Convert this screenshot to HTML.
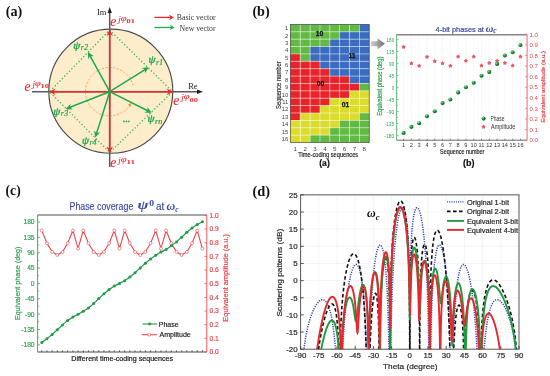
<!DOCTYPE html>
<html><head><meta charset="utf-8"><style>
html,body{margin:0;padding:0;background:#fff;width:550px;height:376px;overflow:hidden}
svg{display:block;will-change:transform}
</style></head><body>
<svg width="550" height="376" viewBox="0 0 550 376">
<rect width="550" height="376" fill="#fff"/>
<text x="5.80" y="16.10" font-family='"Liberation Serif", serif' font-size="14.2" fill="#111" text-anchor="start" font-weight="bold" font-style="normal" >(a)</text>
<circle cx="110.8" cy="91.2" r="62" fill="#fdedcb" stroke="#4a4a4a" stroke-width="1.15"/>
<polygon points="109.7,30 172.5,91.7 109.7,152.5 49.5,91.7" fill="none" stroke="#3dbb5a" stroke-width="1.4" stroke-dasharray="1.3 2.1"/>
<path d="M133.08,85.44 A24.2,24.2 0 1 0 130.00,104.88" fill="none" stroke="#f2a050" stroke-width="0.9" stroke-dasharray="2.2 1.5"/>
<polygon points="131.50,102.88 128.00,104.38 130.50,106.88" fill="#f5893a"/>
<line x1="32.00" y1="91.70" x2="199.00" y2="91.70" stroke="#5a5a5a" stroke-width="1.5" />
<polygon points="203,91.7 197,89.5 197,93.9" fill="#222"/>
<line x1="109.70" y1="167.00" x2="109.70" y2="11.00" stroke="#5a5a5a" stroke-width="1.5" />
<polygon points="109.7,7 107.5,13 111.9,13" fill="#222"/>
<line x1="109.70" y1="91.70" x2="169.30" y2="91.70" stroke="#ec2a2e" stroke-width="1.6" />
<polygon points="173.20,91.70 166.70,95.00 168.65,91.70 166.70,88.40" fill="#ec2a2e"/>
<line x1="109.70" y1="91.70" x2="52.90" y2="91.70" stroke="#ec2a2e" stroke-width="1.6" />
<polygon points="49.00,91.70 55.50,88.40 53.55,91.70 55.50,95.00" fill="#ec2a2e"/>
<line x1="109.70" y1="91.70" x2="109.70" y2="33.40" stroke="#ec2a2e" stroke-width="1.6" />
<polygon points="109.70,29.50 113.00,36.00 109.70,34.05 106.40,36.00" fill="#ec2a2e"/>
<line x1="109.70" y1="91.70" x2="109.70" y2="149.10" stroke="#ec2a2e" stroke-width="1.6" />
<polygon points="109.70,153.00 106.40,146.50 109.70,148.45 113.00,146.50" fill="#ec2a2e"/>
<line x1="109.70" y1="91.70" x2="145.50" y2="69.27" stroke="#1ea84c" stroke-width="1.5" />
<polygon points="148.80,67.20 144.99,73.36 144.94,69.62 141.59,67.94" fill="#1ea84c"/>
<line x1="109.70" y1="91.70" x2="89.78" y2="55.42" stroke="#1ea84c" stroke-width="1.5" />
<polygon points="87.90,52.00 93.83,56.16 90.09,55.99 88.22,59.24" fill="#1ea84c"/>
<line x1="109.70" y1="91.70" x2="69.33" y2="107.57" stroke="#1ea84c" stroke-width="1.5" />
<polygon points="65.70,109.00 70.58,103.64 69.93,107.34 72.92,109.60" fill="#1ea84c"/>
<line x1="109.70" y1="91.70" x2="96.37" y2="133.88" stroke="#1ea84c" stroke-width="1.5" />
<polygon points="95.20,137.60 94.11,130.44 96.57,133.26 100.21,132.37" fill="#1ea84c"/>
<line x1="109.70" y1="91.70" x2="148.21" y2="110.96" stroke="#1ea84c" stroke-width="1.5" />
<polygon points="151.70,112.70 144.46,112.66 147.63,110.67 147.32,106.93" fill="#1ea84c"/>
<text x="97.00" y="14.70" font-family='"Liberation Serif", serif' font-size="8.5" fill="#222" text-anchor="start" font-weight="normal" font-style="normal" >Im</text>
<text x="188.20" y="88.60" font-family='"Liberation Serif", serif' font-size="8.5" fill="#222" text-anchor="start" font-weight="normal" font-style="normal" >Re</text>
<text x="110.30" y="26.00" font-family='"Liberation Serif", serif' fill='#ec2a2e' font-style="italic" font-size="13.6" stroke="#ec2a2e" stroke-width="0.12">e</text>
<text x="118.30" y="21.90" font-family='"Liberation Serif", serif' fill='#ec2a2e' font-style="italic" font-size="9" stroke="#ec2a2e" stroke-width="0.1">j</text>
<text x="120.80" y="20.80" font-family='"Liberation Serif", serif' fill='#ec2a2e' font-style="italic" font-size="9" stroke="#ec2a2e" stroke-width="0.12" textLength="5.8" lengthAdjust="spacingAndGlyphs">φ</text>
<text x="126.50" y="23.00" font-family='"Liberation Serif", serif' fill='#ec2a2e' font-weight="bold" font-size="6.2" textLength="8.5" lengthAdjust="spacingAndGlyphs">01</text>
<text x="173.20" y="104.50" font-family='"Liberation Serif", serif' fill='#ec2a2e' font-style="italic" font-size="13.6" stroke="#ec2a2e" stroke-width="0.12">e</text>
<text x="181.20" y="100.40" font-family='"Liberation Serif", serif' fill='#ec2a2e' font-style="italic" font-size="9" stroke="#ec2a2e" stroke-width="0.1">j</text>
<text x="183.70" y="99.30" font-family='"Liberation Serif", serif' fill='#ec2a2e' font-style="italic" font-size="9" stroke="#ec2a2e" stroke-width="0.12" textLength="5.8" lengthAdjust="spacingAndGlyphs">φ</text>
<text x="189.40" y="101.50" font-family='"Liberation Serif", serif' fill='#ec2a2e' font-weight="bold" font-size="6.2" textLength="8.5" lengthAdjust="spacingAndGlyphs">00</text>
<text x="24.40" y="90.90" font-family='"Liberation Serif", serif' fill='#ec2a2e' font-style="italic" font-size="13.6" stroke="#ec2a2e" stroke-width="0.12">e</text>
<text x="32.40" y="86.80" font-family='"Liberation Serif", serif' fill='#ec2a2e' font-style="italic" font-size="9" stroke="#ec2a2e" stroke-width="0.1">j</text>
<text x="34.90" y="85.70" font-family='"Liberation Serif", serif' fill='#ec2a2e' font-style="italic" font-size="9" stroke="#ec2a2e" stroke-width="0.12" textLength="5.8" lengthAdjust="spacingAndGlyphs">φ</text>
<text x="40.60" y="87.90" font-family='"Liberation Serif", serif' fill='#ec2a2e' font-weight="bold" font-size="6.2" textLength="8.5" lengthAdjust="spacingAndGlyphs">10</text>
<text x="110.30" y="166.80" font-family='"Liberation Serif", serif' fill='#ec2a2e' font-style="italic" font-size="13.6" stroke="#ec2a2e" stroke-width="0.12">e</text>
<text x="118.30" y="162.70" font-family='"Liberation Serif", serif' fill='#ec2a2e' font-style="italic" font-size="9" stroke="#ec2a2e" stroke-width="0.1">j</text>
<text x="120.80" y="161.60" font-family='"Liberation Serif", serif' fill='#ec2a2e' font-style="italic" font-size="9" stroke="#ec2a2e" stroke-width="0.12" textLength="5.8" lengthAdjust="spacingAndGlyphs">φ</text>
<text x="126.50" y="163.80" font-family='"Liberation Serif", serif' fill='#ec2a2e' font-weight="bold" font-size="6.2" textLength="8.5" lengthAdjust="spacingAndGlyphs">11</text>
<text x="73.30" y="48.70" font-family='"Liberation Serif", serif' fill='#1ea84c' font-style='italic' font-size="10" stroke="#1ea84c" stroke-width="0.35" textLength="7" lengthAdjust="spacingAndGlyphs">ψ</text>
<text x="80.70" y="50.40" font-family='"Liberation Serif", serif' fill='#1ea84c' font-style='italic' font-size="7.6" stroke="#1ea84c" stroke-width="0.2" textLength="7.3" lengthAdjust="spacingAndGlyphs">r2</text>
<text x="148.50" y="63.00" font-family='"Liberation Serif", serif' fill='#1ea84c' font-style='italic' font-size="10" stroke="#1ea84c" stroke-width="0.35" textLength="7" lengthAdjust="spacingAndGlyphs">ψ</text>
<text x="155.90" y="64.70" font-family='"Liberation Serif", serif' fill='#1ea84c' font-style='italic' font-size="7.6" stroke="#1ea84c" stroke-width="0.2" textLength="7.3" lengthAdjust="spacingAndGlyphs">r1</text>
<text x="53.30" y="114.50" font-family='"Liberation Serif", serif' fill='#1ea84c' font-style='italic' font-size="10" stroke="#1ea84c" stroke-width="0.35" textLength="7" lengthAdjust="spacingAndGlyphs">ψ</text>
<text x="60.70" y="116.20" font-family='"Liberation Serif", serif' fill='#1ea84c' font-style='italic' font-size="7.6" stroke="#1ea84c" stroke-width="0.2" textLength="7.3" lengthAdjust="spacingAndGlyphs">r3</text>
<text x="82.00" y="143.50" font-family='"Liberation Serif", serif' fill='#1ea84c' font-style='italic' font-size="10" stroke="#1ea84c" stroke-width="0.35" textLength="7" lengthAdjust="spacingAndGlyphs">ψ</text>
<text x="89.40" y="145.20" font-family='"Liberation Serif", serif' fill='#1ea84c' font-style='italic' font-size="7.6" stroke="#1ea84c" stroke-width="0.2" textLength="7.3" lengthAdjust="spacingAndGlyphs">r4</text>
<text x="147.60" y="121.90" font-family='"Liberation Serif", serif' fill='#1ea84c' font-style='italic' font-size="10" stroke="#1ea84c" stroke-width="0.35" textLength="7" lengthAdjust="spacingAndGlyphs">ψ</text>
<text x="155.00" y="123.60" font-family='"Liberation Serif", serif' fill='#1ea84c' font-style='italic' font-size="7.6" stroke="#1ea84c" stroke-width="0.2" textLength="7.3" lengthAdjust="spacingAndGlyphs">rn</text>
<circle cx="123.9" cy="121.4" r="0.85" fill="#1ea84c"/><circle cx="126.4" cy="121.4" r="0.85" fill="#1ea84c"/><circle cx="128.9" cy="121.4" r="0.85" fill="#1ea84c"/>
<line x1="154.40" y1="17.40" x2="171.00" y2="17.40" stroke="#ec2a2e" stroke-width="1.3" />
<polygon points="174.00,17.40 169.00,20.20 170.50,17.40 169.00,14.60" fill="#ec2a2e"/>
<line x1="154.40" y1="27.50" x2="171.70" y2="27.50" stroke="#1ea84c" stroke-width="1.3" />
<polygon points="174.70,27.50 169.70,30.30 171.20,27.50 169.70,24.70" fill="#1ea84c"/>
<text x="176.70" y="20.30" font-family='"Liberation Serif", serif' font-size="9" fill="#333" text-anchor="start" font-weight="normal" font-style="normal"  textLength="39" lengthAdjust="spacingAndGlyphs">Basic vector</text>
<text x="179.60" y="30.50" font-family='"Liberation Serif", serif' font-size="9" fill="#333" text-anchor="start" font-weight="normal" font-style="normal"  textLength="36" lengthAdjust="spacingAndGlyphs">New vector</text>
<text x="252.40" y="16.10" font-family='"Liberation Serif", serif' font-size="14.2" fill="#111" text-anchor="start" font-weight="bold" font-style="normal" >(b)</text>
<rect x="290.40" y="24.40" width="9.90" height="7.43" fill="#62b944"/>
<rect x="300.25" y="24.40" width="9.90" height="7.43" fill="#62b944"/>
<rect x="310.10" y="24.40" width="9.90" height="7.43" fill="#62b944"/>
<rect x="319.95" y="24.40" width="9.90" height="7.43" fill="#62b944"/>
<rect x="329.80" y="24.40" width="9.90" height="7.43" fill="#62b944"/>
<rect x="339.65" y="24.40" width="9.90" height="7.43" fill="#62b944"/>
<rect x="349.50" y="24.40" width="9.90" height="7.43" fill="#62b944"/>
<rect x="359.35" y="24.40" width="9.90" height="7.43" fill="#3b6cbf"/>
<rect x="290.40" y="31.78" width="9.90" height="7.43" fill="#62b944"/>
<rect x="300.25" y="31.78" width="9.90" height="7.43" fill="#62b944"/>
<rect x="310.10" y="31.78" width="9.90" height="7.43" fill="#62b944"/>
<rect x="319.95" y="31.78" width="9.90" height="7.43" fill="#62b944"/>
<rect x="329.80" y="31.78" width="9.90" height="7.43" fill="#62b944"/>
<rect x="339.65" y="31.78" width="9.90" height="7.43" fill="#3b6cbf"/>
<rect x="349.50" y="31.78" width="9.90" height="7.43" fill="#3b6cbf"/>
<rect x="359.35" y="31.78" width="9.90" height="7.43" fill="#3b6cbf"/>
<rect x="290.40" y="39.16" width="9.90" height="7.43" fill="#62b944"/>
<rect x="300.25" y="39.16" width="9.90" height="7.43" fill="#62b944"/>
<rect x="310.10" y="39.16" width="9.90" height="7.43" fill="#62b944"/>
<rect x="319.95" y="39.16" width="9.90" height="7.43" fill="#62b944"/>
<rect x="329.80" y="39.16" width="9.90" height="7.43" fill="#3b6cbf"/>
<rect x="339.65" y="39.16" width="9.90" height="7.43" fill="#3b6cbf"/>
<rect x="349.50" y="39.16" width="9.90" height="7.43" fill="#3b6cbf"/>
<rect x="359.35" y="39.16" width="9.90" height="7.43" fill="#3b6cbf"/>
<rect x="290.40" y="46.54" width="9.90" height="7.43" fill="#62b944"/>
<rect x="300.25" y="46.54" width="9.90" height="7.43" fill="#62b944"/>
<rect x="310.10" y="46.54" width="9.90" height="7.43" fill="#3b6cbf"/>
<rect x="319.95" y="46.54" width="9.90" height="7.43" fill="#3b6cbf"/>
<rect x="329.80" y="46.54" width="9.90" height="7.43" fill="#3b6cbf"/>
<rect x="339.65" y="46.54" width="9.90" height="7.43" fill="#3b6cbf"/>
<rect x="349.50" y="46.54" width="9.90" height="7.43" fill="#3b6cbf"/>
<rect x="359.35" y="46.54" width="9.90" height="7.43" fill="#3b6cbf"/>
<rect x="290.40" y="53.92" width="9.90" height="7.43" fill="#e8232a"/>
<rect x="300.25" y="53.92" width="9.90" height="7.43" fill="#62b944"/>
<rect x="310.10" y="53.92" width="9.90" height="7.43" fill="#3b6cbf"/>
<rect x="319.95" y="53.92" width="9.90" height="7.43" fill="#3b6cbf"/>
<rect x="329.80" y="53.92" width="9.90" height="7.43" fill="#3b6cbf"/>
<rect x="339.65" y="53.92" width="9.90" height="7.43" fill="#3b6cbf"/>
<rect x="349.50" y="53.92" width="9.90" height="7.43" fill="#3b6cbf"/>
<rect x="359.35" y="53.92" width="9.90" height="7.43" fill="#3b6cbf"/>
<rect x="290.40" y="61.31" width="9.90" height="7.43" fill="#e8232a"/>
<rect x="300.25" y="61.31" width="9.90" height="7.43" fill="#e8232a"/>
<rect x="310.10" y="61.31" width="9.90" height="7.43" fill="#e8232a"/>
<rect x="319.95" y="61.31" width="9.90" height="7.43" fill="#3b6cbf"/>
<rect x="329.80" y="61.31" width="9.90" height="7.43" fill="#3b6cbf"/>
<rect x="339.65" y="61.31" width="9.90" height="7.43" fill="#3b6cbf"/>
<rect x="349.50" y="61.31" width="9.90" height="7.43" fill="#3b6cbf"/>
<rect x="359.35" y="61.31" width="9.90" height="7.43" fill="#3b6cbf"/>
<rect x="290.40" y="68.69" width="9.90" height="7.43" fill="#e8232a"/>
<rect x="300.25" y="68.69" width="9.90" height="7.43" fill="#e8232a"/>
<rect x="310.10" y="68.69" width="9.90" height="7.43" fill="#e8232a"/>
<rect x="319.95" y="68.69" width="9.90" height="7.43" fill="#e8232a"/>
<rect x="329.80" y="68.69" width="9.90" height="7.43" fill="#3b6cbf"/>
<rect x="339.65" y="68.69" width="9.90" height="7.43" fill="#3b6cbf"/>
<rect x="349.50" y="68.69" width="9.90" height="7.43" fill="#3b6cbf"/>
<rect x="359.35" y="68.69" width="9.90" height="7.43" fill="#3b6cbf"/>
<rect x="290.40" y="76.07" width="9.90" height="7.43" fill="#e8232a"/>
<rect x="300.25" y="76.07" width="9.90" height="7.43" fill="#e8232a"/>
<rect x="310.10" y="76.07" width="9.90" height="7.43" fill="#e8232a"/>
<rect x="319.95" y="76.07" width="9.90" height="7.43" fill="#e8232a"/>
<rect x="329.80" y="76.07" width="9.90" height="7.43" fill="#e8232a"/>
<rect x="339.65" y="76.07" width="9.90" height="7.43" fill="#e8232a"/>
<rect x="349.50" y="76.07" width="9.90" height="7.43" fill="#3b6cbf"/>
<rect x="359.35" y="76.07" width="9.90" height="7.43" fill="#3b6cbf"/>
<rect x="290.40" y="83.45" width="9.90" height="7.43" fill="#e8232a"/>
<rect x="300.25" y="83.45" width="9.90" height="7.43" fill="#e8232a"/>
<rect x="310.10" y="83.45" width="9.90" height="7.43" fill="#e8232a"/>
<rect x="319.95" y="83.45" width="9.90" height="7.43" fill="#e8232a"/>
<rect x="329.80" y="83.45" width="9.90" height="7.43" fill="#e8232a"/>
<rect x="339.65" y="83.45" width="9.90" height="7.43" fill="#e8232a"/>
<rect x="349.50" y="83.45" width="9.90" height="7.43" fill="#e8232a"/>
<rect x="359.35" y="83.45" width="9.90" height="7.43" fill="#62b944"/>
<rect x="290.40" y="90.83" width="9.90" height="7.43" fill="#e8232a"/>
<rect x="300.25" y="90.83" width="9.90" height="7.43" fill="#e8232a"/>
<rect x="310.10" y="90.83" width="9.90" height="7.43" fill="#e8232a"/>
<rect x="319.95" y="90.83" width="9.90" height="7.43" fill="#e8232a"/>
<rect x="329.80" y="90.83" width="9.90" height="7.43" fill="#e8232a"/>
<rect x="339.65" y="90.83" width="9.90" height="7.43" fill="#e8232a"/>
<rect x="349.50" y="90.83" width="9.90" height="7.43" fill="#dcdc2e"/>
<rect x="359.35" y="90.83" width="9.90" height="7.43" fill="#dcdc2e"/>
<rect x="290.40" y="98.21" width="9.90" height="7.43" fill="#e8232a"/>
<rect x="300.25" y="98.21" width="9.90" height="7.43" fill="#e8232a"/>
<rect x="310.10" y="98.21" width="9.90" height="7.43" fill="#e8232a"/>
<rect x="319.95" y="98.21" width="9.90" height="7.43" fill="#e8232a"/>
<rect x="329.80" y="98.21" width="9.90" height="7.43" fill="#dcdc2e"/>
<rect x="339.65" y="98.21" width="9.90" height="7.43" fill="#dcdc2e"/>
<rect x="349.50" y="98.21" width="9.90" height="7.43" fill="#dcdc2e"/>
<rect x="359.35" y="98.21" width="9.90" height="7.43" fill="#dcdc2e"/>
<rect x="290.40" y="105.59" width="9.90" height="7.43" fill="#e8232a"/>
<rect x="300.25" y="105.59" width="9.90" height="7.43" fill="#e8232a"/>
<rect x="310.10" y="105.59" width="9.90" height="7.43" fill="#e8232a"/>
<rect x="319.95" y="105.59" width="9.90" height="7.43" fill="#dcdc2e"/>
<rect x="329.80" y="105.59" width="9.90" height="7.43" fill="#dcdc2e"/>
<rect x="339.65" y="105.59" width="9.90" height="7.43" fill="#dcdc2e"/>
<rect x="349.50" y="105.59" width="9.90" height="7.43" fill="#dcdc2e"/>
<rect x="359.35" y="105.59" width="9.90" height="7.43" fill="#dcdc2e"/>
<rect x="290.40" y="112.97" width="9.90" height="7.43" fill="#e8232a"/>
<rect x="300.25" y="112.97" width="9.90" height="7.43" fill="#dcdc2e"/>
<rect x="310.10" y="112.97" width="9.90" height="7.43" fill="#dcdc2e"/>
<rect x="319.95" y="112.97" width="9.90" height="7.43" fill="#dcdc2e"/>
<rect x="329.80" y="112.97" width="9.90" height="7.43" fill="#dcdc2e"/>
<rect x="339.65" y="112.97" width="9.90" height="7.43" fill="#dcdc2e"/>
<rect x="349.50" y="112.97" width="9.90" height="7.43" fill="#dcdc2e"/>
<rect x="359.35" y="112.97" width="9.90" height="7.43" fill="#62b944"/>
<rect x="290.40" y="120.36" width="9.90" height="7.43" fill="#dcdc2e"/>
<rect x="300.25" y="120.36" width="9.90" height="7.43" fill="#dcdc2e"/>
<rect x="310.10" y="120.36" width="9.90" height="7.43" fill="#dcdc2e"/>
<rect x="319.95" y="120.36" width="9.90" height="7.43" fill="#dcdc2e"/>
<rect x="329.80" y="120.36" width="9.90" height="7.43" fill="#dcdc2e"/>
<rect x="339.65" y="120.36" width="9.90" height="7.43" fill="#62b944"/>
<rect x="349.50" y="120.36" width="9.90" height="7.43" fill="#62b944"/>
<rect x="359.35" y="120.36" width="9.90" height="7.43" fill="#62b944"/>
<rect x="290.40" y="127.74" width="9.90" height="7.43" fill="#dcdc2e"/>
<rect x="300.25" y="127.74" width="9.90" height="7.43" fill="#dcdc2e"/>
<rect x="310.10" y="127.74" width="9.90" height="7.43" fill="#dcdc2e"/>
<rect x="319.95" y="127.74" width="9.90" height="7.43" fill="#dcdc2e"/>
<rect x="329.80" y="127.74" width="9.90" height="7.43" fill="#62b944"/>
<rect x="339.65" y="127.74" width="9.90" height="7.43" fill="#62b944"/>
<rect x="349.50" y="127.74" width="9.90" height="7.43" fill="#62b944"/>
<rect x="359.35" y="127.74" width="9.90" height="7.43" fill="#62b944"/>
<rect x="290.40" y="135.12" width="9.90" height="7.43" fill="#dcdc2e"/>
<rect x="300.25" y="135.12" width="9.90" height="7.43" fill="#dcdc2e"/>
<rect x="310.10" y="135.12" width="9.90" height="7.43" fill="#62b944"/>
<rect x="319.95" y="135.12" width="9.90" height="7.43" fill="#62b944"/>
<rect x="329.80" y="135.12" width="9.90" height="7.43" fill="#62b944"/>
<rect x="339.65" y="135.12" width="9.90" height="7.43" fill="#62b944"/>
<rect x="349.50" y="135.12" width="9.90" height="7.43" fill="#62b944"/>
<rect x="359.35" y="135.12" width="9.90" height="7.43" fill="#62b944"/>
<line x1="300.25" y1="24.40" x2="300.25" y2="142.50" stroke="#ffffff" stroke-width="0.7" opacity="0.7"/>
<line x1="310.10" y1="24.40" x2="310.10" y2="142.50" stroke="#ffffff" stroke-width="0.7" opacity="0.7"/>
<line x1="319.95" y1="24.40" x2="319.95" y2="142.50" stroke="#ffffff" stroke-width="0.7" opacity="0.7"/>
<line x1="329.80" y1="24.40" x2="329.80" y2="142.50" stroke="#ffffff" stroke-width="0.7" opacity="0.7"/>
<line x1="339.65" y1="24.40" x2="339.65" y2="142.50" stroke="#ffffff" stroke-width="0.7" opacity="0.7"/>
<line x1="349.50" y1="24.40" x2="349.50" y2="142.50" stroke="#ffffff" stroke-width="0.7" opacity="0.7"/>
<line x1="359.35" y1="24.40" x2="359.35" y2="142.50" stroke="#ffffff" stroke-width="0.7" opacity="0.7"/>
<line x1="290.40" y1="31.78" x2="369.20" y2="31.78" stroke="#ffffff" stroke-width="0.7" opacity="0.7"/>
<line x1="290.40" y1="39.16" x2="369.20" y2="39.16" stroke="#ffffff" stroke-width="0.7" opacity="0.7"/>
<line x1="290.40" y1="46.54" x2="369.20" y2="46.54" stroke="#ffffff" stroke-width="0.7" opacity="0.7"/>
<line x1="290.40" y1="53.92" x2="369.20" y2="53.92" stroke="#ffffff" stroke-width="0.7" opacity="0.7"/>
<line x1="290.40" y1="61.31" x2="369.20" y2="61.31" stroke="#ffffff" stroke-width="0.7" opacity="0.7"/>
<line x1="290.40" y1="68.69" x2="369.20" y2="68.69" stroke="#ffffff" stroke-width="0.7" opacity="0.7"/>
<line x1="290.40" y1="76.07" x2="369.20" y2="76.07" stroke="#ffffff" stroke-width="0.7" opacity="0.7"/>
<line x1="290.40" y1="83.45" x2="369.20" y2="83.45" stroke="#ffffff" stroke-width="0.7" opacity="0.7"/>
<line x1="290.40" y1="90.83" x2="369.20" y2="90.83" stroke="#ffffff" stroke-width="0.7" opacity="0.7"/>
<line x1="290.40" y1="98.21" x2="369.20" y2="98.21" stroke="#ffffff" stroke-width="0.7" opacity="0.7"/>
<line x1="290.40" y1="105.59" x2="369.20" y2="105.59" stroke="#ffffff" stroke-width="0.7" opacity="0.7"/>
<line x1="290.40" y1="112.97" x2="369.20" y2="112.97" stroke="#ffffff" stroke-width="0.7" opacity="0.7"/>
<line x1="290.40" y1="120.36" x2="369.20" y2="120.36" stroke="#ffffff" stroke-width="0.7" opacity="0.7"/>
<line x1="290.40" y1="127.74" x2="369.20" y2="127.74" stroke="#ffffff" stroke-width="0.7" opacity="0.7"/>
<line x1="290.40" y1="135.12" x2="369.20" y2="135.12" stroke="#ffffff" stroke-width="0.7" opacity="0.7"/>
<rect x="290.4" y="24.4" width="78.80" height="118.10" fill="none" stroke="#333" stroke-width="0.6"/>
<text x="288.40" y="30.19" font-family='"Liberation Sans", sans-serif' font-size="5.9" fill="#444" text-anchor="end" font-weight="normal" font-style="normal" stroke="none">1</text>
<text x="288.40" y="37.57" font-family='"Liberation Sans", sans-serif' font-size="5.9" fill="#444" text-anchor="end" font-weight="normal" font-style="normal" stroke="none">2</text>
<text x="288.40" y="44.95" font-family='"Liberation Sans", sans-serif' font-size="5.9" fill="#444" text-anchor="end" font-weight="normal" font-style="normal" stroke="none">3</text>
<text x="288.40" y="52.33" font-family='"Liberation Sans", sans-serif' font-size="5.9" fill="#444" text-anchor="end" font-weight="normal" font-style="normal" stroke="none">4</text>
<text x="288.40" y="59.72" font-family='"Liberation Sans", sans-serif' font-size="5.9" fill="#444" text-anchor="end" font-weight="normal" font-style="normal" stroke="none">5</text>
<text x="288.40" y="67.10" font-family='"Liberation Sans", sans-serif' font-size="5.9" fill="#444" text-anchor="end" font-weight="normal" font-style="normal" stroke="none">6</text>
<text x="288.40" y="74.48" font-family='"Liberation Sans", sans-serif' font-size="5.9" fill="#444" text-anchor="end" font-weight="normal" font-style="normal" stroke="none">7</text>
<text x="288.40" y="81.86" font-family='"Liberation Sans", sans-serif' font-size="5.9" fill="#444" text-anchor="end" font-weight="normal" font-style="normal" stroke="none">8</text>
<text x="288.40" y="89.24" font-family='"Liberation Sans", sans-serif' font-size="5.9" fill="#444" text-anchor="end" font-weight="normal" font-style="normal" stroke="none">9</text>
<text x="288.40" y="96.62" font-family='"Liberation Sans", sans-serif' font-size="5.9" fill="#444" text-anchor="end" font-weight="normal" font-style="normal" stroke="none">10</text>
<text x="288.40" y="104.00" font-family='"Liberation Sans", sans-serif' font-size="5.9" fill="#444" text-anchor="end" font-weight="normal" font-style="normal" stroke="none">11</text>
<text x="288.40" y="111.38" font-family='"Liberation Sans", sans-serif' font-size="5.9" fill="#444" text-anchor="end" font-weight="normal" font-style="normal" stroke="none">12</text>
<text x="288.40" y="118.77" font-family='"Liberation Sans", sans-serif' font-size="5.9" fill="#444" text-anchor="end" font-weight="normal" font-style="normal" stroke="none">13</text>
<text x="288.40" y="126.15" font-family='"Liberation Sans", sans-serif' font-size="5.9" fill="#444" text-anchor="end" font-weight="normal" font-style="normal" stroke="none">14</text>
<text x="288.40" y="133.53" font-family='"Liberation Sans", sans-serif' font-size="5.9" fill="#444" text-anchor="end" font-weight="normal" font-style="normal" stroke="none">15</text>
<text x="288.40" y="140.91" font-family='"Liberation Sans", sans-serif' font-size="5.9" fill="#444" text-anchor="end" font-weight="normal" font-style="normal" stroke="none">16</text>
<text x="295.32" y="150.80" font-family='"Liberation Sans", sans-serif' font-size="6.2" fill="#444" text-anchor="middle" font-weight="normal" font-style="normal" stroke="none">1</text>
<text x="305.17" y="150.80" font-family='"Liberation Sans", sans-serif' font-size="6.2" fill="#444" text-anchor="middle" font-weight="normal" font-style="normal" stroke="none">2</text>
<text x="315.02" y="150.80" font-family='"Liberation Sans", sans-serif' font-size="6.2" fill="#444" text-anchor="middle" font-weight="normal" font-style="normal" stroke="none">3</text>
<text x="324.88" y="150.80" font-family='"Liberation Sans", sans-serif' font-size="6.2" fill="#444" text-anchor="middle" font-weight="normal" font-style="normal" stroke="none">4</text>
<text x="334.72" y="150.80" font-family='"Liberation Sans", sans-serif' font-size="6.2" fill="#444" text-anchor="middle" font-weight="normal" font-style="normal" stroke="none">5</text>
<text x="344.57" y="150.80" font-family='"Liberation Sans", sans-serif' font-size="6.2" fill="#444" text-anchor="middle" font-weight="normal" font-style="normal" stroke="none">6</text>
<text x="354.42" y="150.80" font-family='"Liberation Sans", sans-serif' font-size="6.2" fill="#444" text-anchor="middle" font-weight="normal" font-style="normal" stroke="none">7</text>
<text x="364.27" y="150.80" font-family='"Liberation Sans", sans-serif' font-size="6.2" fill="#444" text-anchor="middle" font-weight="normal" font-style="normal" stroke="none">8</text>
<text x="328.20" y="157.30" font-family='"Liberation Sans", sans-serif' font-size="6.6" fill="#222" text-anchor="middle" font-weight="normal" font-style="normal"  textLength="60" lengthAdjust="spacingAndGlyphs" stroke="#222" stroke-width="0.18">Time-coding sequences</text>
<text x="280.80" y="85.10" font-family='"Liberation Sans", sans-serif' font-size="6.6" fill="#333" stroke="#333" stroke-width="0.18" text-anchor="middle" textLength="47.8" lengthAdjust="spacingAndGlyphs" transform="rotate(-90 280.80 85.10)">Sequence number</text>
<text x="315.80" y="35.50" font-family='"Liberation Sans", sans-serif' font-size="6.8" fill="#111" text-anchor="start" font-weight="bold" font-style="normal" stroke="#111" stroke-width="0.25">10</text>
<text x="348.40" y="58.30" font-family='"Liberation Sans", sans-serif' font-size="6.8" fill="#111" text-anchor="start" font-weight="bold" font-style="normal" stroke="#111" stroke-width="0.25">11</text>
<text x="316.80" y="86.30" font-family='"Liberation Sans", sans-serif' font-size="6.8" fill="#111" text-anchor="start" font-weight="bold" font-style="normal" stroke="#111" stroke-width="0.25">00</text>
<text x="341.80" y="106.80" font-family='"Liberation Sans", sans-serif' font-size="6.8" fill="#111" text-anchor="start" font-weight="bold" font-style="normal" stroke="#111" stroke-width="0.25">01</text>
<text x="324.50" y="166.00" font-family='"Liberation Sans", sans-serif' font-size="8.6" fill="#111" text-anchor="middle" font-weight="bold" font-style="normal"  stroke="#111" stroke-width="0.18">(a)</text>
<defs><linearGradient id="ga" x1="0" x2="1"><stop offset="0" stop-color="#d0d0d0"/><stop offset="1" stop-color="#707070"/></linearGradient></defs>
<polygon points="371,41.3 377.5,41.3 377.5,38.3 385,43.8 377.5,49.3 377.5,46.3 371,46.3" fill="url(#ga)"/>
<line x1="403.60" y1="34.70" x2="403.60" y2="140.20" stroke="#dcdcdc" stroke-width="0.5" stroke-dasharray="1 1.2"/>
<line x1="411.39" y1="34.70" x2="411.39" y2="140.20" stroke="#dcdcdc" stroke-width="0.5" stroke-dasharray="1 1.2"/>
<line x1="419.18" y1="34.70" x2="419.18" y2="140.20" stroke="#dcdcdc" stroke-width="0.5" stroke-dasharray="1 1.2"/>
<line x1="426.97" y1="34.70" x2="426.97" y2="140.20" stroke="#dcdcdc" stroke-width="0.5" stroke-dasharray="1 1.2"/>
<line x1="434.76" y1="34.70" x2="434.76" y2="140.20" stroke="#dcdcdc" stroke-width="0.5" stroke-dasharray="1 1.2"/>
<line x1="442.55" y1="34.70" x2="442.55" y2="140.20" stroke="#dcdcdc" stroke-width="0.5" stroke-dasharray="1 1.2"/>
<line x1="450.34" y1="34.70" x2="450.34" y2="140.20" stroke="#dcdcdc" stroke-width="0.5" stroke-dasharray="1 1.2"/>
<line x1="458.13" y1="34.70" x2="458.13" y2="140.20" stroke="#dcdcdc" stroke-width="0.5" stroke-dasharray="1 1.2"/>
<line x1="465.92" y1="34.70" x2="465.92" y2="140.20" stroke="#dcdcdc" stroke-width="0.5" stroke-dasharray="1 1.2"/>
<line x1="473.71" y1="34.70" x2="473.71" y2="140.20" stroke="#dcdcdc" stroke-width="0.5" stroke-dasharray="1 1.2"/>
<line x1="481.50" y1="34.70" x2="481.50" y2="140.20" stroke="#dcdcdc" stroke-width="0.5" stroke-dasharray="1 1.2"/>
<line x1="489.29" y1="34.70" x2="489.29" y2="140.20" stroke="#dcdcdc" stroke-width="0.5" stroke-dasharray="1 1.2"/>
<line x1="497.08" y1="34.70" x2="497.08" y2="140.20" stroke="#dcdcdc" stroke-width="0.5" stroke-dasharray="1 1.2"/>
<line x1="504.87" y1="34.70" x2="504.87" y2="140.20" stroke="#dcdcdc" stroke-width="0.5" stroke-dasharray="1 1.2"/>
<line x1="512.66" y1="34.70" x2="512.66" y2="140.20" stroke="#dcdcdc" stroke-width="0.5" stroke-dasharray="1 1.2"/>
<line x1="520.45" y1="34.70" x2="520.45" y2="140.20" stroke="#dcdcdc" stroke-width="0.5" stroke-dasharray="1 1.2"/>
<line x1="396.6" y1="34.7" x2="527.1" y2="34.7" stroke="#858585" stroke-width="1.4"/>
<line x1="396.6" y1="140.2" x2="527.1" y2="140.2" stroke="#444" stroke-width="0.8"/>
<line x1="396.6" y1="34.7" x2="396.6" y2="140.2" stroke="#55b06a" stroke-width="0.9"/>
<line x1="527.1" y1="34.7" x2="527.1" y2="140.2" stroke="#ea5a60" stroke-width="0.9"/>
<line x1="396.60" y1="135.40" x2="398.60" y2="135.40" stroke="#55b06a" stroke-width="0.7" />
<line x1="396.60" y1="129.45" x2="397.80" y2="129.45" stroke="#55b06a" stroke-width="0.6" />
<text x="394.20" y="137.60" font-family='"Liberation Sans", sans-serif' font-size="6.0" fill="#2e9e4e" text-anchor="end" font-weight="normal" font-style="normal" stroke="none" textLength="9.65" lengthAdjust="spacingAndGlyphs">-180</text>
<line x1="396.60" y1="123.40" x2="398.60" y2="123.40" stroke="#55b06a" stroke-width="0.7" />
<line x1="396.60" y1="117.45" x2="397.80" y2="117.45" stroke="#55b06a" stroke-width="0.6" />
<text x="394.20" y="125.60" font-family='"Liberation Sans", sans-serif' font-size="6.0" fill="#2e9e4e" text-anchor="end" font-weight="normal" font-style="normal" stroke="none" textLength="9.65" lengthAdjust="spacingAndGlyphs">-135</text>
<line x1="396.60" y1="111.40" x2="398.60" y2="111.40" stroke="#55b06a" stroke-width="0.7" />
<line x1="396.60" y1="105.45" x2="397.80" y2="105.45" stroke="#55b06a" stroke-width="0.6" />
<text x="394.20" y="113.60" font-family='"Liberation Sans", sans-serif' font-size="6.0" fill="#2e9e4e" text-anchor="end" font-weight="normal" font-style="normal" stroke="none" textLength="7.1" lengthAdjust="spacingAndGlyphs">-90</text>
<line x1="396.60" y1="99.40" x2="398.60" y2="99.40" stroke="#55b06a" stroke-width="0.7" />
<line x1="396.60" y1="93.45" x2="397.80" y2="93.45" stroke="#55b06a" stroke-width="0.6" />
<text x="394.20" y="101.60" font-family='"Liberation Sans", sans-serif' font-size="6.0" fill="#2e9e4e" text-anchor="end" font-weight="normal" font-style="normal" stroke="none" textLength="7.1" lengthAdjust="spacingAndGlyphs">-45</text>
<line x1="396.60" y1="87.40" x2="398.60" y2="87.40" stroke="#55b06a" stroke-width="0.7" />
<line x1="396.60" y1="81.45" x2="397.80" y2="81.45" stroke="#55b06a" stroke-width="0.6" />
<text x="394.20" y="89.60" font-family='"Liberation Sans", sans-serif' font-size="6.0" fill="#2e9e4e" text-anchor="end" font-weight="normal" font-style="normal" stroke="none" textLength="2.55" lengthAdjust="spacingAndGlyphs">0</text>
<line x1="396.60" y1="75.40" x2="398.60" y2="75.40" stroke="#55b06a" stroke-width="0.7" />
<line x1="396.60" y1="69.45" x2="397.80" y2="69.45" stroke="#55b06a" stroke-width="0.6" />
<text x="394.20" y="77.60" font-family='"Liberation Sans", sans-serif' font-size="6.0" fill="#2e9e4e" text-anchor="end" font-weight="normal" font-style="normal" stroke="none" textLength="5.1" lengthAdjust="spacingAndGlyphs">45</text>
<line x1="396.60" y1="63.40" x2="398.60" y2="63.40" stroke="#55b06a" stroke-width="0.7" />
<line x1="396.60" y1="57.45" x2="397.80" y2="57.45" stroke="#55b06a" stroke-width="0.6" />
<text x="394.20" y="65.60" font-family='"Liberation Sans", sans-serif' font-size="6.0" fill="#2e9e4e" text-anchor="end" font-weight="normal" font-style="normal" stroke="none" textLength="5.1" lengthAdjust="spacingAndGlyphs">90</text>
<line x1="396.60" y1="51.40" x2="398.60" y2="51.40" stroke="#55b06a" stroke-width="0.7" />
<line x1="396.60" y1="45.45" x2="397.80" y2="45.45" stroke="#55b06a" stroke-width="0.6" />
<text x="394.20" y="53.60" font-family='"Liberation Sans", sans-serif' font-size="6.0" fill="#2e9e4e" text-anchor="end" font-weight="normal" font-style="normal" stroke="none" textLength="7.65" lengthAdjust="spacingAndGlyphs">135</text>
<line x1="396.60" y1="39.40" x2="398.60" y2="39.40" stroke="#55b06a" stroke-width="0.7" />
<text x="394.20" y="41.60" font-family='"Liberation Sans", sans-serif' font-size="6.0" fill="#2e9e4e" text-anchor="end" font-weight="normal" font-style="normal" stroke="none" textLength="7.65" lengthAdjust="spacingAndGlyphs">180</text>
<line x1="527.10" y1="140.20" x2="525.10" y2="140.20" stroke="#ea5a60" stroke-width="0.7" />
<text x="529.50" y="142.40" font-family='"Liberation Sans", sans-serif' font-size="6.0" fill="#e8434a" text-anchor="start" font-weight="normal" font-style="normal" stroke="none">0.0</text>
<line x1="527.10" y1="129.61" x2="525.10" y2="129.61" stroke="#ea5a60" stroke-width="0.7" />
<text x="529.50" y="131.81" font-family='"Liberation Sans", sans-serif' font-size="6.0" fill="#e8434a" text-anchor="start" font-weight="normal" font-style="normal" stroke="none">0.1</text>
<line x1="527.10" y1="119.02" x2="525.10" y2="119.02" stroke="#ea5a60" stroke-width="0.7" />
<text x="529.50" y="121.22" font-family='"Liberation Sans", sans-serif' font-size="6.0" fill="#e8434a" text-anchor="start" font-weight="normal" font-style="normal" stroke="none">0.2</text>
<line x1="527.10" y1="108.43" x2="525.10" y2="108.43" stroke="#ea5a60" stroke-width="0.7" />
<text x="529.50" y="110.63" font-family='"Liberation Sans", sans-serif' font-size="6.0" fill="#e8434a" text-anchor="start" font-weight="normal" font-style="normal" stroke="none">0.3</text>
<line x1="527.10" y1="97.84" x2="525.10" y2="97.84" stroke="#ea5a60" stroke-width="0.7" />
<text x="529.50" y="100.04" font-family='"Liberation Sans", sans-serif' font-size="6.0" fill="#e8434a" text-anchor="start" font-weight="normal" font-style="normal" stroke="none">0.4</text>
<line x1="527.10" y1="87.25" x2="525.10" y2="87.25" stroke="#ea5a60" stroke-width="0.7" />
<text x="529.50" y="89.45" font-family='"Liberation Sans", sans-serif' font-size="6.0" fill="#e8434a" text-anchor="start" font-weight="normal" font-style="normal" stroke="none">0.5</text>
<line x1="527.10" y1="76.66" x2="525.10" y2="76.66" stroke="#ea5a60" stroke-width="0.7" />
<text x="529.50" y="78.86" font-family='"Liberation Sans", sans-serif' font-size="6.0" fill="#e8434a" text-anchor="start" font-weight="normal" font-style="normal" stroke="none">0.6</text>
<line x1="527.10" y1="66.07" x2="525.10" y2="66.07" stroke="#ea5a60" stroke-width="0.7" />
<text x="529.50" y="68.27" font-family='"Liberation Sans", sans-serif' font-size="6.0" fill="#e8434a" text-anchor="start" font-weight="normal" font-style="normal" stroke="none">0.7</text>
<line x1="527.10" y1="55.48" x2="525.10" y2="55.48" stroke="#ea5a60" stroke-width="0.7" />
<text x="529.50" y="57.68" font-family='"Liberation Sans", sans-serif' font-size="6.0" fill="#e8434a" text-anchor="start" font-weight="normal" font-style="normal" stroke="none">0.8</text>
<line x1="527.10" y1="44.89" x2="525.10" y2="44.89" stroke="#ea5a60" stroke-width="0.7" />
<text x="529.50" y="47.09" font-family='"Liberation Sans", sans-serif' font-size="6.0" fill="#e8434a" text-anchor="start" font-weight="normal" font-style="normal" stroke="none">0.9</text>
<line x1="527.10" y1="34.30" x2="525.10" y2="34.30" stroke="#ea5a60" stroke-width="0.7" />
<text x="529.50" y="36.50" font-family='"Liberation Sans", sans-serif' font-size="6.0" fill="#e8434a" text-anchor="start" font-weight="normal" font-style="normal" stroke="none">1.0</text>
<line x1="403.60" y1="140.20" x2="403.60" y2="138.70" stroke="#444" stroke-width="0.6" />
<text x="403.60" y="147.00" font-family='"Liberation Sans", sans-serif' font-size="5.6" fill="#333" text-anchor="middle" font-weight="normal" font-style="normal" stroke="none">1</text>
<line x1="411.39" y1="140.20" x2="411.39" y2="138.70" stroke="#444" stroke-width="0.6" />
<text x="411.39" y="147.00" font-family='"Liberation Sans", sans-serif' font-size="5.6" fill="#333" text-anchor="middle" font-weight="normal" font-style="normal" stroke="none">2</text>
<line x1="419.18" y1="140.20" x2="419.18" y2="138.70" stroke="#444" stroke-width="0.6" />
<text x="419.18" y="147.00" font-family='"Liberation Sans", sans-serif' font-size="5.6" fill="#333" text-anchor="middle" font-weight="normal" font-style="normal" stroke="none">3</text>
<line x1="426.97" y1="140.20" x2="426.97" y2="138.70" stroke="#444" stroke-width="0.6" />
<text x="426.97" y="147.00" font-family='"Liberation Sans", sans-serif' font-size="5.6" fill="#333" text-anchor="middle" font-weight="normal" font-style="normal" stroke="none">4</text>
<line x1="434.76" y1="140.20" x2="434.76" y2="138.70" stroke="#444" stroke-width="0.6" />
<text x="434.76" y="147.00" font-family='"Liberation Sans", sans-serif' font-size="5.6" fill="#333" text-anchor="middle" font-weight="normal" font-style="normal" stroke="none">5</text>
<line x1="442.55" y1="140.20" x2="442.55" y2="138.70" stroke="#444" stroke-width="0.6" />
<text x="442.55" y="147.00" font-family='"Liberation Sans", sans-serif' font-size="5.6" fill="#333" text-anchor="middle" font-weight="normal" font-style="normal" stroke="none">6</text>
<line x1="450.34" y1="140.20" x2="450.34" y2="138.70" stroke="#444" stroke-width="0.6" />
<text x="450.34" y="147.00" font-family='"Liberation Sans", sans-serif' font-size="5.6" fill="#333" text-anchor="middle" font-weight="normal" font-style="normal" stroke="none">7</text>
<line x1="458.13" y1="140.20" x2="458.13" y2="138.70" stroke="#444" stroke-width="0.6" />
<text x="458.13" y="147.00" font-family='"Liberation Sans", sans-serif' font-size="5.6" fill="#333" text-anchor="middle" font-weight="normal" font-style="normal" stroke="none">8</text>
<line x1="465.92" y1="140.20" x2="465.92" y2="138.70" stroke="#444" stroke-width="0.6" />
<text x="465.92" y="147.00" font-family='"Liberation Sans", sans-serif' font-size="5.6" fill="#333" text-anchor="middle" font-weight="normal" font-style="normal" stroke="none">9</text>
<line x1="473.71" y1="140.20" x2="473.71" y2="138.70" stroke="#444" stroke-width="0.6" />
<text x="473.71" y="147.00" font-family='"Liberation Sans", sans-serif' font-size="5.6" fill="#333" text-anchor="middle" font-weight="normal" font-style="normal" stroke="none">10</text>
<line x1="481.50" y1="140.20" x2="481.50" y2="138.70" stroke="#444" stroke-width="0.6" />
<text x="481.50" y="147.00" font-family='"Liberation Sans", sans-serif' font-size="5.6" fill="#333" text-anchor="middle" font-weight="normal" font-style="normal" stroke="none">11</text>
<line x1="489.29" y1="140.20" x2="489.29" y2="138.70" stroke="#444" stroke-width="0.6" />
<text x="489.29" y="147.00" font-family='"Liberation Sans", sans-serif' font-size="5.6" fill="#333" text-anchor="middle" font-weight="normal" font-style="normal" stroke="none">12</text>
<line x1="497.08" y1="140.20" x2="497.08" y2="138.70" stroke="#444" stroke-width="0.6" />
<text x="497.08" y="147.00" font-family='"Liberation Sans", sans-serif' font-size="5.6" fill="#333" text-anchor="middle" font-weight="normal" font-style="normal" stroke="none">13</text>
<line x1="504.87" y1="140.20" x2="504.87" y2="138.70" stroke="#444" stroke-width="0.6" />
<text x="504.87" y="147.00" font-family='"Liberation Sans", sans-serif' font-size="5.6" fill="#333" text-anchor="middle" font-weight="normal" font-style="normal" stroke="none">14</text>
<line x1="512.66" y1="140.20" x2="512.66" y2="138.70" stroke="#444" stroke-width="0.6" />
<text x="512.66" y="147.00" font-family='"Liberation Sans", sans-serif' font-size="5.6" fill="#333" text-anchor="middle" font-weight="normal" font-style="normal" stroke="none">15</text>
<line x1="520.45" y1="140.20" x2="520.45" y2="138.70" stroke="#444" stroke-width="0.6" />
<text x="520.45" y="147.00" font-family='"Liberation Sans", sans-serif' font-size="5.6" fill="#333" text-anchor="middle" font-weight="normal" font-style="normal" stroke="none">16</text>
<text x="462.20" y="153.80" font-family='"Liberation Sans", sans-serif' font-size="6.4" fill="#222" text-anchor="middle" font-weight="normal" font-style="normal"  textLength="44.3" lengthAdjust="spacingAndGlyphs" stroke="#222" stroke-width="0.18">Sequence number</text>
<text x="468.80" y="166.30" font-family='"Liberation Sans", sans-serif' font-size="9" fill="#111" text-anchor="middle" font-weight="bold" font-style="normal"  stroke="#111" stroke-width="0.18">(b)</text>
<text x="382.00" y="86.20" font-family='"Liberation Sans", sans-serif' font-size="6.4" fill="#2e9e4e" stroke="#2e9e4e" stroke-width="0.18" text-anchor="middle" textLength="59.3" lengthAdjust="spacingAndGlyphs" transform="rotate(-90 382.00 86.20)">Equivalent phase (deg)</text>
<text x="545.00" y="86.90" font-family='"Liberation Sans", sans-serif' font-size="6.2" fill="#e8434a" stroke="#e8434a" stroke-width="0.18" text-anchor="middle" textLength="71.8" lengthAdjust="spacingAndGlyphs" transform="rotate(-90 545.00 86.90)">Equivalent amplitude (a.u.)</text>
<text x="435.60" y="31.60" font-family='"Liberation Sans", sans-serif' font-size="8.0" fill="#3848a4" text-anchor="start" font-weight="normal" font-style="normal" stroke="#3848a4" stroke-width="0.2" textLength="48.3" lengthAdjust="spacingAndGlyphs">4-bit phases at</text>
<text x="485.7" y="31.6" font-family='"Liberation Serif", serif' font-style="italic" font-weight="bold" fill="#3848a4"><tspan font-size="10.5">ω</tspan><tspan font-size="7.5" dy="1.6">c</tspan></text>
<defs><radialGradient id="gb" cx="0.35" cy="0.3" r="0.7"><stop offset="0" stop-color="#9be39b"/><stop offset="0.45" stop-color="#1f9a3a"/><stop offset="1" stop-color="#0b5e20"/></radialGradient></defs>
<polygon points="403.60,44.70 404.44,45.85 405.79,46.29 404.96,47.44 404.95,48.86 403.60,48.43 402.25,48.86 402.24,47.44 401.41,46.29 402.76,45.85" fill="#e85868"/>
<polygon points="411.39,61.10 412.23,62.25 413.58,62.69 412.75,63.84 412.74,65.26 411.39,64.83 410.04,65.26 410.03,63.84 409.20,62.69 410.55,62.25" fill="#e85868"/>
<polygon points="419.18,63.50 420.02,64.65 421.37,65.09 420.54,66.24 420.53,67.66 419.18,67.23 417.83,67.66 417.82,66.24 416.99,65.09 418.34,64.65" fill="#e85868"/>
<polygon points="426.97,54.50 427.81,55.65 429.16,56.09 428.33,57.24 428.32,58.66 426.97,58.23 425.62,58.66 425.61,57.24 424.78,56.09 426.13,55.65" fill="#e85868"/>
<polygon points="434.76,58.90 435.60,60.05 436.95,60.49 436.12,61.64 436.11,63.06 434.76,62.63 433.41,63.06 433.40,61.64 432.57,60.49 433.92,60.05" fill="#e85868"/>
<polygon points="442.55,61.10 443.39,62.25 444.74,62.69 443.91,63.84 443.90,65.26 442.55,64.83 441.20,65.26 441.19,63.84 440.36,62.69 441.71,62.25" fill="#e85868"/>
<polygon points="450.34,63.50 451.18,64.65 452.53,65.09 451.70,66.24 451.69,67.66 450.34,67.23 448.99,67.66 448.98,66.24 448.15,65.09 449.50,64.65" fill="#e85868"/>
<polygon points="458.13,54.30 458.97,55.45 460.32,55.89 459.49,57.04 459.48,58.46 458.13,58.03 456.78,58.46 456.77,57.04 455.94,55.89 457.29,55.45" fill="#e85868"/>
<polygon points="465.92,58.60 466.76,59.75 468.11,60.19 467.28,61.34 467.27,62.76 465.92,62.33 464.57,62.76 464.56,61.34 463.73,60.19 465.08,59.75" fill="#e85868"/>
<polygon points="473.71,54.30 474.55,55.45 475.90,55.89 475.07,57.04 475.06,58.46 473.71,58.03 472.36,58.46 472.35,57.04 471.52,55.89 472.87,55.45" fill="#e85868"/>
<polygon points="481.50,63.30 482.34,64.45 483.69,64.89 482.86,66.04 482.85,67.46 481.50,67.03 480.15,67.46 480.14,66.04 479.31,64.89 480.66,64.45" fill="#e85868"/>
<polygon points="489.29,60.70 490.13,61.85 491.48,62.29 490.65,63.44 490.64,64.86 489.29,64.43 487.94,64.86 487.93,63.44 487.10,62.29 488.45,61.85" fill="#e85868"/>
<polygon points="497.08,58.60 497.92,59.75 499.27,60.19 498.44,61.34 498.43,62.76 497.08,62.33 495.73,62.76 495.72,61.34 494.89,60.19 496.24,59.75" fill="#e85868"/>
<polygon points="504.87,60.70 505.71,61.85 507.06,62.29 506.23,63.44 506.22,64.86 504.87,64.43 503.52,64.86 503.51,63.44 502.68,62.29 504.03,61.85" fill="#e85868"/>
<polygon points="512.66,63.30 513.50,64.45 514.85,64.89 514.02,66.04 514.01,67.46 512.66,67.03 511.31,67.46 511.30,66.04 510.47,64.89 511.82,64.45" fill="#e85868"/>
<polygon points="520.45,54.30 521.29,55.45 522.64,55.89 521.81,57.04 521.80,58.46 520.45,58.03 519.10,58.46 519.09,57.04 518.26,55.89 519.61,55.45" fill="#e85868"/>
<circle cx="403.60" cy="132.89" r="2.05" fill="url(#gb)"/>
<circle cx="411.39" cy="126.87" r="2.05" fill="url(#gb)"/>
<circle cx="419.18" cy="123.21" r="2.05" fill="url(#gb)"/>
<circle cx="426.97" cy="116.31" r="2.05" fill="url(#gb)"/>
<circle cx="434.76" cy="111.21" r="2.05" fill="url(#gb)"/>
<circle cx="442.55" cy="103.11" r="2.05" fill="url(#gb)"/>
<circle cx="450.34" cy="99.51" r="2.05" fill="url(#gb)"/>
<circle cx="458.13" cy="92.40" r="2.05" fill="url(#gb)"/>
<circle cx="465.92" cy="87.29" r="2.05" fill="url(#gb)"/>
<circle cx="473.71" cy="82.71" r="2.05" fill="url(#gb)"/>
<circle cx="481.50" cy="75.69" r="2.05" fill="url(#gb)"/>
<circle cx="489.29" cy="71.91" r="2.05" fill="url(#gb)"/>
<circle cx="497.08" cy="63.91" r="2.05" fill="url(#gb)"/>
<circle cx="504.87" cy="55.51" r="2.05" fill="url(#gb)"/>
<circle cx="512.66" cy="52.31" r="2.05" fill="url(#gb)"/>
<circle cx="520.45" cy="45.00" r="2.05" fill="url(#gb)"/>
<circle cx="483.6" cy="118.6" r="2.05" fill="url(#gb)"/>
<polygon points="483.60,124.50 484.44,125.65 485.79,126.09 484.96,127.24 484.95,128.66 483.60,128.23 482.25,128.66 482.24,127.24 481.41,126.09 482.76,125.65" fill="#e85868"/>
<text x="490.50" y="120.90" font-family='"Liberation Sans", sans-serif' font-size="6.4" fill="#333" text-anchor="start" font-weight="normal" font-style="normal" stroke="none" textLength="14" lengthAdjust="spacingAndGlyphs">Phase</text>
<text x="491.10" y="129.20" font-family='"Liberation Sans", sans-serif' font-size="6.4" fill="#333" text-anchor="start" font-weight="normal" font-style="normal" stroke="none" textLength="24.3" lengthAdjust="spacingAndGlyphs">Amplitude</text>
<text x="5.60" y="194.60" font-family='"Liberation Serif", serif' font-size="13.6" fill="#111" text-anchor="start" font-weight="bold" font-style="normal" >(c)</text>
<line x1="37.6" y1="215.0" x2="206.8" y2="215.0" stroke="#8a8a8a" stroke-width="1.3"/>
<line x1="37.6" y1="352.0" x2="206.8" y2="352.0" stroke="#333" stroke-width="0.9"/>
<line x1="37.6" y1="215.0" x2="37.6" y2="352.0" stroke="#3fae5c" stroke-width="1"/>
<line x1="206.8" y1="215.0" x2="206.8" y2="352.0" stroke="#e8585e" stroke-width="1"/>
<line x1="37.60" y1="344.80" x2="40.10" y2="344.80" stroke="#3fae5c" stroke-width="0.8" />
<line x1="37.60" y1="337.13" x2="39.10" y2="337.13" stroke="#3fae5c" stroke-width="0.7" />
<text x="34.60" y="347.20" font-family='"Liberation Sans", sans-serif' font-size="6.7" fill="#2e9e4e" text-anchor="end" font-weight="normal" font-style="normal"  stroke="#2e9e4e" stroke-width="0.18">-180</text>
<line x1="37.60" y1="329.45" x2="40.10" y2="329.45" stroke="#3fae5c" stroke-width="0.8" />
<line x1="37.60" y1="321.78" x2="39.10" y2="321.78" stroke="#3fae5c" stroke-width="0.7" />
<text x="34.60" y="331.85" font-family='"Liberation Sans", sans-serif' font-size="6.7" fill="#2e9e4e" text-anchor="end" font-weight="normal" font-style="normal"  stroke="#2e9e4e" stroke-width="0.18">-135</text>
<line x1="37.60" y1="314.10" x2="40.10" y2="314.10" stroke="#3fae5c" stroke-width="0.8" />
<line x1="37.60" y1="306.43" x2="39.10" y2="306.43" stroke="#3fae5c" stroke-width="0.7" />
<text x="34.60" y="316.50" font-family='"Liberation Sans", sans-serif' font-size="6.7" fill="#2e9e4e" text-anchor="end" font-weight="normal" font-style="normal"  stroke="#2e9e4e" stroke-width="0.18">-90</text>
<line x1="37.60" y1="298.75" x2="40.10" y2="298.75" stroke="#3fae5c" stroke-width="0.8" />
<line x1="37.60" y1="291.08" x2="39.10" y2="291.08" stroke="#3fae5c" stroke-width="0.7" />
<text x="34.60" y="301.15" font-family='"Liberation Sans", sans-serif' font-size="6.7" fill="#2e9e4e" text-anchor="end" font-weight="normal" font-style="normal"  stroke="#2e9e4e" stroke-width="0.18">-45</text>
<line x1="37.60" y1="283.40" x2="40.10" y2="283.40" stroke="#3fae5c" stroke-width="0.8" />
<line x1="37.60" y1="275.73" x2="39.10" y2="275.73" stroke="#3fae5c" stroke-width="0.7" />
<text x="34.60" y="285.80" font-family='"Liberation Sans", sans-serif' font-size="6.7" fill="#2e9e4e" text-anchor="end" font-weight="normal" font-style="normal"  stroke="#2e9e4e" stroke-width="0.18">0</text>
<line x1="37.60" y1="268.05" x2="40.10" y2="268.05" stroke="#3fae5c" stroke-width="0.8" />
<line x1="37.60" y1="260.38" x2="39.10" y2="260.38" stroke="#3fae5c" stroke-width="0.7" />
<text x="34.60" y="270.45" font-family='"Liberation Sans", sans-serif' font-size="6.7" fill="#2e9e4e" text-anchor="end" font-weight="normal" font-style="normal"  stroke="#2e9e4e" stroke-width="0.18">45</text>
<line x1="37.60" y1="252.70" x2="40.10" y2="252.70" stroke="#3fae5c" stroke-width="0.8" />
<line x1="37.60" y1="245.03" x2="39.10" y2="245.03" stroke="#3fae5c" stroke-width="0.7" />
<text x="34.60" y="255.10" font-family='"Liberation Sans", sans-serif' font-size="6.7" fill="#2e9e4e" text-anchor="end" font-weight="normal" font-style="normal"  stroke="#2e9e4e" stroke-width="0.18">90</text>
<line x1="37.60" y1="237.35" x2="40.10" y2="237.35" stroke="#3fae5c" stroke-width="0.8" />
<line x1="37.60" y1="229.68" x2="39.10" y2="229.68" stroke="#3fae5c" stroke-width="0.7" />
<text x="34.60" y="239.75" font-family='"Liberation Sans", sans-serif' font-size="6.7" fill="#2e9e4e" text-anchor="end" font-weight="normal" font-style="normal"  stroke="#2e9e4e" stroke-width="0.18">135</text>
<line x1="37.60" y1="222.00" x2="40.10" y2="222.00" stroke="#3fae5c" stroke-width="0.8" />
<text x="34.60" y="224.40" font-family='"Liberation Sans", sans-serif' font-size="6.7" fill="#2e9e4e" text-anchor="end" font-weight="normal" font-style="normal"  stroke="#2e9e4e" stroke-width="0.18">180</text>
<line x1="206.80" y1="352.00" x2="204.30" y2="352.00" stroke="#e8585e" stroke-width="0.8" />
<text x="209.50" y="354.40" font-family='"Liberation Sans", sans-serif' font-size="6.7" fill="#e8434a" text-anchor="start" font-weight="normal" font-style="normal"  stroke="#e8434a" stroke-width="0.18">0.0</text>
<line x1="206.80" y1="338.34" x2="204.30" y2="338.34" stroke="#e8585e" stroke-width="0.8" />
<text x="209.50" y="340.74" font-family='"Liberation Sans", sans-serif' font-size="6.7" fill="#e8434a" text-anchor="start" font-weight="normal" font-style="normal"  stroke="#e8434a" stroke-width="0.18">0.1</text>
<line x1="206.80" y1="324.68" x2="204.30" y2="324.68" stroke="#e8585e" stroke-width="0.8" />
<text x="209.50" y="327.08" font-family='"Liberation Sans", sans-serif' font-size="6.7" fill="#e8434a" text-anchor="start" font-weight="normal" font-style="normal"  stroke="#e8434a" stroke-width="0.18">0.2</text>
<line x1="206.80" y1="311.02" x2="204.30" y2="311.02" stroke="#e8585e" stroke-width="0.8" />
<text x="209.50" y="313.42" font-family='"Liberation Sans", sans-serif' font-size="6.7" fill="#e8434a" text-anchor="start" font-weight="normal" font-style="normal"  stroke="#e8434a" stroke-width="0.18">0.3</text>
<line x1="206.80" y1="297.36" x2="204.30" y2="297.36" stroke="#e8585e" stroke-width="0.8" />
<text x="209.50" y="299.76" font-family='"Liberation Sans", sans-serif' font-size="6.7" fill="#e8434a" text-anchor="start" font-weight="normal" font-style="normal"  stroke="#e8434a" stroke-width="0.18">0.4</text>
<line x1="206.80" y1="283.70" x2="204.30" y2="283.70" stroke="#e8585e" stroke-width="0.8" />
<text x="209.50" y="286.10" font-family='"Liberation Sans", sans-serif' font-size="6.7" fill="#e8434a" text-anchor="start" font-weight="normal" font-style="normal"  stroke="#e8434a" stroke-width="0.18">0.5</text>
<line x1="206.80" y1="270.04" x2="204.30" y2="270.04" stroke="#e8585e" stroke-width="0.8" />
<text x="209.50" y="272.44" font-family='"Liberation Sans", sans-serif' font-size="6.7" fill="#e8434a" text-anchor="start" font-weight="normal" font-style="normal"  stroke="#e8434a" stroke-width="0.18">0.6</text>
<line x1="206.80" y1="256.38" x2="204.30" y2="256.38" stroke="#e8585e" stroke-width="0.8" />
<text x="209.50" y="258.78" font-family='"Liberation Sans", sans-serif' font-size="6.7" fill="#e8434a" text-anchor="start" font-weight="normal" font-style="normal"  stroke="#e8434a" stroke-width="0.18">0.7</text>
<line x1="206.80" y1="242.72" x2="204.30" y2="242.72" stroke="#e8585e" stroke-width="0.8" />
<text x="209.50" y="245.12" font-family='"Liberation Sans", sans-serif' font-size="6.7" fill="#e8434a" text-anchor="start" font-weight="normal" font-style="normal"  stroke="#e8434a" stroke-width="0.18">0.8</text>
<line x1="206.80" y1="229.06" x2="204.30" y2="229.06" stroke="#e8585e" stroke-width="0.8" />
<text x="209.50" y="231.46" font-family='"Liberation Sans", sans-serif' font-size="6.7" fill="#e8434a" text-anchor="start" font-weight="normal" font-style="normal"  stroke="#e8434a" stroke-width="0.18">0.9</text>
<line x1="206.80" y1="215.40" x2="204.30" y2="215.40" stroke="#e8585e" stroke-width="0.8" />
<text x="209.50" y="217.80" font-family='"Liberation Sans", sans-serif' font-size="6.7" fill="#e8434a" text-anchor="start" font-weight="normal" font-style="normal"  stroke="#e8434a" stroke-width="0.18">1.0</text>
<line x1="41.80" y1="352.00" x2="41.80" y2="350.20" stroke="#333" stroke-width="0.7" />
<line x1="46.98" y1="352.00" x2="46.98" y2="350.20" stroke="#333" stroke-width="0.7" />
<line x1="52.16" y1="352.00" x2="52.16" y2="350.20" stroke="#333" stroke-width="0.7" />
<line x1="57.34" y1="352.00" x2="57.34" y2="350.20" stroke="#333" stroke-width="0.7" />
<line x1="62.52" y1="352.00" x2="62.52" y2="350.20" stroke="#333" stroke-width="0.7" />
<line x1="67.70" y1="352.00" x2="67.70" y2="350.20" stroke="#333" stroke-width="0.7" />
<line x1="72.88" y1="352.00" x2="72.88" y2="350.20" stroke="#333" stroke-width="0.7" />
<line x1="78.06" y1="352.00" x2="78.06" y2="350.20" stroke="#333" stroke-width="0.7" />
<line x1="83.24" y1="352.00" x2="83.24" y2="350.20" stroke="#333" stroke-width="0.7" />
<line x1="88.42" y1="352.00" x2="88.42" y2="350.20" stroke="#333" stroke-width="0.7" />
<line x1="93.60" y1="352.00" x2="93.60" y2="350.20" stroke="#333" stroke-width="0.7" />
<line x1="98.78" y1="352.00" x2="98.78" y2="350.20" stroke="#333" stroke-width="0.7" />
<line x1="103.96" y1="352.00" x2="103.96" y2="350.20" stroke="#333" stroke-width="0.7" />
<line x1="109.14" y1="352.00" x2="109.14" y2="350.20" stroke="#333" stroke-width="0.7" />
<line x1="114.32" y1="352.00" x2="114.32" y2="350.20" stroke="#333" stroke-width="0.7" />
<line x1="119.50" y1="352.00" x2="119.50" y2="350.20" stroke="#333" stroke-width="0.7" />
<line x1="124.68" y1="352.00" x2="124.68" y2="350.20" stroke="#333" stroke-width="0.7" />
<line x1="129.86" y1="352.00" x2="129.86" y2="350.20" stroke="#333" stroke-width="0.7" />
<line x1="135.04" y1="352.00" x2="135.04" y2="350.20" stroke="#333" stroke-width="0.7" />
<line x1="140.22" y1="352.00" x2="140.22" y2="350.20" stroke="#333" stroke-width="0.7" />
<line x1="145.40" y1="352.00" x2="145.40" y2="350.20" stroke="#333" stroke-width="0.7" />
<line x1="150.58" y1="352.00" x2="150.58" y2="350.20" stroke="#333" stroke-width="0.7" />
<line x1="155.76" y1="352.00" x2="155.76" y2="350.20" stroke="#333" stroke-width="0.7" />
<line x1="160.94" y1="352.00" x2="160.94" y2="350.20" stroke="#333" stroke-width="0.7" />
<line x1="166.12" y1="352.00" x2="166.12" y2="350.20" stroke="#333" stroke-width="0.7" />
<line x1="171.30" y1="352.00" x2="171.30" y2="350.20" stroke="#333" stroke-width="0.7" />
<line x1="176.48" y1="352.00" x2="176.48" y2="350.20" stroke="#333" stroke-width="0.7" />
<line x1="181.66" y1="352.00" x2="181.66" y2="350.20" stroke="#333" stroke-width="0.7" />
<line x1="186.84" y1="352.00" x2="186.84" y2="350.20" stroke="#333" stroke-width="0.7" />
<line x1="192.02" y1="352.00" x2="192.02" y2="350.20" stroke="#333" stroke-width="0.7" />
<line x1="197.20" y1="352.00" x2="197.20" y2="350.20" stroke="#333" stroke-width="0.7" />
<line x1="202.38" y1="352.00" x2="202.38" y2="350.20" stroke="#333" stroke-width="0.7" />
<text x="122.20" y="360.80" font-family='"Liberation Sans", sans-serif' font-size="7.2" fill="#111" text-anchor="middle" font-weight="normal" font-style="normal"  textLength="101.8" lengthAdjust="spacingAndGlyphs" stroke="#111" stroke-width="0.18">Different time-coding sequences</text>
<text x="20.20" y="283.30" font-family='"Liberation Sans", sans-serif' font-size="6.9" fill="#2e9e4e" stroke="#2e9e4e" stroke-width="0.18" text-anchor="middle" textLength="73.5" lengthAdjust="spacingAndGlyphs" transform="rotate(-90 20.20 283.30)">Equivalent phase (deg)</text>
<text x="228.40" y="277.90" font-family='"Liberation Sans", sans-serif' font-size="6.9" fill="#e8434a" stroke="#e8434a" stroke-width="0.18" text-anchor="middle" textLength="87.7" lengthAdjust="spacingAndGlyphs" transform="rotate(-90 228.40 277.90)">Equivalent amplitude (a.u.)</text>
<text x="69.50" y="210.20" font-family='"Liberation Sans", sans-serif' font-size="10.2" fill="#3a4aa8" text-anchor="start" font-weight="normal" font-style="normal" stroke="#3a4aa8" stroke-width="0.15" textLength="63.8" lengthAdjust="spacingAndGlyphs">Phase coverage</text>
<text x="137.6" y="209.0" font-family='"Liberation Serif", serif' font-style="italic" font-weight="bold" fill="#3a4aa8" font-size="12.5" textLength="11" lengthAdjust="spacingAndGlyphs">ψ</text>
<text x="149.3" y="205.6" font-family='"Liberation Serif", serif' font-weight="bold" fill="#3a4aa8" font-size="8" textLength="4.8" lengthAdjust="spacingAndGlyphs">0</text>
<text x="156.00" y="210.20" font-family='"Liberation Sans", sans-serif' font-size="10.2" fill="#3a4aa8" text-anchor="start" font-weight="normal" font-style="normal" stroke="#3a4aa8" stroke-width="0.15" textLength="8.3" lengthAdjust="spacingAndGlyphs">at</text>
<text x="166.5" y="210.2" font-family='"Liberation Serif", serif' font-style="italic" font-weight="bold" fill="#3a4aa8"><tspan font-size="12">ω</tspan><tspan font-size="7.5" dy="2">c</tspan></text>
<polyline points="41.80,230.50 46.98,243.20 52.16,251.90 57.34,255.00 62.52,251.90 67.70,243.20 72.88,230.50 78.06,248.60 83.24,230.50 88.42,243.20 93.60,251.90 98.78,255.00 103.96,251.90 109.14,243.20 114.32,230.50 119.50,248.60 124.68,230.50 129.86,243.20 135.04,251.90 140.22,255.00 145.40,251.90 150.58,243.20 155.76,230.50 160.94,248.60 166.12,230.50 171.30,243.20 176.48,251.90 181.66,255.00 186.84,251.90 192.02,243.20 197.20,230.50 202.38,248.60" fill="none" stroke="#e8474d" stroke-width="1.1"/>
<circle cx="41.80" cy="230.50" r="1.5" fill="#fff" stroke="#e8474d" stroke-width="0.6"/>
<circle cx="46.98" cy="243.20" r="1.5" fill="#fff" stroke="#e8474d" stroke-width="0.6"/>
<circle cx="52.16" cy="251.90" r="1.5" fill="#fff" stroke="#e8474d" stroke-width="0.6"/>
<circle cx="57.34" cy="255.00" r="1.5" fill="#fff" stroke="#e8474d" stroke-width="0.6"/>
<circle cx="62.52" cy="251.90" r="1.5" fill="#fff" stroke="#e8474d" stroke-width="0.6"/>
<circle cx="67.70" cy="243.20" r="1.5" fill="#fff" stroke="#e8474d" stroke-width="0.6"/>
<circle cx="72.88" cy="230.50" r="1.5" fill="#fff" stroke="#e8474d" stroke-width="0.6"/>
<circle cx="78.06" cy="248.60" r="1.5" fill="#fff" stroke="#e8474d" stroke-width="0.6"/>
<circle cx="83.24" cy="230.50" r="1.5" fill="#fff" stroke="#e8474d" stroke-width="0.6"/>
<circle cx="88.42" cy="243.20" r="1.5" fill="#fff" stroke="#e8474d" stroke-width="0.6"/>
<circle cx="93.60" cy="251.90" r="1.5" fill="#fff" stroke="#e8474d" stroke-width="0.6"/>
<circle cx="98.78" cy="255.00" r="1.5" fill="#fff" stroke="#e8474d" stroke-width="0.6"/>
<circle cx="103.96" cy="251.90" r="1.5" fill="#fff" stroke="#e8474d" stroke-width="0.6"/>
<circle cx="109.14" cy="243.20" r="1.5" fill="#fff" stroke="#e8474d" stroke-width="0.6"/>
<circle cx="114.32" cy="230.50" r="1.5" fill="#fff" stroke="#e8474d" stroke-width="0.6"/>
<circle cx="119.50" cy="248.60" r="1.5" fill="#fff" stroke="#e8474d" stroke-width="0.6"/>
<circle cx="124.68" cy="230.50" r="1.5" fill="#fff" stroke="#e8474d" stroke-width="0.6"/>
<circle cx="129.86" cy="243.20" r="1.5" fill="#fff" stroke="#e8474d" stroke-width="0.6"/>
<circle cx="135.04" cy="251.90" r="1.5" fill="#fff" stroke="#e8474d" stroke-width="0.6"/>
<circle cx="140.22" cy="255.00" r="1.5" fill="#fff" stroke="#e8474d" stroke-width="0.6"/>
<circle cx="145.40" cy="251.90" r="1.5" fill="#fff" stroke="#e8474d" stroke-width="0.6"/>
<circle cx="150.58" cy="243.20" r="1.5" fill="#fff" stroke="#e8474d" stroke-width="0.6"/>
<circle cx="155.76" cy="230.50" r="1.5" fill="#fff" stroke="#e8474d" stroke-width="0.6"/>
<circle cx="160.94" cy="248.60" r="1.5" fill="#fff" stroke="#e8474d" stroke-width="0.6"/>
<circle cx="166.12" cy="230.50" r="1.5" fill="#fff" stroke="#e8474d" stroke-width="0.6"/>
<circle cx="171.30" cy="243.20" r="1.5" fill="#fff" stroke="#e8474d" stroke-width="0.6"/>
<circle cx="176.48" cy="251.90" r="1.5" fill="#fff" stroke="#e8474d" stroke-width="0.6"/>
<circle cx="181.66" cy="255.00" r="1.5" fill="#fff" stroke="#e8474d" stroke-width="0.6"/>
<circle cx="186.84" cy="251.90" r="1.5" fill="#fff" stroke="#e8474d" stroke-width="0.6"/>
<circle cx="192.02" cy="243.20" r="1.5" fill="#fff" stroke="#e8474d" stroke-width="0.6"/>
<circle cx="197.20" cy="230.50" r="1.5" fill="#fff" stroke="#e8474d" stroke-width="0.6"/>
<circle cx="202.38" cy="248.60" r="1.5" fill="#fff" stroke="#e8474d" stroke-width="0.6"/>
<polyline points="41.80,342.40 46.98,338.80 52.16,334.40 57.34,329.70 62.52,324.90 67.70,320.40 72.88,316.90 78.06,314.30 83.24,311.30 88.42,307.90 93.60,303.60 98.78,298.60 103.96,293.80 109.14,289.50 114.32,286.10 119.50,283.40 124.68,280.70 129.86,277.00 135.04,272.80 140.22,267.90 145.40,263.20 150.58,258.90 155.76,255.30 160.94,252.10 166.12,249.40 171.30,245.70 176.48,241.90 181.66,237.20 186.84,232.30 192.02,228.10 197.20,224.50 202.38,221.70" fill="none" stroke="#1f9a47" stroke-width="1.2"/>
<circle cx="41.80" cy="342.40" r="1.5" fill="#1f9a47"/>
<circle cx="46.98" cy="338.80" r="1.5" fill="#1f9a47"/>
<circle cx="52.16" cy="334.40" r="1.5" fill="#1f9a47"/>
<circle cx="57.34" cy="329.70" r="1.5" fill="#1f9a47"/>
<circle cx="62.52" cy="324.90" r="1.5" fill="#1f9a47"/>
<circle cx="67.70" cy="320.40" r="1.5" fill="#1f9a47"/>
<circle cx="72.88" cy="316.90" r="1.5" fill="#1f9a47"/>
<circle cx="78.06" cy="314.30" r="1.5" fill="#1f9a47"/>
<circle cx="83.24" cy="311.30" r="1.5" fill="#1f9a47"/>
<circle cx="88.42" cy="307.90" r="1.5" fill="#1f9a47"/>
<circle cx="93.60" cy="303.60" r="1.5" fill="#1f9a47"/>
<circle cx="98.78" cy="298.60" r="1.5" fill="#1f9a47"/>
<circle cx="103.96" cy="293.80" r="1.5" fill="#1f9a47"/>
<circle cx="109.14" cy="289.50" r="1.5" fill="#1f9a47"/>
<circle cx="114.32" cy="286.10" r="1.5" fill="#1f9a47"/>
<circle cx="119.50" cy="283.40" r="1.5" fill="#1f9a47"/>
<circle cx="124.68" cy="280.70" r="1.5" fill="#1f9a47"/>
<circle cx="129.86" cy="277.00" r="1.5" fill="#1f9a47"/>
<circle cx="135.04" cy="272.80" r="1.5" fill="#1f9a47"/>
<circle cx="140.22" cy="267.90" r="1.5" fill="#1f9a47"/>
<circle cx="145.40" cy="263.20" r="1.5" fill="#1f9a47"/>
<circle cx="150.58" cy="258.90" r="1.5" fill="#1f9a47"/>
<circle cx="155.76" cy="255.30" r="1.5" fill="#1f9a47"/>
<circle cx="160.94" cy="252.10" r="1.5" fill="#1f9a47"/>
<circle cx="166.12" cy="249.40" r="1.5" fill="#1f9a47"/>
<circle cx="171.30" cy="245.70" r="1.5" fill="#1f9a47"/>
<circle cx="176.48" cy="241.90" r="1.5" fill="#1f9a47"/>
<circle cx="181.66" cy="237.20" r="1.5" fill="#1f9a47"/>
<circle cx="186.84" cy="232.30" r="1.5" fill="#1f9a47"/>
<circle cx="192.02" cy="228.10" r="1.5" fill="#1f9a47"/>
<circle cx="197.20" cy="224.50" r="1.5" fill="#1f9a47"/>
<circle cx="202.38" cy="221.70" r="1.5" fill="#1f9a47"/>
<line x1="142.50" y1="324.00" x2="157.00" y2="324.00" stroke="#1f9a47" stroke-width="1.1" />
<circle cx="149.7" cy="324" r="1.4" fill="#1f9a47"/>
<line x1="141.70" y1="334.70" x2="157.00" y2="334.70" stroke="#e8474d" stroke-width="1.1" />
<circle cx="149.3" cy="334.7" r="1.4" fill="#fff" stroke="#e8474d" stroke-width="0.6"/>
<text x="158.80" y="326.50" font-family='"Liberation Sans", sans-serif' font-size="7" fill="#222" text-anchor="start" font-weight="normal" font-style="normal"  stroke="#222" stroke-width="0.18">Phase</text>
<text x="159.60" y="337.20" font-family='"Liberation Sans", sans-serif' font-size="7" fill="#222" text-anchor="start" font-weight="normal" font-style="normal"  stroke="#222" stroke-width="0.18">Amplitude</text>
<text x="252.40" y="195.70" font-family='"Liberation Serif", serif' font-size="14.4" fill="#111" text-anchor="start" font-weight="bold" font-style="normal" >(d)</text>
<line x1="318.80" y1="194.85" x2="318.80" y2="349.20" stroke="#d6d6d6" stroke-width="0.5" stroke-dasharray="1 1"/>
<line x1="337.00" y1="194.85" x2="337.00" y2="349.20" stroke="#d6d6d6" stroke-width="0.5" stroke-dasharray="1 1"/>
<line x1="355.20" y1="194.85" x2="355.20" y2="349.20" stroke="#d6d6d6" stroke-width="0.5" stroke-dasharray="1 1"/>
<line x1="373.40" y1="194.85" x2="373.40" y2="349.20" stroke="#d6d6d6" stroke-width="0.5" stroke-dasharray="1 1"/>
<line x1="391.60" y1="194.85" x2="391.60" y2="349.20" stroke="#d6d6d6" stroke-width="0.5" stroke-dasharray="1 1"/>
<line x1="409.80" y1="194.85" x2="409.80" y2="349.20" stroke="#d6d6d6" stroke-width="0.5" stroke-dasharray="1 1"/>
<line x1="428.00" y1="194.85" x2="428.00" y2="349.20" stroke="#d6d6d6" stroke-width="0.5" stroke-dasharray="1 1"/>
<line x1="446.20" y1="194.85" x2="446.20" y2="349.20" stroke="#d6d6d6" stroke-width="0.5" stroke-dasharray="1 1"/>
<line x1="464.40" y1="194.85" x2="464.40" y2="349.20" stroke="#d6d6d6" stroke-width="0.5" stroke-dasharray="1 1"/>
<line x1="482.60" y1="194.85" x2="482.60" y2="349.20" stroke="#d6d6d6" stroke-width="0.5" stroke-dasharray="1 1"/>
<line x1="500.80" y1="194.85" x2="500.80" y2="349.20" stroke="#d6d6d6" stroke-width="0.5" stroke-dasharray="1 1"/>
<line x1="300.60" y1="332.05" x2="519.00" y2="332.05" stroke="#d6d6d6" stroke-width="0.5" stroke-dasharray="1 1"/>
<line x1="300.60" y1="314.90" x2="519.00" y2="314.90" stroke="#d6d6d6" stroke-width="0.5" stroke-dasharray="1 1"/>
<line x1="300.60" y1="297.75" x2="519.00" y2="297.75" stroke="#d6d6d6" stroke-width="0.5" stroke-dasharray="1 1"/>
<line x1="300.60" y1="280.60" x2="519.00" y2="280.60" stroke="#d6d6d6" stroke-width="0.5" stroke-dasharray="1 1"/>
<line x1="300.60" y1="263.45" x2="519.00" y2="263.45" stroke="#d6d6d6" stroke-width="0.5" stroke-dasharray="1 1"/>
<line x1="300.60" y1="246.30" x2="519.00" y2="246.30" stroke="#d6d6d6" stroke-width="0.5" stroke-dasharray="1 1"/>
<line x1="300.60" y1="229.15" x2="519.00" y2="229.15" stroke="#d6d6d6" stroke-width="0.5" stroke-dasharray="1 1"/>
<line x1="300.60" y1="212.00" x2="519.00" y2="212.00" stroke="#d6d6d6" stroke-width="0.5" stroke-dasharray="1 1"/>
<rect x="300.6" y="194.85" width="218.40" height="154.35" fill="none" stroke="#555" stroke-width="1"/>
<line x1="300.60" y1="349.20" x2="300.60" y2="346.00" stroke="#333" stroke-width="0.8" />
<text x="300.60" y="358.40" font-family='"Liberation Sans", sans-serif' font-size="7.9" fill="#222" text-anchor="middle" font-weight="normal" font-style="normal"  stroke="#222" stroke-width="0.18">-90</text>
<line x1="318.80" y1="349.20" x2="318.80" y2="346.00" stroke="#333" stroke-width="0.8" />
<text x="318.80" y="358.40" font-family='"Liberation Sans", sans-serif' font-size="7.9" fill="#222" text-anchor="middle" font-weight="normal" font-style="normal"  stroke="#222" stroke-width="0.18">-75</text>
<line x1="337.00" y1="349.20" x2="337.00" y2="346.00" stroke="#333" stroke-width="0.8" />
<text x="337.00" y="358.40" font-family='"Liberation Sans", sans-serif' font-size="7.9" fill="#222" text-anchor="middle" font-weight="normal" font-style="normal"  stroke="#222" stroke-width="0.18">-60</text>
<line x1="355.20" y1="349.20" x2="355.20" y2="346.00" stroke="#333" stroke-width="0.8" />
<text x="355.20" y="358.40" font-family='"Liberation Sans", sans-serif' font-size="7.9" fill="#222" text-anchor="middle" font-weight="normal" font-style="normal"  stroke="#222" stroke-width="0.18">-45</text>
<line x1="373.40" y1="349.20" x2="373.40" y2="346.00" stroke="#333" stroke-width="0.8" />
<text x="373.40" y="358.40" font-family='"Liberation Sans", sans-serif' font-size="7.9" fill="#222" text-anchor="middle" font-weight="normal" font-style="normal"  stroke="#222" stroke-width="0.18">-30</text>
<line x1="391.60" y1="349.20" x2="391.60" y2="346.00" stroke="#333" stroke-width="0.8" />
<text x="391.60" y="358.40" font-family='"Liberation Sans", sans-serif' font-size="7.9" fill="#222" text-anchor="middle" font-weight="normal" font-style="normal"  stroke="#222" stroke-width="0.18">-15</text>
<line x1="409.80" y1="349.20" x2="409.80" y2="346.00" stroke="#333" stroke-width="0.8" />
<text x="409.80" y="358.40" font-family='"Liberation Sans", sans-serif' font-size="7.9" fill="#222" text-anchor="middle" font-weight="normal" font-style="normal"  stroke="#222" stroke-width="0.18">0</text>
<line x1="428.00" y1="349.20" x2="428.00" y2="346.00" stroke="#333" stroke-width="0.8" />
<text x="428.00" y="358.40" font-family='"Liberation Sans", sans-serif' font-size="7.9" fill="#222" text-anchor="middle" font-weight="normal" font-style="normal"  stroke="#222" stroke-width="0.18">15</text>
<line x1="446.20" y1="349.20" x2="446.20" y2="346.00" stroke="#333" stroke-width="0.8" />
<text x="446.20" y="358.40" font-family='"Liberation Sans", sans-serif' font-size="7.9" fill="#222" text-anchor="middle" font-weight="normal" font-style="normal"  stroke="#222" stroke-width="0.18">30</text>
<line x1="464.40" y1="349.20" x2="464.40" y2="346.00" stroke="#333" stroke-width="0.8" />
<text x="464.40" y="358.40" font-family='"Liberation Sans", sans-serif' font-size="7.9" fill="#222" text-anchor="middle" font-weight="normal" font-style="normal"  stroke="#222" stroke-width="0.18">45</text>
<line x1="482.60" y1="349.20" x2="482.60" y2="346.00" stroke="#333" stroke-width="0.8" />
<text x="482.60" y="358.40" font-family='"Liberation Sans", sans-serif' font-size="7.9" fill="#222" text-anchor="middle" font-weight="normal" font-style="normal"  stroke="#222" stroke-width="0.18">60</text>
<line x1="500.80" y1="349.20" x2="500.80" y2="346.00" stroke="#333" stroke-width="0.8" />
<text x="500.80" y="358.40" font-family='"Liberation Sans", sans-serif' font-size="7.9" fill="#222" text-anchor="middle" font-weight="normal" font-style="normal"  stroke="#222" stroke-width="0.18">75</text>
<line x1="519.00" y1="349.20" x2="519.00" y2="346.00" stroke="#333" stroke-width="0.8" />
<text x="519.00" y="358.40" font-family='"Liberation Sans", sans-serif' font-size="7.9" fill="#222" text-anchor="middle" font-weight="normal" font-style="normal"  stroke="#222" stroke-width="0.18">90</text>
<line x1="300.60" y1="349.20" x2="303.80" y2="349.20" stroke="#333" stroke-width="0.8" />
<text x="297.60" y="352.00" font-family='"Liberation Sans", sans-serif' font-size="7.9" fill="#222" text-anchor="end" font-weight="normal" font-style="normal"  stroke="#222" stroke-width="0.18">-20</text>
<line x1="300.60" y1="332.05" x2="303.80" y2="332.05" stroke="#333" stroke-width="0.8" />
<text x="297.60" y="334.85" font-family='"Liberation Sans", sans-serif' font-size="7.9" fill="#222" text-anchor="end" font-weight="normal" font-style="normal"  stroke="#222" stroke-width="0.18">-15</text>
<line x1="300.60" y1="314.90" x2="303.80" y2="314.90" stroke="#333" stroke-width="0.8" />
<text x="297.60" y="317.70" font-family='"Liberation Sans", sans-serif' font-size="7.9" fill="#222" text-anchor="end" font-weight="normal" font-style="normal"  stroke="#222" stroke-width="0.18">-10</text>
<line x1="300.60" y1="297.75" x2="303.80" y2="297.75" stroke="#333" stroke-width="0.8" />
<text x="297.60" y="300.55" font-family='"Liberation Sans", sans-serif' font-size="7.9" fill="#222" text-anchor="end" font-weight="normal" font-style="normal"  stroke="#222" stroke-width="0.18">-5</text>
<line x1="300.60" y1="280.60" x2="303.80" y2="280.60" stroke="#333" stroke-width="0.8" />
<text x="297.60" y="283.40" font-family='"Liberation Sans", sans-serif' font-size="7.9" fill="#222" text-anchor="end" font-weight="normal" font-style="normal"  stroke="#222" stroke-width="0.18">0</text>
<line x1="300.60" y1="263.45" x2="303.80" y2="263.45" stroke="#333" stroke-width="0.8" />
<text x="297.60" y="266.25" font-family='"Liberation Sans", sans-serif' font-size="7.9" fill="#222" text-anchor="end" font-weight="normal" font-style="normal"  stroke="#222" stroke-width="0.18">5</text>
<line x1="300.60" y1="246.30" x2="303.80" y2="246.30" stroke="#333" stroke-width="0.8" />
<text x="297.60" y="249.10" font-family='"Liberation Sans", sans-serif' font-size="7.9" fill="#222" text-anchor="end" font-weight="normal" font-style="normal"  stroke="#222" stroke-width="0.18">10</text>
<line x1="300.60" y1="229.15" x2="303.80" y2="229.15" stroke="#333" stroke-width="0.8" />
<text x="297.60" y="231.95" font-family='"Liberation Sans", sans-serif' font-size="7.9" fill="#222" text-anchor="end" font-weight="normal" font-style="normal"  stroke="#222" stroke-width="0.18">15</text>
<line x1="300.60" y1="212.00" x2="303.80" y2="212.00" stroke="#333" stroke-width="0.8" />
<text x="297.60" y="214.80" font-family='"Liberation Sans", sans-serif' font-size="7.9" fill="#222" text-anchor="end" font-weight="normal" font-style="normal"  stroke="#222" stroke-width="0.18">20</text>
<line x1="300.60" y1="194.85" x2="303.80" y2="194.85" stroke="#333" stroke-width="0.8" />
<text x="297.60" y="197.65" font-family='"Liberation Sans", sans-serif' font-size="7.9" fill="#222" text-anchor="end" font-weight="normal" font-style="normal"  stroke="#222" stroke-width="0.18">25</text>
<text x="410.30" y="368.80" font-family='"Liberation Sans", sans-serif' font-size="8" fill="#222" text-anchor="middle" font-weight="normal" font-style="normal"  textLength="54.5" lengthAdjust="spacingAndGlyphs" stroke="#222" stroke-width="0.18">Theta (degree)</text>
<text x="282.20" y="272.60" font-family='"Liberation Sans", sans-serif' font-size="8" fill="#222" stroke="#222" stroke-width="0.18" text-anchor="middle" textLength="87.7" lengthAdjust="spacingAndGlyphs" transform="rotate(-90 282.20 272.60)">Scattering patterns (dB)</text>
<text x="367.0" y="216.6" font-family='"Liberation Serif", serif' font-style="italic" font-weight="bold" fill="#111"><tspan font-size="12">ω</tspan><tspan font-size="8.5" dy="3">c</tspan></text>
<line x1="447.00" y1="201.80" x2="464.00" y2="201.80" stroke="#3344b4" stroke-width="1.3" stroke-dasharray="1.1 1.1"/>
<line x1="447.00" y1="211.40" x2="464.00" y2="211.40" stroke="#111" stroke-width="1.6" stroke-dasharray="3.6 2.4"/>
<line x1="447.00" y1="220.90" x2="464.00" y2="220.90" stroke="#1f9a3f" stroke-width="1.9" />
<line x1="447.00" y1="229.90" x2="464.00" y2="229.90" stroke="#e8262e" stroke-width="1.9" />
<text x="466.90" y="204.50" font-family='"Liberation Sans", sans-serif' font-size="7.6" fill="#222" text-anchor="start" font-weight="normal" font-style="normal"  textLength="42.2" lengthAdjust="spacingAndGlyphs" stroke="#222" stroke-width="0.18">Original 1-bit</text>
<text x="466.90" y="214.10" font-family='"Liberation Sans", sans-serif' font-size="7.6" fill="#222" text-anchor="start" font-weight="normal" font-style="normal"  textLength="42.2" lengthAdjust="spacingAndGlyphs" stroke="#222" stroke-width="0.18">Original 2-bit</text>
<text x="466.90" y="223.60" font-family='"Liberation Sans", sans-serif' font-size="7.6" fill="#222" text-anchor="start" font-weight="normal" font-style="normal"  textLength="51.2" lengthAdjust="spacingAndGlyphs" stroke="#222" stroke-width="0.18">Equivalent 3-bit</text>
<text x="466.90" y="232.60" font-family='"Liberation Sans", sans-serif' font-size="7.6" fill="#222" text-anchor="start" font-weight="normal" font-style="normal"  textLength="51.2" lengthAdjust="spacingAndGlyphs" stroke="#222" stroke-width="0.18">Equivalent 4-bit</text>
<defs><clipPath id="dclip"><rect x="300.6" y="194.85" width="218.40" height="154.35"/></clipPath></defs>
<polyline clip-path="url(#dclip)" points="300.60,383.50 300.75,383.50 300.90,383.50 301.06,383.50 301.21,383.50 301.36,383.50 301.51,383.50 301.66,383.50 301.81,380.43 301.97,376.92 302.12,373.78 302.27,370.93 302.42,368.34 302.57,365.95 302.72,363.74 302.88,361.68 303.03,359.75 303.18,357.94 303.33,356.23 303.48,354.61 303.63,353.08 303.79,351.62 303.94,350.22 304.09,348.89 304.24,347.62 304.39,346.39 304.54,345.22 304.70,344.09 304.85,342.99 305.00,341.94 305.15,340.92 305.30,339.94 305.45,338.98 305.61,338.06 305.76,337.16 305.91,336.29 306.06,335.44 306.21,334.62 306.36,333.81 306.52,333.03 306.67,332.27 306.82,331.52 306.97,330.80 307.12,330.09 307.27,329.39 307.43,328.72 307.58,328.05 307.73,327.41 307.88,326.77 308.03,326.15 308.18,325.54 308.34,324.94 308.49,324.36 308.64,323.79 308.79,323.22 308.94,322.67 309.09,322.13 309.25,321.60 309.40,321.07 309.55,320.56 309.70,320.06 309.85,319.56 310.00,319.08 310.16,318.60 310.31,318.13 310.46,317.67 310.61,317.21 310.76,316.76 310.91,316.33 311.06,315.89 311.22,315.47 311.37,315.05 311.52,314.64 311.67,314.23 311.82,313.84 311.98,313.45 312.13,313.06 312.28,312.68 312.43,312.31 312.58,311.94 312.73,311.58 312.89,311.23 313.04,310.88 313.19,310.53 313.34,310.20 313.49,309.86 313.64,309.54 313.80,309.22 313.95,308.90 314.10,308.59 314.25,308.28 314.40,307.99 314.55,307.69 314.71,307.40 314.86,307.12 315.01,306.84 315.16,306.57 315.31,306.30 315.46,306.04 315.62,305.78 315.77,305.53 315.92,305.28 316.07,305.04 316.22,304.80 316.37,304.57 316.53,304.34 316.68,304.12 316.83,303.90 316.98,303.69 317.13,303.48 317.28,303.28 317.44,303.08 317.59,302.89 317.74,302.71 317.89,302.52 318.04,302.35 318.19,302.18 318.35,302.01 318.50,301.85 318.65,301.70 318.80,301.55 318.95,301.41 319.10,301.27 319.25,301.14 319.41,301.01 319.56,300.89 319.71,300.77 319.86,300.66 320.01,300.55 320.17,300.46 320.32,300.36 320.47,300.27 320.62,300.19 320.77,300.12 320.92,300.05 321.08,299.98 321.23,299.93 321.38,299.88 321.53,299.83 321.68,299.79 321.83,299.76 321.99,299.73 322.14,299.72 322.29,299.70 322.44,299.70 322.59,299.70 322.74,299.71 322.90,299.72 323.05,299.74 323.20,299.77 323.35,299.81 323.50,299.86 323.65,299.91 323.81,299.97 323.96,300.03 324.11,300.11 324.26,300.19 324.41,300.28 324.56,300.38 324.72,300.49 324.87,300.61 325.02,300.73 325.17,300.86 325.32,301.01 325.47,301.16 325.62,301.32 325.78,301.49 325.93,301.67 326.08,301.86 326.23,302.06 326.38,302.27 326.54,302.49 326.69,302.72 326.84,302.96 326.99,303.21 327.14,303.48 327.29,303.75 327.44,304.04 327.60,304.34 327.75,304.65 327.90,304.97 328.05,305.31 328.20,305.66 328.36,306.02 328.51,306.40 328.66,306.79 328.81,307.19 328.96,307.61 329.11,308.05 329.27,308.50 329.42,308.96 329.57,309.45 329.72,309.95 329.87,310.46 330.02,311.00 330.18,311.55 330.33,312.12 330.48,312.71 330.63,313.32 330.78,313.95 330.93,314.60 331.09,315.28 331.24,315.97 331.39,316.69 331.54,317.44 331.69,318.20 331.84,319.00 332.00,319.82 332.15,320.67 332.30,321.55 332.45,322.46 332.60,323.40 332.75,324.37 332.91,325.38 333.06,326.42 333.21,327.50 333.36,328.62 333.51,329.78 333.66,330.98 333.81,332.23 333.97,333.52 334.12,334.87 334.27,336.27 334.42,337.72 334.57,339.23 334.73,340.81 334.88,342.45 335.03,344.16 335.18,345.94 335.33,347.81 335.48,349.77 335.63,351.82 335.79,353.97 335.94,356.23 336.09,358.61 336.24,361.11 336.39,363.77 336.55,366.58 336.70,369.56 336.85,372.74 337.00,376.13 337.15,379.78 337.30,383.50 337.46,383.50 337.61,383.50 337.76,383.50 337.91,383.50 338.06,383.50 338.21,383.50 338.37,383.50 338.52,383.50 338.67,383.50 338.82,383.50 338.97,383.50 339.12,383.50 339.28,383.50 339.43,383.50 339.58,383.50 339.73,383.50 339.88,383.50 340.03,383.50 340.19,383.50 340.34,383.50 340.49,383.50 340.64,383.50 340.79,383.50 340.94,383.50 341.10,383.50 341.25,383.50 341.40,379.14 341.55,374.66 341.70,370.47 341.85,366.54 342.00,362.84 342.16,359.34 342.31,356.02 342.46,352.87 342.61,349.87 342.76,347.00 342.92,344.26 343.07,341.63 343.22,339.10 343.37,336.68 343.52,334.35 343.67,332.10 343.83,329.93 343.98,327.83 344.13,325.80 344.28,323.84 344.43,321.94 344.58,320.10 344.74,318.32 344.89,316.59 345.04,314.91 345.19,313.28 345.34,311.69 345.49,310.15 345.65,308.65 345.80,307.19 345.95,305.77 346.10,304.38 346.25,303.03 346.40,301.72 346.56,300.44 346.71,299.19 346.86,297.98 347.01,296.79 347.16,295.63 347.31,294.51 347.47,293.41 347.62,292.33 347.77,291.29 347.92,290.27 348.07,289.27 348.22,288.30 348.38,287.35 348.53,286.43 348.68,285.53 348.83,284.65 348.98,283.79 349.13,282.96 349.29,282.15 349.44,281.35 349.59,280.58 349.74,279.83 349.89,279.10 350.04,278.39 350.19,277.70 350.35,277.02 350.50,276.37 350.65,275.73 350.80,275.11 350.95,274.52 351.11,273.94 351.26,273.37 351.41,272.83 351.56,272.30 351.71,271.79 351.86,271.30 352.01,270.82 352.17,270.37 352.32,269.93 352.47,269.50 352.62,269.10 352.77,268.71 352.93,268.33 353.08,267.98 353.23,267.64 353.38,267.32 353.53,267.01 353.68,266.73 353.84,266.45 353.99,266.20 354.14,265.96 354.29,265.74 354.44,265.54 354.59,265.35 354.75,265.18 354.90,265.03 355.05,264.90 355.20,264.78 355.35,264.68 355.50,264.60 355.66,264.53 355.81,264.49 355.96,264.46 356.11,264.45 356.26,264.45 356.41,264.48 356.56,264.53 356.72,264.59 356.87,264.67 357.02,264.78 357.17,264.90 357.32,265.04 357.48,265.20 357.63,265.38 357.78,265.59 357.93,265.81 358.08,266.06 358.23,266.33 358.38,266.62 358.54,266.93 358.69,267.27 358.84,267.63 358.99,268.01 359.14,268.42 359.30,268.85 359.45,269.31 359.60,269.80 359.75,270.31 359.90,270.85 360.05,271.42 360.21,272.02 360.36,272.64 360.51,273.30 360.66,273.99 360.81,274.72 360.96,275.47 361.12,276.27 361.27,277.10 361.42,277.96 361.57,278.87 361.72,279.81 361.87,280.80 362.03,281.83 362.18,282.91 362.33,284.03 362.48,285.21 362.63,286.44 362.78,287.72 362.94,289.06 363.09,290.46 363.24,291.92 363.39,293.45 363.54,295.05 363.69,296.73 363.85,298.49 364.00,300.34 364.15,302.28 364.30,304.32 364.45,306.46 364.60,308.72 364.75,311.11 364.91,313.64 365.06,316.31 365.21,319.15 365.36,322.17 365.51,325.40 365.67,328.85 365.82,332.57 365.97,336.57 366.12,340.92 366.27,345.65 366.42,350.86 366.58,356.61 366.73,363.05 366.88,370.34 367.03,378.72 367.18,383.50 367.33,383.50 367.49,383.50 367.64,383.50 367.79,383.50 367.94,383.50 368.09,383.50 368.24,383.50 368.39,383.50 368.55,383.50 368.70,383.50 368.85,383.50 369.00,375.54 369.15,366.98 369.31,359.48 369.46,352.80 369.61,346.79 369.76,341.32 369.91,336.31 370.06,331.68 370.22,327.39 370.37,323.39 370.52,319.65 370.67,316.13 370.82,312.81 370.97,309.67 371.12,306.70 371.28,303.88 371.43,301.20 371.58,298.64 371.73,296.20 371.88,293.87 372.04,291.63 372.19,289.49 372.34,287.44 372.49,285.47 372.64,283.58 372.79,281.76 372.95,280.01 373.10,278.33 373.25,276.71 373.40,275.15 373.55,273.65 373.70,272.20 373.86,270.80 374.01,269.45 374.16,268.15 374.31,266.90 374.46,265.69 374.61,264.53 374.76,263.41 374.92,262.33 375.07,261.29 375.22,260.29 375.37,259.32 375.52,258.39 375.68,257.50 375.83,256.64 375.98,255.82 376.13,255.03 376.28,254.27 376.43,253.55 376.59,252.86 376.74,252.19 376.89,251.56 377.04,250.96 377.19,250.39 377.34,249.85 377.50,249.34 377.65,248.86 377.80,248.41 377.95,247.98 378.10,247.58 378.25,247.22 378.41,246.88 378.56,246.56 378.71,246.28 378.86,246.02 379.01,245.80 379.16,245.60 379.31,245.42 379.47,245.28 379.62,245.16 379.77,245.08 379.92,245.02 380.07,244.99 380.23,244.98 380.38,245.01 380.53,245.07 380.68,245.15 380.83,245.27 380.98,245.41 381.13,245.59 381.29,245.79 381.44,246.03 381.59,246.30 381.74,246.61 381.89,246.94 382.05,247.31 382.20,247.72 382.35,248.16 382.50,248.63 382.65,249.15 382.80,249.70 382.96,250.29 383.11,250.92 383.26,251.59 383.41,252.30 383.56,253.06 383.71,253.86 383.87,254.71 384.02,255.61 384.17,256.56 384.32,257.57 384.47,258.62 384.62,259.74 384.77,260.91 384.93,262.15 385.08,263.46 385.23,264.83 385.38,266.28 385.53,267.81 385.69,269.42 385.84,271.12 385.99,272.91 386.14,274.80 386.29,276.81 386.44,278.93 386.60,281.17 386.75,283.56 386.90,286.09 387.05,288.79 387.20,291.67 387.35,294.76 387.50,298.07 387.66,301.63 387.81,305.49 387.96,309.68 388.11,314.26 388.26,319.29 388.42,324.87 388.57,331.11 388.72,338.17 388.87,346.29 389.02,355.81 389.17,367.29 389.33,381.69 389.48,383.50 389.63,383.50 389.78,383.50 389.93,383.50 390.08,383.50 390.24,383.50 390.39,382.62 390.54,367.13 390.69,354.78 390.84,344.50 390.99,335.69 391.14,327.99 391.30,321.14 391.45,314.97 391.60,309.36 391.75,304.22 391.90,299.48 392.06,295.08 392.21,290.97 392.36,287.13 392.51,283.51 392.66,280.10 392.81,276.88 392.97,273.82 393.12,270.92 393.27,268.16 393.42,265.52 393.57,263.00 393.72,260.59 393.88,258.29 394.03,256.07 394.18,253.95 394.33,251.91 394.48,249.95 394.63,248.06 394.79,246.25 394.94,244.49 395.09,242.81 395.24,241.18 395.39,239.61 395.54,238.10 395.70,236.63 395.85,235.22 396.00,233.86 396.15,232.54 396.30,231.27 396.45,230.05 396.61,228.86 396.76,227.72 396.91,226.61 397.06,225.55 397.21,224.52 397.36,223.52 397.51,222.57 397.67,221.65 397.82,220.76 397.97,219.90 398.12,219.08 398.27,218.29 398.43,217.53 398.58,216.80 398.73,216.10 398.88,215.43 399.03,214.79 399.18,214.18 399.34,213.60 399.49,213.04 399.64,212.52 399.79,212.02 399.94,211.55 400.09,211.10 400.25,210.68 400.40,210.29 400.55,209.93 400.70,209.60 400.85,209.29 401.00,209.00 401.16,208.75 401.31,208.52 401.46,208.31 401.61,208.14 401.76,207.99 401.91,207.87 402.06,207.77 402.22,207.70 402.37,207.67 402.52,207.65 402.67,207.67 402.82,207.72 402.98,207.79 403.13,207.90 403.28,208.03 403.43,208.19 403.58,208.39 403.73,208.62 403.88,208.88 404.04,209.18 404.19,209.51 404.34,209.87 404.49,210.27 404.64,210.71 404.80,211.19 404.95,211.71 405.10,212.27 405.25,212.88 405.40,213.53 405.55,214.23 405.71,214.98 405.86,215.78 406.01,216.64 406.16,217.57 406.31,218.55 406.46,219.61 406.62,220.73 406.77,221.94 406.92,223.24 407.07,224.63 407.22,226.12 407.37,227.73 407.52,229.47 407.68,231.36 407.83,233.40 407.98,235.64 408.13,238.10 408.28,240.81 408.44,243.84 408.59,247.25 408.74,251.14 408.89,255.65 409.04,261.02 409.19,267.62 409.35,276.15 409.50,288.20 409.65,308.83 409.80,383.50 409.95,308.83 410.10,288.20 410.25,276.15 410.41,267.62 410.56,261.02 410.71,255.65 410.86,251.14 411.01,247.25 411.17,243.84 411.32,240.81 411.47,238.10 411.62,235.64 411.77,233.40 411.92,231.36 412.07,229.47 412.23,227.73 412.38,226.12 412.53,224.63 412.68,223.24 412.83,221.94 412.99,220.73 413.14,219.61 413.29,218.55 413.44,217.57 413.59,216.64 413.74,215.78 413.89,214.98 414.05,214.23 414.20,213.53 414.35,212.88 414.50,212.27 414.65,211.71 414.81,211.19 414.96,210.71 415.11,210.27 415.26,209.87 415.41,209.51 415.56,209.18 415.72,208.88 415.87,208.62 416.02,208.39 416.17,208.19 416.32,208.03 416.47,207.90 416.62,207.79 416.78,207.72 416.93,207.67 417.08,207.65 417.23,207.67 417.38,207.70 417.54,207.77 417.69,207.87 417.84,207.99 417.99,208.14 418.14,208.31 418.29,208.52 418.45,208.75 418.60,209.00 418.75,209.29 418.90,209.60 419.05,209.93 419.20,210.29 419.36,210.68 419.51,211.10 419.66,211.55 419.81,212.02 419.96,212.52 420.11,213.04 420.26,213.60 420.42,214.18 420.57,214.79 420.72,215.43 420.87,216.10 421.02,216.80 421.18,217.53 421.33,218.29 421.48,219.08 421.63,219.90 421.78,220.76 421.93,221.65 422.09,222.57 422.24,223.52 422.39,224.52 422.54,225.55 422.69,226.61 422.84,227.72 423.00,228.86 423.15,230.05 423.30,231.27 423.45,232.54 423.60,233.86 423.75,235.22 423.91,236.63 424.06,238.10 424.21,239.61 424.36,241.18 424.51,242.81 424.66,244.49 424.81,246.25 424.97,248.06 425.12,249.95 425.27,251.91 425.42,253.95 425.57,256.07 425.73,258.29 425.88,260.59 426.03,263.00 426.18,265.52 426.33,268.16 426.48,270.92 426.63,273.82 426.79,276.88 426.94,280.10 427.09,283.51 427.24,287.13 427.39,290.97 427.55,295.08 427.70,299.48 427.85,304.22 428.00,309.36 428.15,314.97 428.30,321.14 428.46,327.99 428.61,335.69 428.76,344.50 428.91,354.78 429.06,367.13 429.21,382.62 429.37,383.50 429.52,383.50 429.67,383.50 429.82,383.50 429.97,383.50 430.12,383.50 430.27,381.69 430.43,367.29 430.58,355.81 430.73,346.29 430.88,338.17 431.03,331.11 431.19,324.87 431.34,319.29 431.49,314.26 431.64,309.68 431.79,305.49 431.94,301.63 432.10,298.07 432.25,294.76 432.40,291.67 432.55,288.79 432.70,286.09 432.85,283.56 433.00,281.17 433.16,278.93 433.31,276.81 433.46,274.80 433.61,272.91 433.76,271.12 433.92,269.42 434.07,267.81 434.22,266.28 434.37,264.83 434.52,263.46 434.67,262.15 434.82,260.91 434.98,259.74 435.13,258.62 435.28,257.57 435.43,256.56 435.58,255.61 435.74,254.71 435.89,253.86 436.04,253.06 436.19,252.30 436.34,251.59 436.49,250.92 436.64,250.29 436.80,249.70 436.95,249.15 437.10,248.63 437.25,248.16 437.40,247.72 437.56,247.31 437.71,246.94 437.86,246.61 438.01,246.30 438.16,246.03 438.31,245.79 438.47,245.59 438.62,245.41 438.77,245.27 438.92,245.15 439.07,245.07 439.22,245.01 439.38,244.98 439.53,244.99 439.68,245.02 439.83,245.08 439.98,245.16 440.13,245.28 440.28,245.42 440.44,245.60 440.59,245.80 440.74,246.02 440.89,246.28 441.04,246.56 441.20,246.88 441.35,247.22 441.50,247.58 441.65,247.98 441.80,248.41 441.95,248.86 442.11,249.34 442.26,249.85 442.41,250.39 442.56,250.96 442.71,251.56 442.86,252.19 443.01,252.86 443.17,253.55 443.32,254.27 443.47,255.03 443.62,255.82 443.77,256.64 443.93,257.50 444.08,258.39 444.23,259.32 444.38,260.29 444.53,261.29 444.68,262.33 444.84,263.41 444.99,264.53 445.14,265.69 445.29,266.90 445.44,268.15 445.59,269.45 445.75,270.80 445.90,272.20 446.05,273.65 446.20,275.15 446.35,276.71 446.50,278.33 446.65,280.01 446.81,281.76 446.96,283.58 447.11,285.47 447.26,287.44 447.41,289.49 447.56,291.63 447.72,293.87 447.87,296.20 448.02,298.64 448.17,301.20 448.32,303.88 448.48,306.70 448.63,309.67 448.78,312.81 448.93,316.13 449.08,319.65 449.23,323.39 449.38,327.39 449.54,331.68 449.69,336.31 449.84,341.32 449.99,346.79 450.14,352.80 450.30,359.48 450.45,366.98 450.60,375.54 450.75,383.50 450.90,383.50 451.05,383.50 451.21,383.50 451.36,383.50 451.51,383.50 451.66,383.50 451.81,383.50 451.96,383.50 452.12,383.50 452.27,383.50 452.42,383.50 452.57,378.72 452.72,370.34 452.87,363.05 453.02,356.61 453.18,350.86 453.33,345.65 453.48,340.92 453.63,336.57 453.78,332.57 453.94,328.85 454.09,325.40 454.24,322.17 454.39,319.15 454.54,316.31 454.69,313.64 454.85,311.11 455.00,308.72 455.15,306.46 455.30,304.32 455.45,302.28 455.60,300.34 455.75,298.49 455.91,296.73 456.06,295.05 456.21,293.45 456.36,291.92 456.51,290.46 456.67,289.06 456.82,287.72 456.97,286.44 457.12,285.21 457.27,284.03 457.42,282.91 457.57,281.83 457.73,280.80 457.88,279.81 458.03,278.87 458.18,277.96 458.33,277.10 458.49,276.27 458.64,275.47 458.79,274.72 458.94,273.99 459.09,273.30 459.24,272.64 459.39,272.02 459.55,271.42 459.70,270.85 459.85,270.31 460.00,269.80 460.15,269.31 460.31,268.85 460.46,268.42 460.61,268.01 460.76,267.63 460.91,267.27 461.06,266.93 461.22,266.62 461.37,266.33 461.52,266.06 461.67,265.81 461.82,265.59 461.97,265.38 462.12,265.20 462.28,265.04 462.43,264.90 462.58,264.78 462.73,264.67 462.88,264.59 463.03,264.53 463.19,264.48 463.34,264.45 463.49,264.45 463.64,264.46 463.79,264.49 463.95,264.53 464.10,264.60 464.25,264.68 464.40,264.78 464.55,264.90 464.70,265.03 464.86,265.18 465.01,265.35 465.16,265.54 465.31,265.74 465.46,265.96 465.61,266.20 465.76,266.45 465.92,266.73 466.07,267.01 466.22,267.32 466.37,267.64 466.52,267.98 466.68,268.33 466.83,268.71 466.98,269.10 467.13,269.50 467.28,269.93 467.43,270.37 467.59,270.82 467.74,271.30 467.89,271.79 468.04,272.30 468.19,272.83 468.34,273.37 468.50,273.94 468.65,274.52 468.80,275.11 468.95,275.73 469.10,276.37 469.25,277.02 469.40,277.70 469.56,278.39 469.71,279.10 469.86,279.83 470.01,280.58 470.16,281.35 470.31,282.15 470.47,282.96 470.62,283.79 470.77,284.65 470.92,285.53 471.07,286.43 471.23,287.35 471.38,288.30 471.53,289.27 471.68,290.27 471.83,291.29 471.98,292.33 472.13,293.41 472.29,294.51 472.44,295.63 472.59,296.79 472.74,297.98 472.89,299.19 473.05,300.44 473.20,301.72 473.35,303.03 473.50,304.38 473.65,305.77 473.80,307.19 473.96,308.65 474.11,310.15 474.26,311.69 474.41,313.28 474.56,314.91 474.71,316.59 474.87,318.32 475.02,320.10 475.17,321.94 475.32,323.84 475.47,325.80 475.62,327.83 475.77,329.93 475.93,332.10 476.08,334.35 476.23,336.68 476.38,339.10 476.53,341.63 476.69,344.26 476.84,347.00 476.99,349.87 477.14,352.87 477.29,356.02 477.44,359.34 477.60,362.84 477.75,366.54 477.90,370.47 478.05,374.66 478.20,379.14 478.35,383.50 478.50,383.50 478.66,383.50 478.81,383.50 478.96,383.50 479.11,383.50 479.26,383.50 479.42,383.50 479.57,383.50 479.72,383.50 479.87,383.50 480.02,383.50 480.17,383.50 480.32,383.50 480.48,383.50 480.63,383.50 480.78,383.50 480.93,383.50 481.08,383.50 481.24,383.50 481.39,383.50 481.54,383.50 481.69,383.50 481.84,383.50 481.99,383.50 482.14,383.50 482.30,383.50 482.45,379.78 482.60,376.13 482.75,372.74 482.90,369.56 483.05,366.58 483.21,363.77 483.36,361.11 483.51,358.61 483.66,356.23 483.81,353.97 483.97,351.82 484.12,349.77 484.27,347.81 484.42,345.94 484.57,344.16 484.72,342.45 484.88,340.81 485.03,339.23 485.18,337.72 485.33,336.27 485.48,334.87 485.63,333.52 485.78,332.23 485.94,330.98 486.09,329.78 486.24,328.62 486.39,327.50 486.54,326.42 486.70,325.38 486.85,324.37 487.00,323.40 487.15,322.46 487.30,321.55 487.45,320.67 487.61,319.82 487.76,319.00 487.91,318.20 488.06,317.44 488.21,316.69 488.36,315.97 488.51,315.28 488.67,314.60 488.82,313.95 488.97,313.32 489.12,312.71 489.27,312.12 489.43,311.55 489.58,311.00 489.73,310.46 489.88,309.95 490.03,309.45 490.18,308.96 490.34,308.50 490.49,308.05 490.64,307.61 490.79,307.19 490.94,306.79 491.09,306.40 491.25,306.02 491.40,305.66 491.55,305.31 491.70,304.97 491.85,304.65 492.00,304.34 492.15,304.04 492.31,303.75 492.46,303.48 492.61,303.21 492.76,302.96 492.91,302.72 493.06,302.49 493.22,302.27 493.37,302.06 493.52,301.86 493.67,301.67 493.82,301.49 493.98,301.32 494.13,301.16 494.28,301.01 494.43,300.86 494.58,300.73 494.73,300.61 494.88,300.49 495.04,300.38 495.19,300.28 495.34,300.19 495.49,300.11 495.64,300.03 495.80,299.97 495.95,299.91 496.10,299.86 496.25,299.81 496.40,299.77 496.55,299.74 496.70,299.72 496.86,299.71 497.01,299.70 497.16,299.70 497.31,299.70 497.46,299.72 497.62,299.73 497.77,299.76 497.92,299.79 498.07,299.83 498.22,299.88 498.37,299.93 498.52,299.98 498.68,300.05 498.83,300.12 498.98,300.19 499.13,300.27 499.28,300.36 499.44,300.46 499.59,300.55 499.74,300.66 499.89,300.77 500.04,300.89 500.19,301.01 500.35,301.14 500.50,301.27 500.65,301.41 500.80,301.55 500.95,301.70 501.10,301.85 501.25,302.01 501.41,302.18 501.56,302.35 501.71,302.52 501.86,302.71 502.01,302.89 502.17,303.08 502.32,303.28 502.47,303.48 502.62,303.69 502.77,303.90 502.92,304.12 503.07,304.34 503.23,304.57 503.38,304.80 503.53,305.04 503.68,305.28 503.83,305.53 503.99,305.78 504.14,306.04 504.29,306.30 504.44,306.57 504.59,306.84 504.74,307.12 504.89,307.40 505.05,307.69 505.20,307.99 505.35,308.28 505.50,308.59 505.65,308.90 505.80,309.22 505.96,309.54 506.11,309.86 506.26,310.20 506.41,310.53 506.56,310.88 506.72,311.23 506.87,311.58 507.02,311.94 507.17,312.31 507.32,312.68 507.47,313.06 507.62,313.45 507.78,313.84 507.93,314.23 508.08,314.64 508.23,315.05 508.38,315.47 508.53,315.89 508.69,316.33 508.84,316.76 508.99,317.21 509.14,317.67 509.29,318.13 509.45,318.60 509.60,319.08 509.75,319.56 509.90,320.06 510.05,320.56 510.20,321.07 510.36,321.60 510.51,322.13 510.66,322.67 510.81,323.22 510.96,323.79 511.11,324.36 511.26,324.94 511.42,325.54 511.57,326.15 511.72,326.77 511.87,327.41 512.02,328.05 512.17,328.72 512.33,329.39 512.48,330.09 512.63,330.80 512.78,331.52 512.93,332.27 513.09,333.03 513.24,333.81 513.39,334.62 513.54,335.44 513.69,336.29 513.84,337.16 514.00,338.06 514.15,338.98 514.30,339.94 514.45,340.92 514.60,341.94 514.75,342.99 514.90,344.09 515.06,345.22 515.21,346.39 515.36,347.62 515.51,348.89 515.66,350.22 515.82,351.62 515.97,353.08 516.12,354.61 516.27,356.23 516.42,357.94 516.57,359.75 516.73,361.68 516.88,363.74 517.03,365.95 517.18,368.34 517.33,370.93 517.48,373.78 517.63,376.92 517.79,380.43 517.94,383.50 518.09,383.50 518.24,383.50 518.39,383.50 518.55,383.50 518.70,383.50 518.85,383.50 519.00,383.50" fill="none" stroke="#3344b4" stroke-width="1.5" stroke-dasharray="1.2 1.2"/>
<polyline clip-path="url(#dclip)" points="300.60,383.50 300.75,383.50 300.90,383.50 301.06,383.50 301.21,383.50 301.36,383.50 301.51,383.50 301.66,383.50 301.81,383.50 301.97,383.50 302.12,383.50 302.27,383.50 302.42,383.50 302.57,383.50 302.72,383.50 302.88,383.50 303.03,383.50 303.18,383.50 303.33,383.50 303.48,383.50 303.63,383.50 303.79,383.50 303.94,383.50 304.09,383.50 304.24,383.50 304.39,383.50 304.54,383.50 304.70,383.50 304.85,383.50 305.00,383.50 305.15,383.50 305.30,383.50 305.45,383.50 305.61,383.50 305.76,383.50 305.91,383.50 306.06,383.50 306.21,383.50 306.36,383.50 306.52,383.50 306.67,383.50 306.82,383.50 306.97,383.50 307.12,383.50 307.27,383.50 307.43,383.50 307.58,383.50 307.73,383.50 307.88,383.50 308.03,383.50 308.18,383.50 308.34,383.50 308.49,383.50 308.64,383.50 308.79,383.50 308.94,383.50 309.09,383.50 309.25,383.50 309.40,383.50 309.55,383.50 309.70,383.50 309.85,383.50 310.00,383.50 310.16,383.50 310.31,383.50 310.46,383.50 310.61,383.50 310.76,383.50 310.91,383.50 311.06,383.50 311.22,383.50 311.37,383.50 311.52,383.50 311.67,383.50 311.82,383.50 311.98,383.50 312.13,383.50 312.28,383.50 312.43,383.50 312.58,383.50 312.73,383.50 312.89,383.50 313.04,383.50 313.19,383.50 313.34,383.50 313.49,383.50 313.64,383.50 313.80,383.50 313.95,383.50 314.10,383.50 314.25,383.50 314.40,383.50 314.55,382.08 314.71,380.43 314.86,378.82 315.01,377.24 315.16,375.71 315.31,374.22 315.46,372.76 315.62,371.33 315.77,369.94 315.92,368.58 316.07,367.24 316.22,365.93 316.37,364.65 316.53,363.39 316.68,362.15 316.83,360.94 316.98,359.75 317.13,358.59 317.28,357.44 317.44,356.31 317.59,355.20 317.74,354.11 317.89,353.04 318.04,351.98 318.19,350.94 318.35,349.92 318.50,348.92 318.65,347.92 318.80,346.95 318.95,345.99 319.10,345.04 319.25,344.11 319.41,343.19 319.56,342.28 319.71,341.39 319.86,340.51 320.01,339.64 320.17,338.79 320.32,337.94 320.47,337.11 320.62,336.29 320.77,335.48 320.92,334.69 321.08,333.90 321.23,333.13 321.38,332.36 321.53,331.61 321.68,330.87 321.83,330.13 321.99,329.41 322.14,328.70 322.29,328.00 322.44,327.31 322.59,326.63 322.74,325.96 322.90,325.29 323.05,324.64 323.20,324.00 323.35,323.37 323.50,322.74 323.65,322.13 323.81,321.53 323.96,320.93 324.11,320.35 324.26,319.77 324.41,319.20 324.56,318.65 324.72,318.10 324.87,317.56 325.02,317.03 325.17,316.51 325.32,316.00 325.47,315.50 325.62,315.01 325.78,314.53 325.93,314.05 326.08,313.59 326.23,313.14 326.38,312.69 326.54,312.26 326.69,311.83 326.84,311.42 326.99,311.01 327.14,310.61 327.29,310.23 327.44,309.85 327.60,309.49 327.75,309.13 327.90,308.78 328.05,308.45 328.20,308.13 328.36,307.81 328.51,307.51 328.66,307.21 328.81,306.93 328.96,306.66 329.11,306.40 329.27,306.16 329.42,305.92 329.57,305.70 329.72,305.48 329.87,305.28 330.02,305.10 330.18,304.92 330.33,304.76 330.48,304.61 330.63,304.48 330.78,304.35 330.93,304.25 331.09,304.15 331.24,304.08 331.39,304.01 331.54,303.96 331.69,303.93 331.84,303.92 332.00,303.92 332.15,303.94 332.30,303.97 332.45,304.03 332.60,304.10 332.75,304.19 332.91,304.31 333.06,304.44 333.21,304.60 333.36,304.78 333.51,304.98 333.66,305.21 333.81,305.46 333.97,305.74 334.12,306.05 334.27,306.39 334.42,306.76 334.57,307.16 334.73,307.60 334.88,308.07 335.03,308.58 335.18,309.13 335.33,309.73 335.48,310.37 335.63,311.06 335.79,311.81 335.94,312.61 336.09,313.48 336.24,314.41 336.39,315.42 336.55,316.51 336.70,317.69 336.85,318.98 337.00,320.37 337.15,321.89 337.30,323.55 337.46,325.38 337.61,327.40 337.76,329.64 337.91,332.15 338.06,334.99 338.21,338.23 338.37,341.98 338.52,346.41 338.67,351.78 338.82,358.55 338.97,367.61 339.12,381.14 339.28,383.50 339.43,383.50 339.58,383.50 339.73,370.10 339.88,359.07 340.03,350.87 340.19,344.33 340.34,338.86 340.49,334.15 340.64,330.01 340.79,326.30 340.94,322.95 341.10,319.88 341.25,317.06 341.40,314.43 341.55,311.98 341.70,309.68 341.85,307.51 342.00,305.46 342.16,303.52 342.31,301.67 342.46,299.91 342.61,298.22 342.76,296.60 342.92,295.05 343.07,293.57 343.22,292.13 343.37,290.75 343.52,289.42 343.67,288.13 343.83,286.89 343.98,285.69 344.13,284.53 344.28,283.40 344.43,282.31 344.58,281.25 344.74,280.22 344.89,279.22 345.04,278.25 345.19,277.31 345.34,276.39 345.49,275.50 345.65,274.64 345.80,273.80 345.95,272.98 346.10,272.19 346.25,271.41 346.40,270.66 346.56,269.93 346.71,269.22 346.86,268.53 347.01,267.85 347.16,267.20 347.31,266.56 347.47,265.95 347.62,265.35 347.77,264.76 347.92,264.20 348.07,263.65 348.22,263.11 348.38,262.60 348.53,262.10 348.68,261.61 348.83,261.14 348.98,260.69 349.13,260.25 349.29,259.82 349.44,259.42 349.59,259.02 349.74,258.64 349.89,258.28 350.04,257.93 350.19,257.59 350.35,257.27 350.50,256.96 350.65,256.67 350.80,256.39 350.95,256.12 351.11,255.87 351.26,255.63 351.41,255.41 351.56,255.20 351.71,255.00 351.86,254.82 352.01,254.65 352.17,254.50 352.32,254.36 352.47,254.24 352.62,254.12 352.77,254.03 352.93,253.94 353.08,253.87 353.23,253.82 353.38,253.78 353.53,253.75 353.68,253.74 353.84,253.74 353.99,253.76 354.14,253.79 354.29,253.84 354.44,253.90 354.59,253.98 354.75,254.07 354.90,254.18 355.05,254.30 355.20,254.44 355.35,254.59 355.50,254.76 355.66,254.95 355.81,255.15 355.96,255.37 356.11,255.61 356.26,255.86 356.41,256.14 356.56,256.42 356.72,256.73 356.87,257.05 357.02,257.40 357.17,257.76 357.32,258.14 357.48,258.54 357.63,258.96 357.78,259.40 357.93,259.86 358.08,260.34 358.23,260.84 358.38,261.36 358.54,261.91 358.69,262.48 358.84,263.07 358.99,263.68 359.14,264.32 359.30,264.99 359.45,265.67 359.60,266.39 359.75,267.13 359.90,267.90 360.05,268.70 360.21,269.53 360.36,270.38 360.51,271.27 360.66,272.19 360.81,273.14 360.96,274.13 361.12,275.15 361.27,276.21 361.42,277.30 361.57,278.44 361.72,279.61 361.87,280.83 362.03,282.10 362.18,283.40 362.33,284.76 362.48,286.17 362.63,287.63 362.78,289.14 362.94,290.72 363.09,292.35 363.24,294.05 363.39,295.82 363.54,297.66 363.69,299.58 363.85,301.58 364.00,303.67 364.15,305.85 364.30,308.13 364.45,310.52 364.60,313.03 364.75,315.66 364.91,318.43 365.06,321.36 365.21,324.45 365.36,327.73 365.51,331.21 365.67,334.92 365.82,338.89 365.97,343.16 366.12,347.76 366.27,352.77 366.42,358.24 366.58,364.26 366.73,370.97 366.88,378.54 367.03,383.50 367.18,383.50 367.33,383.50 367.49,383.50 367.64,383.50 367.79,383.50 367.94,383.50 368.09,383.50 368.24,383.50 368.39,383.50 368.55,383.50 368.70,383.50 368.85,383.50 369.00,383.50 369.15,379.66 369.31,372.49 369.46,366.15 369.61,360.47 369.76,355.35 369.91,350.69 370.06,346.42 370.22,342.49 370.37,338.86 370.52,335.49 370.67,332.35 370.82,329.42 370.97,326.68 371.12,324.11 371.28,321.70 371.43,319.44 371.58,317.31 371.73,315.30 371.88,313.41 372.04,311.64 372.19,309.96 372.34,308.39 372.49,306.91 372.64,305.51 372.79,304.21 372.95,302.99 373.10,301.84 373.25,300.78 373.40,299.79 373.55,298.87 373.70,298.03 373.86,297.25 374.01,296.55 374.16,295.92 374.31,295.35 374.46,294.86 374.61,294.43 374.76,294.07 374.92,293.78 375.07,293.57 375.22,293.43 375.37,293.36 375.52,293.37 375.68,293.46 375.83,293.63 375.98,293.88 376.13,294.23 376.28,294.67 376.43,295.21 376.59,295.87 376.74,296.63 376.89,297.53 377.04,298.57 377.19,299.76 377.34,301.13 377.50,302.69 377.65,304.48 377.80,306.53 377.95,308.89 378.10,311.63 378.25,314.84 378.41,318.65 378.56,323.28 378.71,329.05 378.86,336.58 379.01,347.21 379.16,364.79 379.31,383.50 379.47,375.59 379.62,351.06 379.77,337.48 379.92,327.97 380.07,320.61 380.23,314.60 380.38,309.50 380.53,305.08 380.68,301.17 380.83,297.68 380.98,294.51 381.13,291.62 381.29,288.97 381.44,286.53 381.59,284.26 381.74,282.15 381.89,280.18 382.05,278.35 382.20,276.63 382.35,275.01 382.50,273.50 382.65,272.08 382.80,270.75 382.96,269.50 383.11,268.33 383.26,267.24 383.41,266.21 383.56,265.26 383.71,264.37 383.87,263.55 384.02,262.79 384.17,262.09 384.32,261.46 384.47,260.88 384.62,260.36 384.77,259.91 384.93,259.51 385.08,259.18 385.23,258.91 385.38,258.69 385.53,258.54 385.69,258.46 385.84,258.44 385.99,258.49 386.14,258.61 386.29,258.81 386.44,259.08 386.60,259.44 386.75,259.88 386.90,260.41 387.05,261.05 387.20,261.79 387.35,262.65 387.50,263.64 387.66,264.77 387.81,266.06 387.96,267.53 388.11,269.21 388.26,271.13 388.42,273.34 388.57,275.89 388.72,278.87 388.87,282.38 389.02,286.61 389.17,291.83 389.33,298.53 389.48,307.66 389.63,321.66 389.78,350.97 389.93,359.80 390.08,323.02 390.24,306.60 390.39,295.76 390.54,287.60 390.69,281.01 390.84,275.48 390.99,270.68 391.14,266.45 391.30,262.66 391.45,259.22 391.60,256.06 391.75,253.15 391.90,250.45 392.06,247.93 392.21,245.57 392.36,243.34 392.51,241.24 392.66,239.25 392.81,237.36 392.97,235.57 393.12,233.86 393.27,232.23 393.42,230.67 393.57,229.18 393.72,227.75 393.88,226.38 394.03,225.07 394.18,223.81 394.33,222.60 394.48,221.43 394.63,220.32 394.79,219.24 394.94,218.21 395.09,217.22 395.24,216.27 395.39,215.35 395.54,214.47 395.70,213.62 395.85,212.81 396.00,212.03 396.15,211.28 396.30,210.56 396.45,209.87 396.61,209.21 396.76,208.58 396.91,207.98 397.06,207.40 397.21,206.86 397.36,206.33 397.51,205.84 397.67,205.37 397.82,204.93 397.97,204.51 398.12,204.11 398.27,203.74 398.43,203.40 398.58,203.07 398.73,202.78 398.88,202.50 399.03,202.25 399.18,202.02 399.34,201.82 399.49,201.64 399.64,201.48 399.79,201.34 399.94,201.23 400.09,201.14 400.25,201.08 400.40,201.03 400.55,201.02 400.70,201.02 400.85,201.05 401.00,201.10 401.16,201.17 401.31,201.27 401.46,201.39 401.61,201.54 401.76,201.71 401.91,201.91 402.06,202.13 402.22,202.38 402.37,202.65 402.52,202.95 402.67,203.28 402.82,203.63 402.98,204.01 403.13,204.42 403.28,204.86 403.43,205.33 403.58,205.83 403.73,206.36 403.88,206.92 404.04,207.51 404.19,208.14 404.34,208.81 404.49,209.51 404.64,210.24 404.80,211.02 404.95,211.84 405.10,212.70 405.25,213.60 405.40,214.55 405.55,215.55 405.71,216.60 405.86,217.71 406.01,218.87 406.16,220.09 406.31,221.38 406.46,222.74 406.62,224.17 406.77,225.69 406.92,227.29 407.07,228.99 407.22,230.80 407.37,232.72 407.52,234.77 407.68,236.97 407.83,239.34 407.98,241.90 408.13,244.67 408.28,247.72 408.44,251.07 408.59,254.81 408.74,259.03 408.89,263.89 409.04,269.59 409.19,276.53 409.35,285.41 409.50,297.81 409.65,318.80 409.80,383.50 409.95,319.52 410.10,299.25 410.25,287.58 410.41,279.42 410.56,273.21 410.71,268.23 410.86,264.11 411.01,260.62 411.17,257.62 411.32,255.01 411.47,252.71 411.62,250.68 411.77,248.88 411.92,247.28 412.07,245.85 412.23,244.57 412.38,243.43 412.53,242.42 412.68,241.52 412.83,240.73 412.99,240.03 413.14,239.43 413.29,238.91 413.44,238.48 413.59,238.13 413.74,237.85 413.89,237.64 414.05,237.51 414.20,237.45 414.35,237.45 414.50,237.52 414.65,237.66 414.81,237.86 414.96,238.13 415.11,238.46 415.26,238.87 415.41,239.34 415.56,239.88 415.72,240.49 415.87,241.18 416.02,241.94 416.17,242.78 416.32,243.70 416.47,244.72 416.62,245.82 416.78,247.03 416.93,248.34 417.08,249.77 417.23,251.33 417.38,253.02 417.54,254.87 417.69,256.90 417.84,259.12 417.99,261.57 418.14,264.29 418.29,267.33 418.45,270.75 418.60,274.66 418.75,279.21 418.90,284.60 419.05,291.21 419.20,299.74 419.36,311.71 419.51,331.97 419.66,383.50 419.81,334.10 419.96,313.09 420.11,301.01 420.26,292.53 420.42,286.03 420.57,280.78 420.72,276.41 420.87,272.67 421.02,269.43 421.18,266.58 421.33,264.05 421.48,261.79 421.63,259.77 421.78,257.94 421.93,256.29 422.09,254.79 422.24,253.43 422.39,252.20 422.54,251.09 422.69,250.08 422.84,249.18 423.00,248.36 423.15,247.63 423.30,246.99 423.45,246.43 423.60,245.94 423.75,245.52 423.91,245.17 424.06,244.89 424.21,244.68 424.36,244.53 424.51,244.45 424.66,244.44 424.81,244.48 424.97,244.59 425.12,244.77 425.27,245.01 425.42,245.31 425.57,245.69 425.73,246.13 425.88,246.64 426.03,247.23 426.18,247.89 426.33,248.63 426.48,249.46 426.63,250.37 426.79,251.38 426.94,252.50 427.09,253.72 427.24,255.06 427.39,256.54 427.55,258.16 427.70,259.94 427.85,261.91 428.00,264.10 428.15,266.53 428.30,269.26 428.46,272.34 428.61,275.86 428.76,279.95 428.91,284.78 429.06,290.67 429.21,298.13 429.37,308.28 429.52,324.00 429.67,360.09 429.82,350.57 429.97,320.57 430.12,305.87 430.27,296.05 430.43,288.66 430.58,282.75 430.73,277.82 430.88,273.60 431.03,269.93 431.19,266.67 431.34,263.76 431.49,261.13 431.64,258.73 431.79,256.54 431.94,254.52 432.10,252.66 432.25,250.94 432.40,249.34 432.55,247.85 432.70,246.46 432.85,245.16 433.00,243.95 433.16,242.81 433.31,241.75 433.46,240.75 433.61,239.82 433.76,238.94 433.92,238.12 434.07,237.36 434.22,236.64 434.37,235.97 434.52,235.35 434.67,234.77 434.82,234.24 434.98,233.74 435.13,233.28 435.28,232.86 435.43,232.47 435.58,232.12 435.74,231.80 435.89,231.52 436.04,231.27 436.19,231.05 436.34,230.85 436.49,230.69 436.64,230.56 436.80,230.46 436.95,230.38 437.10,230.33 437.25,230.31 437.40,230.32 437.56,230.35 437.71,230.41 437.86,230.49 438.01,230.60 438.16,230.74 438.31,230.89 438.47,231.08 438.62,231.29 438.77,231.52 438.92,231.77 439.07,232.05 439.22,232.36 439.38,232.69 439.53,233.04 439.68,233.42 439.83,233.82 439.98,234.24 440.13,234.69 440.28,235.16 440.44,235.66 440.59,236.18 440.74,236.72 440.89,237.29 441.04,237.89 441.20,238.51 441.35,239.15 441.50,239.82 441.65,240.52 441.80,241.24 441.95,241.98 442.11,242.76 442.26,243.56 442.41,244.38 442.56,245.24 442.71,246.12 442.86,247.03 443.01,247.97 443.17,248.94 443.32,249.94 443.47,250.97 443.62,252.03 443.77,253.13 443.93,254.26 444.08,255.42 444.23,256.61 444.38,257.84 444.53,259.11 444.68,260.42 444.84,261.76 444.99,263.14 445.14,264.57 445.29,266.04 445.44,267.55 445.59,269.11 445.75,270.72 445.90,272.38 446.05,274.08 446.20,275.85 446.35,277.67 446.50,279.55 446.65,281.49 446.81,283.50 446.96,285.58 447.11,287.73 447.26,289.96 447.41,292.27 447.56,294.67 447.72,297.16 447.87,299.76 448.02,302.46 448.17,305.28 448.32,308.23 448.48,311.31 448.63,314.55 448.78,317.95 448.93,321.53 449.08,325.32 449.23,329.33 449.38,333.60 449.54,338.17 449.69,343.06 449.84,348.35 449.99,354.09 450.14,360.38 450.30,367.34 450.45,375.12 450.60,383.50 450.75,383.50 450.90,383.50 451.05,383.50 451.21,383.50 451.36,383.50 451.51,383.50 451.66,383.50 451.81,383.50 451.96,383.50 452.12,383.50 452.27,383.50 452.42,383.50 452.57,383.50 452.72,382.96 452.87,375.99 453.02,369.88 453.18,364.45 453.33,359.58 453.48,355.18 453.63,351.17 453.78,347.51 453.94,344.15 454.09,341.05 454.24,338.18 454.39,335.52 454.54,333.05 454.69,330.75 454.85,328.61 455.00,326.61 455.15,324.74 455.30,322.99 455.45,321.36 455.60,319.83 455.75,318.40 455.91,317.07 456.06,315.82 456.21,314.66 456.36,313.58 456.51,312.58 456.67,311.65 456.82,310.79 456.97,310.00 457.12,309.27 457.27,308.61 457.42,308.01 457.57,307.47 457.73,306.98 457.88,306.56 458.03,306.19 458.18,305.87 458.33,305.61 458.49,305.41 458.64,305.26 458.79,305.16 458.94,305.12 459.09,305.13 459.24,305.20 459.39,305.32 459.55,305.49 459.70,305.73 459.85,306.02 460.00,306.36 460.15,306.77 460.31,307.25 460.46,307.78 460.61,308.39 460.76,309.06 460.91,309.81 461.06,310.64 461.22,311.54 461.37,312.54 461.52,313.63 461.67,314.83 461.82,316.14 461.97,317.57 462.12,319.13 462.28,320.85 462.43,322.74 462.58,324.83 462.73,327.14 462.88,329.72 463.03,332.62 463.19,335.91 463.34,339.69 463.49,344.11 463.64,349.41 463.79,355.97 463.95,364.52 464.10,376.76 464.25,383.50 464.40,383.50 464.55,383.50 464.70,374.50 464.86,362.64 465.01,354.15 465.16,347.54 465.31,342.13 465.46,337.56 465.61,333.60 465.76,330.12 465.92,327.02 466.07,324.22 466.22,321.69 466.37,319.37 466.52,317.24 466.68,315.28 466.83,313.46 466.98,311.77 467.13,310.19 467.28,308.72 467.43,307.35 467.59,306.06 467.74,304.85 467.89,303.71 468.04,302.64 468.19,301.64 468.34,300.70 468.50,299.81 468.65,298.98 468.80,298.20 468.95,297.46 469.10,296.78 469.25,296.13 469.40,295.53 469.56,294.97 469.71,294.45 469.86,293.96 470.01,293.51 470.16,293.10 470.31,292.72 470.47,292.38 470.62,292.06 470.77,291.78 470.92,291.53 471.07,291.31 471.23,291.12 471.38,290.96 471.53,290.82 471.68,290.72 471.83,290.65 471.98,290.60 472.13,290.58 472.29,290.59 472.44,290.63 472.59,290.69 472.74,290.78 472.89,290.90 473.05,291.05 473.20,291.23 473.35,291.43 473.50,291.67 473.65,291.93 473.80,292.22 473.96,292.54 474.11,292.89 474.26,293.27 474.41,293.68 474.56,294.13 474.71,294.61 474.87,295.12 475.02,295.67 475.17,296.25 475.32,296.88 475.47,297.54 475.62,298.24 475.77,298.98 475.93,299.77 476.08,300.61 476.23,301.49 476.38,302.43 476.53,303.43 476.69,304.48 476.84,305.60 476.99,306.78 477.14,308.04 477.29,309.39 477.44,310.82 477.60,312.34 477.75,313.98 477.90,315.73 478.05,317.62 478.20,319.67 478.35,321.89 478.50,324.31 478.66,326.98 478.81,329.93 478.96,333.24 479.11,336.99 479.26,341.30 479.42,346.38 479.57,352.54 479.72,360.34 479.87,370.99 480.02,383.50 480.17,383.50 480.32,383.50 480.48,380.50 480.63,366.59 480.78,357.16 480.93,350.01 481.08,344.26 481.24,339.45 481.39,335.33 481.54,331.71 481.69,328.51 481.84,325.63 481.99,323.01 482.14,320.62 482.30,318.43 482.45,316.39 482.60,314.50 482.75,312.74 482.90,311.09 483.05,309.55 483.21,308.09 483.36,306.71 483.51,305.41 483.66,304.18 483.81,303.01 483.97,301.90 484.12,300.84 484.27,299.83 484.42,298.87 484.57,297.96 484.72,297.08 484.88,296.24 485.03,295.44 485.18,294.67 485.33,293.94 485.48,293.24 485.63,292.56 485.78,291.91 485.94,291.29 486.09,290.70 486.24,290.13 486.39,289.58 486.54,289.05 486.70,288.55 486.85,288.06 487.00,287.60 487.15,287.16 487.30,286.73 487.45,286.32 487.61,285.93 487.76,285.55 487.91,285.19 488.06,284.84 488.21,284.52 488.36,284.20 488.51,283.90 488.67,283.61 488.82,283.34 488.97,283.07 489.12,282.83 489.27,282.59 489.43,282.36 489.58,282.15 489.73,281.95 489.88,281.76 490.03,281.58 490.18,281.41 490.34,281.25 490.49,281.10 490.64,280.96 490.79,280.83 490.94,280.71 491.09,280.59 491.25,280.49 491.40,280.40 491.55,280.31 491.70,280.24 491.85,280.17 492.00,280.11 492.15,280.05 492.31,280.01 492.46,279.97 492.61,279.94 492.76,279.92 492.91,279.90 493.06,279.90 493.22,279.90 493.37,279.90 493.52,279.92 493.67,279.94 493.82,279.96 493.98,279.99 494.13,280.03 494.28,280.08 494.43,280.13 494.58,280.19 494.73,280.25 494.88,280.32 495.04,280.40 495.19,280.48 495.34,280.56 495.49,280.66 495.64,280.75 495.80,280.86 495.95,280.97 496.10,281.08 496.25,281.20 496.40,281.32 496.55,281.45 496.70,281.59 496.86,281.73 497.01,281.87 497.16,282.02 497.31,282.17 497.46,282.33 497.62,282.50 497.77,282.67 497.92,282.84 498.07,283.02 498.22,283.20 498.37,283.39 498.52,283.58 498.68,283.77 498.83,283.97 498.98,284.18 499.13,284.38 499.28,284.60 499.44,284.81 499.59,285.04 499.74,285.26 499.89,285.49 500.04,285.73 500.19,285.96 500.35,286.21 500.50,286.45 500.65,286.70 500.80,286.96 500.95,287.21 501.10,287.48 501.25,287.74 501.41,288.01 501.56,288.29 501.71,288.56 501.86,288.85 502.01,289.13 502.17,289.42 502.32,289.72 502.47,290.01 502.62,290.32 502.77,290.62 502.92,290.93 503.07,291.24 503.23,291.56 503.38,291.88 503.53,292.21 503.68,292.54 503.83,292.87 503.99,293.21 504.14,293.55 504.29,293.89 504.44,294.24 504.59,294.60 504.74,294.95 504.89,295.31 505.05,295.68 505.20,296.05 505.35,296.42 505.50,296.80 505.65,297.19 505.80,297.57 505.96,297.97 506.11,298.36 506.26,298.76 506.41,299.17 506.56,299.58 506.72,299.99 506.87,300.41 507.02,300.84 507.17,301.27 507.32,301.70 507.47,302.14 507.62,302.59 507.78,303.04 507.93,303.50 508.08,303.96 508.23,304.43 508.38,304.90 508.53,305.38 508.69,305.87 508.84,306.36 508.99,306.86 509.14,307.36 509.29,307.88 509.45,308.40 509.60,308.92 509.75,309.46 509.90,310.00 510.05,310.55 510.20,311.11 510.36,311.68 510.51,312.25 510.66,312.84 510.81,313.43 510.96,314.03 511.11,314.65 511.26,315.27 511.42,315.91 511.57,316.56 511.72,317.21 511.87,317.89 512.02,318.57 512.17,319.27 512.33,319.98 512.48,320.71 512.63,321.45 512.78,322.20 512.93,322.98 513.09,323.77 513.24,324.58 513.39,325.42 513.54,326.27 513.69,327.14 513.84,328.04 514.00,328.96 514.15,329.91 514.30,330.89 514.45,331.90 514.60,332.94 514.75,334.02 514.90,335.13 515.06,336.28 515.21,337.47 515.36,338.72 515.51,340.01 515.66,341.36 515.82,342.77 515.97,344.24 516.12,345.79 516.27,347.42 516.42,349.14 516.57,350.97 516.73,352.91 516.88,354.98 517.03,357.20 517.18,359.60 517.33,362.20 517.48,365.05 517.63,368.20 517.79,371.72 517.94,375.71 518.09,380.31 518.24,383.50 518.39,383.50 518.55,383.50 518.70,383.50 518.85,383.50 519.00,383.50" fill="none" stroke="#111" stroke-width="1.6" stroke-dasharray="3.6 2.4"/>
<polyline clip-path="url(#dclip)" points="300.60,383.50 300.75,383.50 300.90,383.50 301.06,383.50 301.21,383.50 301.36,383.50 301.51,383.50 301.66,383.50 301.81,383.50 301.97,383.50 302.12,383.50 302.27,383.50 302.42,383.50 302.57,383.50 302.72,383.50 302.88,383.50 303.03,383.50 303.18,383.50 303.33,383.50 303.48,383.50 303.63,383.50 303.79,383.50 303.94,383.50 304.09,383.50 304.24,383.50 304.39,383.50 304.54,383.50 304.70,383.50 304.85,383.50 305.00,383.50 305.15,383.50 305.30,383.50 305.45,383.50 305.61,383.50 305.76,383.50 305.91,383.50 306.06,383.50 306.21,383.50 306.36,383.50 306.52,383.50 306.67,383.50 306.82,383.50 306.97,383.50 307.12,383.50 307.27,383.50 307.43,383.50 307.58,383.50 307.73,383.50 307.88,383.50 308.03,383.50 308.18,383.50 308.34,383.50 308.49,383.50 308.64,383.50 308.79,383.50 308.94,383.50 309.09,383.50 309.25,383.50 309.40,383.50 309.55,383.50 309.70,383.50 309.85,383.50 310.00,383.50 310.16,383.50 310.31,383.50 310.46,383.50 310.61,383.50 310.76,383.50 310.91,383.50 311.06,383.50 311.22,383.50 311.37,383.50 311.52,383.50 311.67,383.50 311.82,383.50 311.98,383.50 312.13,383.50 312.28,383.50 312.43,383.50 312.58,383.50 312.73,383.50 312.89,383.50 313.04,383.50 313.19,383.50 313.34,383.50 313.49,383.50 313.64,383.50 313.80,383.50 313.95,383.50 314.10,383.50 314.25,383.50 314.40,383.50 314.55,383.50 314.71,383.50 314.86,383.50 315.01,383.50 315.16,383.50 315.31,383.50 315.46,383.50 315.62,383.50 315.77,383.50 315.92,383.50 316.07,382.68 316.22,381.46 316.37,380.24 316.53,379.04 316.68,377.86 316.83,376.69 316.98,375.54 317.13,374.41 317.28,373.29 317.44,372.18 317.59,371.09 317.74,370.02 317.89,368.96 318.04,367.92 318.19,366.89 318.35,365.88 318.50,364.88 318.65,363.89 318.80,362.92 318.95,361.96 319.10,361.01 319.25,360.08 319.41,359.17 319.56,358.26 319.71,357.37 319.86,356.49 320.01,355.62 320.17,354.76 320.32,353.92 320.47,353.09 320.62,352.27 320.77,351.46 320.92,350.66 321.08,349.88 321.23,349.11 321.38,348.34 321.53,347.59 321.68,346.85 321.83,346.12 321.99,345.40 322.14,344.69 322.29,343.99 322.44,343.30 322.59,342.62 322.74,341.96 322.90,341.30 323.05,340.65 323.20,340.01 323.35,339.38 323.50,338.77 323.65,338.16 323.81,337.56 323.96,336.97 324.11,336.39 324.26,335.82 324.41,335.26 324.56,334.71 324.72,334.17 324.87,333.64 325.02,333.12 325.17,332.61 325.32,332.11 325.47,331.61 325.62,331.13 325.78,330.66 325.93,330.19 326.08,329.74 326.23,329.30 326.38,328.86 326.54,328.44 326.69,328.02 326.84,327.62 326.99,327.22 327.14,326.84 327.29,326.46 327.44,326.10 327.60,325.74 327.75,325.40 327.90,325.06 328.05,324.74 328.20,324.43 328.36,324.12 328.51,323.83 328.66,323.55 328.81,323.28 328.96,323.02 329.11,322.77 329.27,322.53 329.42,322.30 329.57,322.09 329.72,321.89 329.87,321.69 330.02,321.51 330.18,321.35 330.33,321.19 330.48,321.05 330.63,320.92 330.78,320.80 330.93,320.70 331.09,320.61 331.24,320.54 331.39,320.47 331.54,320.43 331.69,320.39 331.84,320.38 332.00,320.37 332.15,320.39 332.30,320.41 332.45,320.46 332.60,320.52 332.75,320.60 332.91,320.70 333.06,320.81 333.21,320.95 333.36,321.10 333.51,321.28 333.66,321.47 333.81,321.69 333.97,321.93 334.12,322.19 334.27,322.47 334.42,322.78 334.57,323.11 334.73,323.48 334.88,323.86 335.03,324.28 335.18,324.73 335.33,325.21 335.48,325.72 335.63,326.27 335.79,326.85 335.94,327.47 336.09,328.14 336.24,328.84 336.39,329.59 336.55,330.39 336.70,331.23 336.85,332.13 337.00,333.09 337.15,334.11 337.30,335.19 337.46,336.34 337.61,337.57 337.76,338.87 337.91,340.25 338.06,341.71 338.21,343.27 338.37,344.91 338.52,346.65 338.67,348.47 338.82,350.36 338.97,352.31 339.12,354.27 339.28,356.19 339.43,357.98 339.58,359.53 339.73,360.68 339.88,361.32 340.03,361.32 340.19,360.66 340.34,359.40 340.49,357.65 340.64,355.55 340.79,353.25 340.94,350.84 341.10,348.41 341.25,346.02 341.40,343.68 341.55,341.42 341.70,339.24 341.85,337.16 342.00,335.18 342.16,333.28 342.31,331.46 342.46,329.73 342.61,328.08 342.76,326.50 342.92,324.99 343.07,323.54 343.22,322.16 343.37,320.83 343.52,319.56 343.67,318.34 343.83,317.18 343.98,316.06 344.13,314.98 344.28,313.95 344.43,312.96 344.58,312.01 344.74,311.09 344.89,310.22 345.04,309.38 345.19,308.57 345.34,307.80 345.49,307.06 345.65,306.35 345.80,305.67 345.95,305.02 346.10,304.40 346.25,303.81 346.40,303.24 346.56,302.71 346.71,302.20 346.86,301.72 347.01,301.26 347.16,300.83 347.31,300.43 347.47,300.05 347.62,299.69 347.77,299.37 347.92,299.06 348.07,298.78 348.22,298.53 348.38,298.30 348.53,298.10 348.68,297.92 348.83,297.77 348.98,297.64 349.13,297.54 349.29,297.47 349.44,297.42 349.59,297.39 349.74,297.40 349.89,297.43 350.04,297.49 350.19,297.57 350.35,297.69 350.50,297.83 350.65,298.00 350.80,298.20 350.95,298.43 351.11,298.70 351.26,298.99 351.41,299.32 351.56,299.68 351.71,300.08 351.86,300.51 352.01,300.98 352.17,301.48 352.32,302.02 352.47,302.60 352.62,303.22 352.77,303.88 352.93,304.59 353.08,305.33 353.23,306.12 353.38,306.95 353.53,307.82 353.68,308.73 353.84,309.68 353.99,310.67 354.14,311.68 354.29,312.73 354.44,313.79 354.59,314.87 354.75,315.93 354.90,316.97 355.05,317.96 355.20,318.89 355.35,319.70 355.50,320.38 355.66,320.90 355.81,321.21 355.96,321.31 356.11,321.17 356.26,320.79 356.41,320.19 356.56,319.39 356.72,318.41 356.87,317.28 357.02,316.05 357.17,314.73 357.32,313.36 357.48,311.96 357.63,310.56 357.78,309.16 357.93,307.77 358.08,306.42 358.23,305.09 358.38,303.80 358.54,302.56 358.69,301.36 358.84,300.20 358.99,299.09 359.14,298.02 359.30,297.00 359.45,296.02 359.60,295.09 359.75,294.20 359.90,293.36 360.05,292.56 360.21,291.80 360.36,291.09 360.51,290.41 360.66,289.77 360.81,289.18 360.96,288.62 361.12,288.11 361.27,287.63 361.42,287.19 361.57,286.79 361.72,286.42 361.87,286.10 362.03,285.81 362.18,285.56 362.33,285.35 362.48,285.17 362.63,285.04 362.78,284.94 362.94,284.89 363.09,284.87 363.24,284.89 363.39,284.96 363.54,285.07 363.69,285.22 363.85,285.41 364.00,285.66 364.15,285.95 364.30,286.28 364.45,286.67 364.60,287.12 364.75,287.61 364.91,288.17 365.06,288.79 365.21,289.47 365.36,290.22 365.51,291.04 365.67,291.94 365.82,292.93 365.97,294.00 366.12,295.18 366.27,296.46 366.42,297.86 366.58,299.38 366.73,301.06 366.88,302.89 367.03,304.91 367.18,307.13 367.33,309.60 367.49,312.34 367.64,315.41 367.79,318.85 367.94,322.72 368.09,327.08 368.24,331.91 368.39,337.00 368.55,341.68 368.70,344.44 368.85,343.77 369.00,339.94 369.15,334.68 369.31,329.25 369.46,324.17 369.61,319.58 369.76,315.47 369.91,311.77 370.06,308.43 370.22,305.40 370.37,302.65 370.52,300.12 370.67,297.80 370.82,295.66 370.97,293.67 371.12,291.83 371.28,290.12 371.43,288.52 371.58,287.04 371.73,285.65 371.88,284.35 372.04,283.14 372.19,282.01 372.34,280.95 372.49,279.97 372.64,279.06 372.79,278.21 372.95,277.42 373.10,276.69 373.25,276.03 373.40,275.42 373.55,274.86 373.70,274.36 373.86,273.91 374.01,273.52 374.16,273.18 374.31,272.89 374.46,272.65 374.61,272.46 374.76,272.32 374.92,272.24 375.07,272.21 375.22,272.23 375.37,272.31 375.52,272.45 375.68,272.64 375.83,272.89 375.98,273.20 376.13,273.57 376.28,274.01 376.43,274.52 376.59,275.10 376.74,275.76 376.89,276.50 377.04,277.33 377.19,278.25 377.34,279.27 377.50,280.40 377.65,281.65 377.80,283.04 377.95,284.57 378.10,286.27 378.25,288.16 378.41,290.28 378.56,292.65 378.71,295.32 378.86,298.37 379.01,301.87 379.16,305.97 379.31,310.86 379.47,316.85 379.62,324.49 379.77,334.80 379.92,349.79 380.07,366.64 380.23,353.87 380.38,336.98 380.53,325.31 380.68,316.69 380.83,309.91 380.98,304.33 381.13,299.60 381.29,295.50 381.44,291.89 381.59,288.68 381.74,285.78 381.89,283.15 382.05,280.76 382.20,278.56 382.35,276.53 382.50,274.66 382.65,272.93 382.80,271.32 382.96,269.83 383.11,268.45 383.26,267.16 383.41,265.96 383.56,264.86 383.71,263.83 383.87,262.88 384.02,262.00 384.17,261.19 384.32,260.46 384.47,259.79 384.62,259.18 384.77,258.64 384.93,258.16 385.08,257.75 385.23,257.39 385.38,257.10 385.53,256.87 385.69,256.70 385.84,256.60 385.99,256.56 386.14,256.59 386.29,256.68 386.44,256.84 386.60,257.08 386.75,257.39 386.90,257.78 387.05,258.25 387.20,258.82 387.35,259.48 387.50,260.23 387.66,261.10 387.81,262.10 387.96,263.22 388.11,264.49 388.26,265.93 388.42,267.55 388.57,269.40 388.72,271.49 388.87,273.89 389.02,276.65 389.17,279.87 389.33,283.67 389.48,288.24 389.63,293.92 389.78,301.26 389.93,311.46 390.08,327.63 390.24,360.84 390.39,341.14 390.54,317.23 390.69,303.51 390.84,293.88 390.99,286.42 391.14,280.32 391.30,275.15 391.45,270.64 391.60,266.66 391.75,263.07 391.90,259.82 392.06,256.84 392.21,254.09 392.36,251.53 392.51,249.15 392.66,246.92 392.81,244.82 392.97,242.85 393.12,240.98 393.27,239.21 393.42,237.53 393.57,235.93 393.72,234.41 393.88,232.96 394.03,231.58 394.18,230.25 394.33,228.99 394.48,227.78 394.63,226.62 394.79,225.51 394.94,224.45 395.09,223.43 395.24,222.46 395.39,221.53 395.54,220.63 395.70,219.77 395.85,218.95 396.00,218.17 396.15,217.42 396.30,216.70 396.45,216.02 396.61,215.36 396.76,214.74 396.91,214.15 397.06,213.58 397.21,213.05 397.36,212.54 397.51,212.06 397.67,211.61 397.82,211.18 397.97,210.78 398.12,210.40 398.27,210.05 398.43,209.73 398.58,209.43 398.73,209.16 398.88,208.91 399.03,208.68 399.18,208.48 399.34,208.30 399.49,208.14 399.64,208.01 399.79,207.91 399.94,207.82 400.09,207.76 400.25,207.73 400.40,207.71 400.55,207.72 400.70,207.76 400.85,207.82 401.00,207.90 401.16,208.00 401.31,208.13 401.46,208.29 401.61,208.47 401.76,208.67 401.91,208.90 402.06,209.16 402.22,209.44 402.37,209.74 402.52,210.08 402.67,210.44 402.82,210.82 402.98,211.24 403.13,211.68 403.28,212.16 403.43,212.66 403.58,213.19 403.73,213.75 403.88,214.35 404.04,214.98 404.19,215.64 404.34,216.34 404.49,217.07 404.64,217.85 404.80,218.66 404.95,219.51 405.10,220.40 405.25,221.34 405.40,222.32 405.55,223.35 405.71,224.44 405.86,225.57 406.01,226.76 406.16,228.02 406.31,229.34 406.46,230.72 406.62,232.18 406.77,233.72 406.92,235.35 407.07,237.07 407.22,238.90 407.37,240.84 407.52,242.90 407.68,245.11 407.83,247.48 407.98,250.03 408.13,252.79 408.28,255.80 408.44,259.10 408.59,262.76 408.74,266.85 408.89,271.50 409.04,276.86 409.19,283.19 409.35,290.87 409.50,300.41 409.65,311.91 409.80,320.48 409.95,315.26 410.10,304.42 410.25,295.20 410.41,287.95 410.56,282.15 410.71,277.40 410.86,273.42 411.01,270.03 411.17,267.10 411.32,264.55 411.47,262.30 411.62,260.32 411.77,258.56 411.92,256.99 412.07,255.60 412.23,254.36 412.38,253.25 412.53,252.27 412.68,251.40 412.83,250.64 412.99,249.98 413.14,249.41 413.29,248.92 413.44,248.52 413.59,248.19 413.74,247.94 413.89,247.76 414.05,247.65 414.20,247.61 414.35,247.63 414.50,247.72 414.65,247.88 414.81,248.10 414.96,248.38 415.11,248.73 415.26,249.14 415.41,249.61 415.56,250.15 415.72,250.76 415.87,251.44 416.02,252.19 416.17,253.01 416.32,253.91 416.47,254.88 416.62,255.95 416.78,257.09 416.93,258.34 417.08,259.68 417.23,261.13 417.38,262.69 417.54,264.38 417.69,266.21 417.84,268.19 417.99,270.34 418.14,272.68 418.29,275.23 418.45,278.03 418.60,281.10 418.75,284.49 418.90,288.24 419.05,292.39 419.20,296.96 419.36,301.87 419.51,306.83 419.66,311.07 419.81,313.29 419.96,312.50 420.11,309.21 420.26,304.77 420.42,300.18 420.57,295.86 420.72,291.94 420.87,288.44 421.02,285.31 421.18,282.52 421.33,280.02 421.48,277.77 421.63,275.74 421.78,273.92 421.93,272.26 422.09,270.77 422.24,269.42 422.39,268.20 422.54,267.09 422.69,266.10 422.84,265.21 423.00,264.41 423.15,263.71 423.30,263.09 423.45,262.55 423.60,262.08 423.75,261.69 423.91,261.37 424.06,261.12 424.21,260.94 424.36,260.82 424.51,260.77 424.66,260.78 424.81,260.85 424.97,260.98 425.12,261.18 425.27,261.44 425.42,261.76 425.57,262.14 425.73,262.59 425.88,263.10 426.03,263.68 426.18,264.33 426.33,265.05 426.48,265.84 426.63,266.71 426.79,267.66 426.94,268.69 427.09,269.80 427.24,271.02 427.39,272.33 427.55,273.75 427.70,275.28 427.85,276.94 428.00,278.74 428.15,280.68 428.30,282.79 428.46,285.09 428.61,287.58 428.76,290.31 428.91,293.28 429.06,296.53 429.21,300.06 429.37,303.87 429.52,307.87 429.67,311.87 429.82,315.43 429.97,317.83 430.12,318.37 430.27,316.89 430.43,313.95 430.58,310.30 430.73,306.51 430.88,302.86 431.03,299.47 431.19,296.35 431.34,293.52 431.49,290.95 431.64,288.61 431.79,286.48 431.94,284.54 432.10,282.78 432.25,281.16 432.40,279.69 432.55,278.34 432.70,277.11 432.85,275.99 433.00,274.97 433.16,274.05 433.31,273.21 433.46,272.45 433.61,271.77 433.76,271.16 433.92,270.63 434.07,270.16 434.22,269.76 434.37,269.42 434.52,269.14 434.67,268.92 434.82,268.75 434.98,268.65 435.13,268.59 435.28,268.60 435.43,268.65 435.58,268.76 435.74,268.93 435.89,269.14 436.04,269.41 436.19,269.73 436.34,270.11 436.49,270.53 436.64,271.02 436.80,271.55 436.95,272.14 437.10,272.79 437.25,273.50 437.40,274.27 437.56,275.09 437.71,275.98 437.86,276.93 438.01,277.95 438.16,279.03 438.31,280.18 438.47,281.40 438.62,282.69 438.77,284.04 438.92,285.47 439.07,286.96 439.22,288.52 439.38,290.13 439.53,291.78 439.68,293.47 439.83,295.15 439.98,296.80 440.13,298.38 440.28,299.83 440.44,301.09 440.59,302.09 440.74,302.78 440.89,303.11 441.04,303.07 441.20,302.66 441.35,301.93 441.50,300.94 441.65,299.75 441.80,298.43 441.95,297.03 442.11,295.59 442.26,294.15 442.41,292.73 442.56,291.35 442.71,290.03 442.86,288.77 443.01,287.57 443.17,286.44 443.32,285.38 443.47,284.38 443.62,283.46 443.77,282.60 443.93,281.80 444.08,281.07 444.23,280.40 444.38,279.79 444.53,279.23 444.68,278.74 444.84,278.29 444.99,277.91 445.14,277.57 445.29,277.29 445.44,277.05 445.59,276.87 445.75,276.74 445.90,276.65 446.05,276.62 446.20,276.63 446.35,276.69 446.50,276.79 446.65,276.95 446.81,277.15 446.96,277.40 447.11,277.70 447.26,278.05 447.41,278.45 447.56,278.90 447.72,279.40 447.87,279.96 448.02,280.57 448.17,281.24 448.32,281.97 448.48,282.76 448.63,283.61 448.78,284.53 448.93,285.53 449.08,286.60 449.23,287.74 449.38,288.98 449.54,290.30 449.69,291.73 449.84,293.26 449.99,294.91 450.14,296.69 450.30,298.61 450.45,300.70 450.60,302.96 450.75,305.43 450.90,308.13 451.05,311.11 451.21,314.39 451.36,318.05 451.51,322.12 451.66,326.66 451.81,331.66 451.96,336.95 452.12,341.94 452.27,345.29 452.42,345.41 452.57,342.30 452.72,337.52 452.87,332.42 453.02,327.62 453.18,323.27 453.33,319.39 453.48,315.93 453.63,312.83 453.78,310.05 453.94,307.53 454.09,305.25 454.24,303.18 454.39,301.28 454.54,299.54 454.69,297.95 454.85,296.48 455.00,295.13 455.15,293.88 455.30,292.73 455.45,291.67 455.60,290.69 455.75,289.79 455.91,288.97 456.06,288.21 456.21,287.51 456.36,286.87 456.51,286.30 456.67,285.78 456.82,285.31 456.97,284.89 457.12,284.52 457.27,284.20 457.42,283.92 457.57,283.69 457.73,283.50 457.88,283.36 458.03,283.26 458.18,283.20 458.33,283.18 458.49,283.20 458.64,283.26 458.79,283.36 458.94,283.50 459.09,283.68 459.24,283.89 459.39,284.15 459.55,284.45 459.70,284.79 459.85,285.17 460.00,285.60 460.15,286.06 460.31,286.57 460.46,287.13 460.61,287.73 460.76,288.38 460.91,289.07 461.06,289.82 461.22,290.62 461.37,291.48 461.52,292.40 461.67,293.37 461.82,294.42 461.97,295.53 462.12,296.71 462.28,297.98 462.43,299.33 462.58,300.77 462.73,302.32 462.88,303.98 463.03,305.76 463.19,307.68 463.34,309.76 463.49,312.01 463.64,314.48 463.79,317.18 463.95,320.17 464.10,323.51 464.25,327.28 464.40,331.59 464.55,336.62 464.70,342.63 464.86,350.06 465.01,359.65 465.16,372.50 465.31,383.50 465.46,381.77 465.61,367.31 465.76,356.06 465.92,347.62 466.07,341.01 466.22,335.61 466.37,331.07 466.52,327.17 466.68,323.77 466.83,320.76 466.98,318.07 467.13,315.64 467.28,313.44 467.43,311.43 467.59,309.59 467.74,307.90 467.89,306.34 468.04,304.89 468.19,303.55 468.34,302.31 468.50,301.15 468.65,300.07 468.80,299.07 468.95,298.13 469.10,297.26 469.25,296.45 469.40,295.69 469.56,294.99 469.71,294.34 469.86,293.73 470.01,293.17 470.16,292.66 470.31,292.18 470.47,291.75 470.62,291.35 470.77,290.99 470.92,290.66 471.07,290.37 471.23,290.11 471.38,289.89 471.53,289.69 471.68,289.53 471.83,289.40 471.98,289.29 472.13,289.22 472.29,289.18 472.44,289.16 472.59,289.17 472.74,289.21 472.89,289.28 473.05,289.37 473.20,289.50 473.35,289.64 473.50,289.82 473.65,290.03 473.80,290.26 473.96,290.52 474.11,290.80 474.26,291.12 474.41,291.46 474.56,291.83 474.71,292.23 474.87,292.66 475.02,293.13 475.17,293.62 475.32,294.14 475.47,294.70 475.62,295.29 475.77,295.92 475.93,296.58 476.08,297.28 476.23,298.01 476.38,298.79 476.53,299.61 476.69,300.47 476.84,301.38 476.99,302.34 477.14,303.36 477.29,304.42 477.44,305.55 477.60,306.74 477.75,308.00 477.90,309.34 478.05,310.75 478.20,312.25 478.35,313.85 478.50,315.56 478.66,317.39 478.81,319.35 478.96,321.47 479.11,323.77 479.26,326.27 479.42,329.01 479.57,332.04 479.72,335.43 479.87,339.25 480.02,343.65 480.17,348.81 480.32,355.03 480.48,362.87 480.63,373.37 480.78,383.50 480.93,383.50 481.08,383.50 481.24,379.97 481.39,367.61 481.54,358.79 481.69,351.98 481.84,346.46 481.99,341.81 482.14,337.82 482.30,334.32 482.45,331.21 482.60,328.42 482.75,325.89 482.90,323.58 483.05,321.45 483.21,319.49 483.36,317.67 483.51,315.97 483.66,314.38 483.81,312.90 483.97,311.50 484.12,310.18 484.27,308.94 484.42,307.76 484.57,306.65 484.72,305.59 484.88,304.59 485.03,303.63 485.18,302.73 485.33,301.86 485.48,301.04 485.63,300.25 485.78,299.50 485.94,298.78 486.09,298.09 486.24,297.44 486.39,296.81 486.54,296.21 486.70,295.64 486.85,295.09 487.00,294.57 487.15,294.07 487.30,293.59 487.45,293.13 487.61,292.69 487.76,292.27 487.91,291.87 488.06,291.48 488.21,291.12 488.36,290.77 488.51,290.44 488.67,290.12 488.82,289.82 488.97,289.53 489.12,289.25 489.27,288.99 489.43,288.75 489.58,288.51 489.73,288.29 489.88,288.08 490.03,287.89 490.18,287.70 490.34,287.53 490.49,287.36 490.64,287.21 490.79,287.07 490.94,286.94 491.09,286.82 491.25,286.70 491.40,286.60 491.55,286.51 491.70,286.42 491.85,286.35 492.00,286.28 492.15,286.22 492.31,286.17 492.46,286.13 492.61,286.10 492.76,286.07 492.91,286.06 493.06,286.05 493.22,286.04 493.37,286.05 493.52,286.06 493.67,286.08 493.82,286.10 493.98,286.14 494.13,286.17 494.28,286.22 494.43,286.27 494.58,286.33 494.73,286.40 494.88,286.47 495.04,286.54 495.19,286.63 495.34,286.72 495.49,286.81 495.64,286.91 495.80,287.02 495.95,287.13 496.10,287.24 496.25,287.37 496.40,287.49 496.55,287.63 496.70,287.77 496.86,287.91 497.01,288.06 497.16,288.21 497.31,288.37 497.46,288.53 497.62,288.70 497.77,288.87 497.92,289.05 498.07,289.23 498.22,289.42 498.37,289.61 498.52,289.81 498.68,290.01 498.83,290.21 498.98,290.42 499.13,290.64 499.28,290.85 499.44,291.08 499.59,291.30 499.74,291.53 499.89,291.77 500.04,292.01 500.19,292.25 500.35,292.50 500.50,292.75 500.65,293.01 500.80,293.27 500.95,293.53 501.10,293.80 501.25,294.07 501.41,294.35 501.56,294.62 501.71,294.91 501.86,295.20 502.01,295.49 502.17,295.78 502.32,296.08 502.47,296.39 502.62,296.69 502.77,297.00 502.92,297.32 503.07,297.64 503.23,297.96 503.38,298.29 503.53,298.62 503.68,298.95 503.83,299.29 503.99,299.63 504.14,299.98 504.29,300.33 504.44,300.68 504.59,301.04 504.74,301.41 504.89,301.77 505.05,302.14 505.20,302.52 505.35,302.90 505.50,303.28 505.65,303.67 505.80,304.06 505.96,304.46 506.11,304.86 506.26,305.27 506.41,305.68 506.56,306.09 506.72,306.51 506.87,306.94 507.02,307.37 507.17,307.80 507.32,308.24 507.47,308.69 507.62,309.14 507.78,309.59 507.93,310.05 508.08,310.52 508.23,310.99 508.38,311.47 508.53,311.96 508.69,312.45 508.84,312.94 508.99,313.45 509.14,313.96 509.29,314.47 509.45,315.00 509.60,315.53 509.75,316.06 509.90,316.61 510.05,317.16 510.20,317.73 510.36,318.30 510.51,318.88 510.66,319.47 510.81,320.06 510.96,320.67 511.11,321.29 511.26,321.92 511.42,322.55 511.57,323.20 511.72,323.87 511.87,324.54 512.02,325.23 512.17,325.93 512.33,326.64 512.48,327.37 512.63,328.12 512.78,328.88 512.93,329.66 513.09,330.45 513.24,331.26 513.39,332.10 513.54,332.95 513.69,333.83 513.84,334.73 514.00,335.66 514.15,336.61 514.30,337.59 514.45,338.60 514.60,339.64 514.75,340.72 514.90,341.83 515.06,342.99 515.21,344.18 515.36,345.43 515.51,346.72 515.66,348.07 515.82,349.48 515.97,350.96 516.12,352.51 516.27,354.14 516.42,355.86 516.57,357.69 516.73,359.63 516.88,361.70 517.03,363.92 517.18,366.32 517.33,368.93 517.48,371.78 517.63,374.93 517.79,378.45 517.94,382.43 518.09,383.50 518.24,383.50 518.39,383.50 518.55,383.50 518.70,383.50 518.85,383.50 519.00,383.50" fill="none" stroke="#1f9a3f" stroke-width="1.9" />
<polyline clip-path="url(#dclip)" points="300.60,383.50 300.75,383.50 300.90,383.50 301.06,383.50 301.21,383.50 301.36,383.50 301.51,383.50 301.66,383.50 301.81,383.50 301.97,383.50 302.12,383.50 302.27,383.50 302.42,383.50 302.57,383.50 302.72,383.50 302.88,383.50 303.03,383.50 303.18,383.50 303.33,383.50 303.48,383.50 303.63,383.50 303.79,383.50 303.94,383.50 304.09,383.50 304.24,383.50 304.39,383.50 304.54,383.50 304.70,383.50 304.85,383.50 305.00,383.50 305.15,383.50 305.30,383.50 305.45,383.50 305.61,383.50 305.76,383.50 305.91,383.50 306.06,383.50 306.21,383.50 306.36,383.03 306.52,382.53 306.67,382.06 306.82,381.61 306.97,381.19 307.12,380.79 307.27,380.42 307.43,380.07 307.58,379.74 307.73,379.44 307.88,379.15 308.03,378.89 308.18,378.65 308.34,378.42 308.49,378.22 308.64,378.03 308.79,377.85 308.94,377.70 309.09,377.55 309.25,377.42 309.40,377.31 309.55,377.20 309.70,377.11 309.85,377.02 310.00,376.94 310.16,376.86 310.31,376.79 310.46,376.72 310.61,376.65 310.76,376.57 310.91,376.49 311.06,376.40 311.22,376.30 311.37,376.19 311.52,376.06 311.67,375.90 311.82,375.72 311.98,375.52 312.13,375.29 312.28,375.02 312.43,374.71 312.58,374.37 312.73,373.99 312.89,373.56 313.04,373.09 313.19,372.57 313.34,372.01 313.49,371.41 313.64,370.76 313.80,370.06 313.95,369.33 314.10,368.55 314.25,367.74 314.40,366.90 314.55,366.02 314.71,365.12 314.86,364.19 315.01,363.24 315.16,362.26 315.31,361.28 315.46,360.27 315.62,359.26 315.77,358.24 315.92,357.21 316.07,356.18 316.22,355.15 316.37,354.11 316.53,353.08 316.68,352.04 316.83,351.02 316.98,349.99 317.13,348.97 317.28,347.96 317.44,346.96 317.59,345.96 317.74,344.97 317.89,344.00 318.04,343.03 318.19,342.07 318.35,341.12 318.50,340.18 318.65,339.25 318.80,338.33 318.95,337.42 319.10,336.53 319.25,335.64 319.41,334.76 319.56,333.90 319.71,333.05 319.86,332.20 320.01,331.37 320.17,330.55 320.32,329.74 320.47,328.94 320.62,328.16 320.77,327.38 320.92,326.61 321.08,325.86 321.23,325.11 321.38,324.38 321.53,323.65 321.68,322.94 321.83,322.23 321.99,321.54 322.14,320.85 322.29,320.18 322.44,319.51 322.59,318.86 322.74,318.22 322.90,317.58 323.05,316.96 323.20,316.34 323.35,315.73 323.50,315.14 323.65,314.55 323.81,313.97 323.96,313.40 324.11,312.85 324.26,312.30 324.41,311.76 324.56,311.23 324.72,310.70 324.87,310.19 325.02,309.69 325.17,309.19 325.32,308.71 325.47,308.23 325.62,307.77 325.78,307.31 325.93,306.86 326.08,306.42 326.23,305.99 326.38,305.57 326.54,305.16 326.69,304.75 326.84,304.36 326.99,303.98 327.14,303.60 327.29,303.24 327.44,302.88 327.60,302.53 327.75,302.19 327.90,301.86 328.05,301.55 328.20,301.24 328.36,300.94 328.51,300.65 328.66,300.36 328.81,300.09 328.96,299.83 329.11,299.58 329.27,299.34 329.42,299.11 329.57,298.89 329.72,298.68 329.87,298.48 330.02,298.29 330.18,298.11 330.33,297.94 330.48,297.78 330.63,297.63 330.78,297.50 330.93,297.38 331.09,297.26 331.24,297.16 331.39,297.07 331.54,296.99 331.69,296.93 331.84,296.88 332.00,296.84 332.15,296.81 332.30,296.80 332.45,296.79 332.60,296.81 332.75,296.83 332.91,296.87 333.06,296.93 333.21,297.00 333.36,297.08 333.51,297.19 333.66,297.30 333.81,297.44 333.97,297.58 334.12,297.75 334.27,297.94 334.42,298.14 334.57,298.36 334.73,298.60 334.88,298.86 335.03,299.15 335.18,299.45 335.33,299.77 335.48,300.12 335.63,300.50 335.79,300.89 335.94,301.32 336.09,301.77 336.24,302.25 336.39,302.75 336.55,303.29 336.70,303.86 336.85,304.47 337.00,305.11 337.15,305.79 337.30,306.51 337.46,307.27 337.61,308.08 337.76,308.94 337.91,309.84 338.06,310.81 338.21,311.83 338.37,312.91 338.52,314.07 338.67,315.30 338.82,316.62 338.97,318.02 339.12,319.52 339.28,321.14 339.43,322.87 339.58,324.75 339.73,326.77 339.88,328.98 340.03,331.37 340.19,333.99 340.34,336.87 340.49,340.03 340.64,343.52 340.79,347.33 340.94,351.43 341.10,355.67 341.25,359.63 341.40,362.47 341.55,363.21 341.70,361.46 341.85,357.89 342.00,353.51 342.16,349.01 342.31,344.71 342.46,340.73 342.61,337.08 342.76,333.74 342.92,330.68 343.07,327.86 343.22,325.26 343.37,322.85 343.52,320.61 343.67,318.52 343.83,316.56 343.98,314.73 344.13,313.00 344.28,311.37 344.43,309.83 344.58,308.38 344.74,307.00 344.89,305.69 345.04,304.45 345.19,303.27 345.34,302.15 345.49,301.08 345.65,300.06 345.80,299.09 345.95,298.16 346.10,297.28 346.25,296.45 346.40,295.65 346.56,294.89 346.71,294.17 346.86,293.48 347.01,292.83 347.16,292.21 347.31,291.62 347.47,291.07 347.62,290.54 347.77,290.05 347.92,289.59 348.07,289.15 348.22,288.75 348.38,288.37 348.53,288.02 348.68,287.70 348.83,287.40 348.98,287.14 349.13,286.90 349.29,286.68 349.44,286.50 349.59,286.34 349.74,286.21 349.89,286.10 350.04,286.02 350.19,285.97 350.35,285.95 350.50,285.95 350.65,285.98 350.80,286.05 350.95,286.13 351.11,286.25 351.26,286.40 351.41,286.58 351.56,286.79 351.71,287.03 351.86,287.30 352.01,287.61 352.17,287.95 352.32,288.33 352.47,288.74 352.62,289.19 352.77,289.68 352.93,290.21 353.08,290.78 353.23,291.39 353.38,292.06 353.53,292.76 353.68,293.52 353.84,294.33 353.99,295.20 354.14,296.13 354.29,297.12 354.44,298.17 354.59,299.30 354.75,300.50 354.90,301.78 355.05,303.14 355.20,304.60 355.35,306.15 355.50,307.81 355.66,309.58 355.81,311.46 355.96,313.47 356.11,315.59 356.26,317.84 356.41,320.19 356.56,322.62 356.72,325.06 356.87,327.44 357.02,329.60 357.17,331.36 357.32,332.51 357.48,332.86 357.63,332.36 357.78,331.08 357.93,329.20 358.08,326.94 358.23,324.47 358.38,321.95 358.54,319.46 358.69,317.04 358.84,314.74 358.99,312.55 359.14,310.49 359.30,308.56 359.45,306.74 359.60,305.03 359.75,303.44 359.90,301.94 360.05,300.54 360.21,299.23 360.36,298.01 360.51,296.86 360.66,295.79 360.81,294.80 360.96,293.87 361.12,293.00 361.27,292.20 361.42,291.46 361.57,290.78 361.72,290.16 361.87,289.59 362.03,289.08 362.18,288.62 362.33,288.21 362.48,287.85 362.63,287.54 362.78,287.29 362.94,287.08 363.09,286.93 363.24,286.82 363.39,286.77 363.54,286.76 363.69,286.81 363.85,286.91 364.00,287.06 364.15,287.27 364.30,287.54 364.45,287.86 364.60,288.25 364.75,288.69 364.91,289.21 365.06,289.79 365.21,290.44 365.36,291.17 365.51,291.99 365.67,292.89 365.82,293.88 365.97,294.98 366.12,296.19 366.27,297.52 366.42,298.99 366.58,300.61 366.73,302.40 366.88,304.39 367.03,306.61 367.18,309.10 367.33,311.91 367.49,315.12 367.64,318.83 367.79,323.18 367.94,328.42 368.09,334.94 368.24,343.50 368.39,355.83 368.55,377.62 368.70,383.50 368.85,371.23 369.00,352.00 369.15,340.29 369.31,331.84 369.46,325.23 369.61,319.80 369.76,315.19 369.91,311.20 370.06,307.69 370.22,304.55 370.37,301.72 370.52,299.16 370.67,296.82 370.82,294.67 370.97,292.69 371.12,290.86 371.28,289.17 371.43,287.60 371.58,286.13 371.73,284.78 371.88,283.51 372.04,282.34 372.19,281.24 372.34,280.23 372.49,279.29 372.64,278.42 372.79,277.62 372.95,276.88 373.10,276.21 373.25,275.59 373.40,275.04 373.55,274.55 373.70,274.11 373.86,273.73 374.01,273.40 374.16,273.13 374.31,272.92 374.46,272.76 374.61,272.66 374.76,272.62 374.92,272.63 375.07,272.70 375.22,272.84 375.37,273.03 375.52,273.29 375.68,273.61 375.83,274.00 375.98,274.47 376.13,275.00 376.28,275.62 376.43,276.32 376.59,277.12 376.74,278.00 376.89,279.00 377.04,280.10 377.19,281.33 377.34,282.70 377.50,284.22 377.65,285.91 377.80,287.80 377.95,289.91 378.10,292.29 378.25,294.99 378.41,298.06 378.56,301.61 378.71,305.75 378.86,310.68 379.01,316.68 379.16,324.15 379.31,333.58 379.47,344.25 379.62,348.19 379.77,339.25 379.92,328.19 380.07,319.05 380.23,311.68 380.38,305.60 380.53,300.46 380.68,296.02 380.83,292.12 380.98,288.65 381.13,285.53 381.29,282.70 381.44,280.13 381.59,277.76 381.74,275.58 381.89,273.56 382.05,271.69 382.20,269.95 382.35,268.33 382.50,266.82 382.65,265.42 382.80,264.10 382.96,262.87 383.11,261.73 383.26,260.66 383.41,259.67 383.56,258.75 383.71,257.89 383.87,257.10 384.02,256.37 384.17,255.71 384.32,255.10 384.47,254.56 384.62,254.07 384.77,253.64 384.93,253.27 385.08,252.95 385.23,252.69 385.38,252.49 385.53,252.34 385.69,252.26 385.84,252.23 385.99,252.26 386.14,252.36 386.29,252.52 386.44,252.75 386.60,253.05 386.75,253.42 386.90,253.87 387.05,254.39 387.20,255.01 387.35,255.72 387.50,256.52 387.66,257.43 387.81,258.46 387.96,259.62 388.11,260.93 388.26,262.39 388.42,264.04 388.57,265.89 388.72,267.99 388.87,270.38 389.02,273.12 389.17,276.28 389.33,279.98 389.48,284.39 389.63,289.76 389.78,296.48 389.93,305.24 390.08,316.90 390.24,329.15 390.39,325.24 390.54,311.25 390.69,299.70 390.84,290.79 390.99,283.65 391.14,277.72 391.30,272.65 391.45,268.23 391.60,264.30 391.75,260.76 391.90,257.55 392.06,254.61 392.21,251.89 392.36,249.37 392.51,247.02 392.66,244.82 392.81,242.76 392.97,240.81 393.12,238.97 393.27,237.23 393.42,235.58 393.57,234.01 393.72,232.52 393.88,231.10 394.03,229.74 394.18,228.45 394.33,227.21 394.48,226.03 394.63,224.90 394.79,223.82 394.94,222.79 395.09,221.80 395.24,220.85 395.39,219.94 395.54,219.07 395.70,218.25 395.85,217.45 396.00,216.69 396.15,215.97 396.30,215.28 396.45,214.62 396.61,213.99 396.76,213.39 396.91,212.83 397.06,212.29 397.21,211.78 397.36,211.30 397.51,210.84 397.67,210.41 397.82,210.01 397.97,209.63 398.12,209.28 398.27,208.96 398.43,208.66 398.58,208.38 398.73,208.13 398.88,207.91 399.03,207.70 399.18,207.53 399.34,207.37 399.49,207.24 399.64,207.13 399.79,207.05 399.94,206.99 400.09,206.95 400.25,206.93 400.40,206.94 400.55,206.97 400.70,207.03 400.85,207.11 401.00,207.21 401.16,207.34 401.31,207.49 401.46,207.66 401.61,207.86 401.76,208.08 401.91,208.33 402.06,208.60 402.22,208.90 402.37,209.23 402.52,209.57 402.67,209.95 402.82,210.35 402.98,210.78 403.13,211.24 403.28,211.72 403.43,212.24 403.58,212.78 403.73,213.36 403.88,213.96 404.04,214.60 404.19,215.27 404.34,215.97 404.49,216.71 404.64,217.48 404.80,218.29 404.95,219.14 405.10,220.02 405.25,220.95 405.40,221.93 405.55,222.94 405.71,224.01 405.86,225.12 406.01,226.29 406.16,227.51 406.31,228.80 406.46,230.14 406.62,231.55 406.77,233.03 406.92,234.59 407.07,236.23 407.22,237.96 407.37,239.79 407.52,241.72 407.68,243.78 407.83,245.96 407.98,248.30 408.13,250.80 408.28,253.49 408.44,256.41 408.59,259.58 408.74,263.07 408.89,266.92 409.04,271.23 409.19,276.12 409.35,281.75 409.50,288.33 409.65,296.13 409.80,305.17 409.95,313.80 410.10,316.03 410.25,309.80 410.41,301.51 410.56,294.21 410.71,288.21 410.86,283.25 411.01,279.11 411.17,275.60 411.32,272.59 411.47,269.98 411.62,267.70 411.77,265.71 411.92,263.96 412.07,262.41 412.23,261.05 412.38,259.86 412.53,258.81 412.68,257.89 412.83,257.10 412.99,256.42 413.14,255.84 413.29,255.37 413.44,254.98 413.59,254.69 413.74,254.48 413.89,254.36 414.05,254.31 414.20,254.34 414.35,254.45 414.50,254.64 414.65,254.89 414.81,255.23 414.96,255.64 415.11,256.12 415.26,256.69 415.41,257.33 415.56,258.05 415.72,258.85 415.87,259.75 416.02,260.73 416.17,261.81 416.32,262.99 416.47,264.27 416.62,265.68 416.78,267.20 416.93,268.86 417.08,270.68 417.23,272.65 417.38,274.81 417.54,277.18 417.69,279.79 417.84,282.67 417.99,285.87 418.14,289.44 418.29,293.46 418.45,297.99 418.60,303.09 418.75,308.72 418.90,314.54 419.05,319.37 419.20,321.11 419.36,318.68 419.51,313.70 419.66,308.13 419.81,302.88 419.96,298.18 420.11,294.05 420.26,290.41 420.42,287.19 420.57,284.33 420.72,281.78 420.87,279.49 421.02,277.43 421.18,275.57 421.33,273.88 421.48,272.35 421.63,270.96 421.78,269.71 421.93,268.57 422.09,267.54 422.24,266.61 422.39,265.78 422.54,265.03 422.69,264.37 422.84,263.78 423.00,263.27 423.15,262.84 423.30,262.47 423.45,262.17 423.60,261.94 423.75,261.77 423.91,261.66 424.06,261.61 424.21,261.62 424.36,261.70 424.51,261.83 424.66,262.02 424.81,262.27 424.97,262.58 425.12,262.95 425.27,263.38 425.42,263.87 425.57,264.42 425.73,265.04 425.88,265.73 426.03,266.48 426.18,267.31 426.33,268.21 426.48,269.19 426.63,270.26 426.79,271.41 426.94,272.65 427.09,274.00 427.24,275.45 427.39,277.02 427.55,278.72 427.70,280.57 427.85,282.57 428.00,284.76 428.15,287.15 428.30,289.78 428.46,292.69 428.61,295.94 428.76,299.59 428.91,303.76 429.06,308.59 429.21,314.30 429.37,321.25 429.52,330.02 429.67,341.45 429.82,354.81 429.97,356.63 430.12,344.07 430.27,332.55 430.43,323.80 430.58,316.99 430.73,311.50 430.88,306.93 431.03,303.06 431.19,299.71 431.34,296.79 431.49,294.22 431.64,291.93 431.79,289.89 431.94,288.06 432.10,286.42 432.25,284.93 432.40,283.60 432.55,282.39 432.70,281.31 432.85,280.34 433.00,279.47 433.16,278.69 433.31,278.01 433.46,277.41 433.61,276.89 433.76,276.44 433.92,276.07 434.07,275.77 434.22,275.54 434.37,275.38 434.52,275.28 434.67,275.24 434.82,275.27 434.98,275.36 435.13,275.52 435.28,275.73 435.43,276.01 435.58,276.35 435.74,276.75 435.89,277.22 436.04,277.76 436.19,278.36 436.34,279.04 436.49,279.78 436.64,280.60 436.80,281.50 436.95,282.48 437.10,283.55 437.25,284.72 437.40,285.98 437.56,287.35 437.71,288.84 437.86,290.46 438.01,292.21 438.16,294.13 438.31,296.22 438.47,298.51 438.62,301.04 438.77,303.83 438.92,306.95 439.07,310.46 439.22,314.45 439.38,319.06 439.53,324.48 439.68,330.98 439.83,338.94 439.98,348.70 440.13,358.73 440.28,360.63 440.44,351.87 440.59,341.92 440.74,333.69 440.89,327.05 441.04,321.58 441.20,316.98 441.35,313.05 441.50,309.63 441.65,306.62 441.80,303.94 441.95,301.55 442.11,299.40 442.26,297.46 442.41,295.70 442.56,294.09 442.71,292.63 442.86,291.30 443.01,290.08 443.17,288.98 443.32,287.97 443.47,287.05 443.62,286.21 443.77,285.46 443.93,284.78 444.08,284.17 444.23,283.63 444.38,283.15 444.53,282.74 444.68,282.38 444.84,282.08 444.99,281.84 445.14,281.65 445.29,281.52 445.44,281.44 445.59,281.41 445.75,281.43 445.90,281.50 446.05,281.62 446.20,281.79 446.35,282.02 446.50,282.29 446.65,282.61 446.81,282.98 446.96,283.40 447.11,283.88 447.26,284.41 447.41,284.99 447.56,285.63 447.72,286.33 447.87,287.09 448.02,287.90 448.17,288.79 448.32,289.74 448.48,290.76 448.63,291.86 448.78,293.03 448.93,294.29 449.08,295.64 449.23,297.09 449.38,298.64 449.54,300.31 449.69,302.09 449.84,304.02 449.99,306.09 450.14,308.32 450.30,310.73 450.45,313.35 450.60,316.18 450.75,319.25 450.90,322.57 451.05,326.12 451.21,329.86 451.36,333.64 451.51,337.16 451.66,339.90 451.81,341.22 451.96,340.76 452.12,338.71 452.27,335.66 452.42,332.20 452.57,328.69 452.72,325.33 452.87,322.20 453.02,319.32 453.18,316.67 453.33,314.25 453.48,312.04 453.63,310.01 453.78,308.15 453.94,306.44 454.09,304.86 454.24,303.42 454.39,302.08 454.54,300.85 454.69,299.72 454.85,298.68 455.00,297.72 455.15,296.84 455.30,296.03 455.45,295.29 455.60,294.62 455.75,294.00 455.91,293.45 456.06,292.95 456.21,292.51 456.36,292.11 456.51,291.77 456.67,291.47 456.82,291.23 456.97,291.02 457.12,290.86 457.27,290.75 457.42,290.68 457.57,290.64 457.73,290.65 457.88,290.70 458.03,290.79 458.18,290.92 458.33,291.09 458.49,291.30 458.64,291.54 458.79,291.83 458.94,292.16 459.09,292.52 459.24,292.92 459.39,293.37 459.55,293.85 459.70,294.37 459.85,294.94 460.00,295.55 460.15,296.19 460.31,296.89 460.46,297.62 460.61,298.40 460.76,299.23 460.91,300.10 461.06,301.02 461.22,301.98 461.37,303.00 461.52,304.06 461.67,305.17 461.82,306.33 461.97,307.53 462.12,308.79 462.28,310.08 462.43,311.42 462.58,312.79 462.73,314.19 462.88,315.60 463.03,317.01 463.19,318.41 463.34,319.76 463.49,321.04 463.64,322.22 463.79,323.26 463.95,324.12 464.10,324.78 464.25,325.19 464.40,325.34 464.55,325.24 464.70,324.89 464.86,324.32 465.01,323.56 465.16,322.65 465.31,321.62 465.46,320.52 465.61,319.36 465.76,318.18 465.92,316.99 466.07,315.82 466.22,314.66 466.37,313.53 466.52,312.44 466.68,311.40 466.83,310.39 466.98,309.43 467.13,308.51 467.28,307.64 467.43,306.81 467.59,306.03 467.74,305.30 467.89,304.60 468.04,303.95 468.19,303.34 468.34,302.77 468.50,302.24 468.65,301.74 468.80,301.28 468.95,300.86 469.10,300.47 469.25,300.12 469.40,299.80 469.56,299.52 469.71,299.26 469.86,299.04 470.01,298.84 470.16,298.68 470.31,298.55 470.47,298.44 470.62,298.37 470.77,298.32 470.92,298.30 471.07,298.30 471.23,298.34 471.38,298.40 471.53,298.49 471.68,298.60 471.83,298.75 471.98,298.91 472.13,299.11 472.29,299.33 472.44,299.58 472.59,299.86 472.74,300.16 472.89,300.49 473.05,300.84 473.20,301.23 473.35,301.64 473.50,302.08 473.65,302.55 473.80,303.05 473.96,303.58 474.11,304.13 474.26,304.72 474.41,305.35 474.56,306.00 474.71,306.69 474.87,307.42 475.02,308.18 475.17,308.97 475.32,309.81 475.47,310.69 475.62,311.61 475.77,312.58 475.93,313.59 476.08,314.65 476.23,315.77 476.38,316.94 476.53,318.17 476.69,319.46 476.84,320.83 476.99,322.27 477.14,323.78 477.29,325.39 477.44,327.09 477.60,328.90 477.75,330.83 477.90,332.89 478.05,335.09 478.20,337.47 478.35,340.04 478.50,342.84 478.66,345.90 478.81,349.28 478.96,353.04 479.11,357.25 479.26,362.03 479.42,367.49 479.57,373.72 479.72,380.58 479.87,383.50 480.02,383.50 480.17,383.50 480.32,381.99 480.48,375.43 480.63,369.46 480.78,364.26 480.93,359.75 481.08,355.81 481.24,352.34 481.39,349.26 481.54,346.50 481.69,344.01 481.84,341.75 481.99,339.68 482.14,337.78 482.30,336.03 482.45,334.42 482.60,332.92 482.75,331.52 482.90,330.23 483.05,329.01 483.21,327.88 483.36,326.82 483.51,325.83 483.66,324.89 483.81,324.02 483.97,323.19 484.12,322.42 484.27,321.69 484.42,321.01 484.57,320.37 484.72,319.76 484.88,319.20 485.03,318.67 485.18,318.17 485.33,317.70 485.48,317.27 485.63,316.86 485.78,316.48 485.94,316.13 486.09,315.80 486.24,315.50 486.39,315.22 486.54,314.96 486.70,314.73 486.85,314.51 487.00,314.32 487.15,314.15 487.30,314.00 487.45,313.86 487.61,313.75 487.76,313.65 487.91,313.57 488.06,313.51 488.21,313.46 488.36,313.43 488.51,313.42 488.67,313.42 488.82,313.44 488.97,313.47 489.12,313.52 489.27,313.58 489.43,313.65 489.58,313.74 489.73,313.85 489.88,313.96 490.03,314.09 490.18,314.24 490.34,314.39 490.49,314.56 490.64,314.75 490.79,314.94 490.94,315.15 491.09,315.37 491.25,315.60 491.40,315.84 491.55,316.10 491.70,316.37 491.85,316.65 492.00,316.94 492.15,317.24 492.31,317.56 492.46,317.89 492.61,318.22 492.76,318.57 492.91,318.94 493.06,319.31 493.22,319.69 493.37,320.09 493.52,320.50 493.67,320.92 493.82,321.35 493.98,321.79 494.13,322.24 494.28,322.71 494.43,323.19 494.58,323.68 494.73,324.18 494.88,324.69 495.04,325.21 495.19,325.75 495.34,326.30 495.49,326.86 495.64,327.43 495.80,328.02 495.95,328.61 496.10,329.22 496.25,329.85 496.40,330.48 496.55,331.13 496.70,331.80 496.86,332.47 497.01,333.16 497.16,333.87 497.31,334.58 497.46,335.31 497.62,336.06 497.77,336.82 497.92,337.60 498.07,338.39 498.22,339.20 498.37,340.02 498.52,340.86 498.68,341.72 498.83,342.59 498.98,343.48 499.13,344.39 499.28,345.32 499.44,346.26 499.59,347.23 499.74,348.21 499.89,349.21 500.04,350.24 500.19,351.29 500.35,352.35 500.50,353.44 500.65,354.56 500.80,355.69 500.95,356.85 501.10,358.04 501.25,359.25 501.41,360.49 501.56,361.75 501.71,363.04 501.86,364.36 502.01,365.70 502.17,367.07 502.32,368.47 502.47,369.89 502.62,371.34 502.77,372.82 502.92,374.31 503.07,375.83 503.23,377.37 503.38,378.91 503.53,380.47 503.68,382.02 503.83,383.50 503.99,383.50 504.14,383.50 504.29,383.50 504.44,383.50 504.59,383.50 504.74,383.50 504.89,383.50 505.05,383.50 505.20,383.50 505.35,383.50 505.50,383.50 505.65,383.50 505.80,383.50 505.96,383.50 506.11,383.50 506.26,383.50 506.41,383.50 506.56,383.50 506.72,383.50 506.87,383.50 507.02,383.50 507.17,383.50 507.32,383.50 507.47,383.50 507.62,383.50 507.78,383.50 507.93,383.50 508.08,383.50 508.23,383.50 508.38,383.50 508.53,383.50 508.69,383.50 508.84,383.50 508.99,383.50 509.14,383.50 509.29,383.50 509.45,383.50 509.60,383.50 509.75,383.50 509.90,383.50 510.05,383.50 510.20,383.50 510.36,383.50 510.51,383.50 510.66,383.50 510.81,383.50 510.96,383.50 511.11,383.50 511.26,383.50 511.42,383.50 511.57,383.50 511.72,383.50 511.87,383.50 512.02,383.50 512.17,383.50 512.33,383.50 512.48,383.50 512.63,383.50 512.78,383.50 512.93,383.50 513.09,383.50 513.24,383.50 513.39,383.50 513.54,383.50 513.69,383.50 513.84,383.50 514.00,383.50 514.15,383.50 514.30,383.50 514.45,383.50 514.60,383.50 514.75,383.50 514.90,383.50 515.06,383.50 515.21,383.50 515.36,383.50 515.51,383.50 515.66,383.50 515.82,383.50 515.97,383.50 516.12,383.50 516.27,383.50 516.42,383.50 516.57,383.50 516.73,383.50 516.88,383.50 517.03,383.50 517.18,383.50 517.33,383.50 517.48,383.50 517.63,383.50 517.79,383.50 517.94,383.50 518.09,383.50 518.24,383.50 518.39,383.50 518.55,383.50 518.70,383.50 518.85,383.50 519.00,383.50" fill="none" stroke="#e8262e" stroke-width="1.9" />
</svg></body></html>
